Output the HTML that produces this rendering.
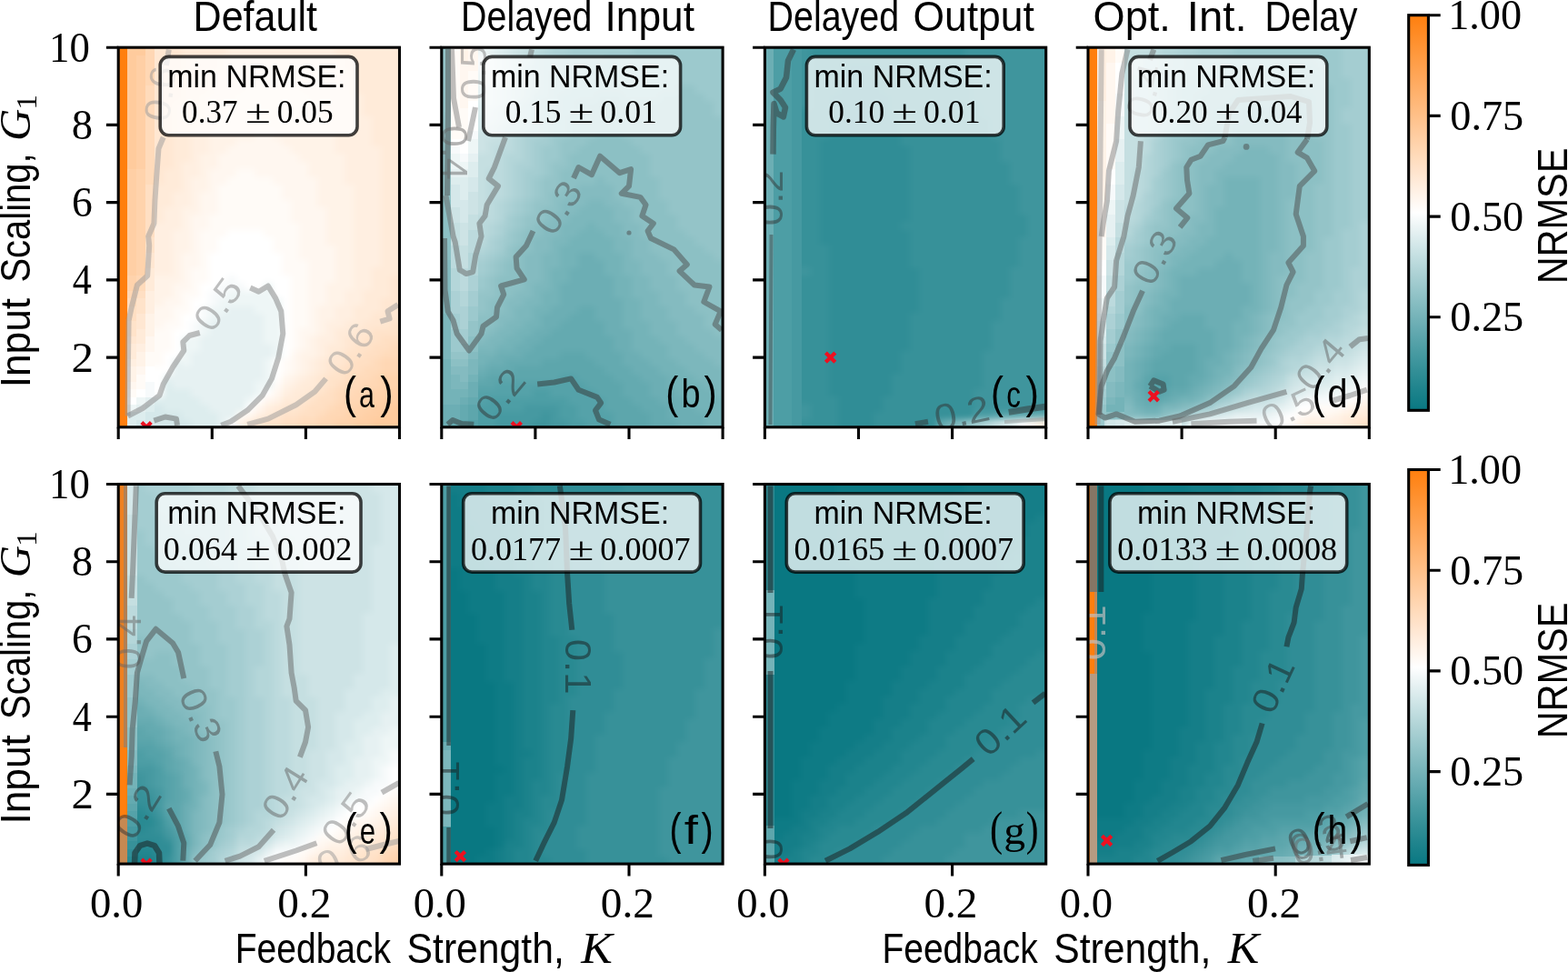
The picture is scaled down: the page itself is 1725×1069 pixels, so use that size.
<!DOCTYPE html>
<html lang="en"><head><meta charset="utf-8"><title>NRMSE heatmaps</title><style>html,body{margin:0;padding:0;background:#fff;}body{width:1725px;height:1069px;overflow:hidden;}svg{display:block;}</style></head><body>
<svg width="1725" height="1069" viewBox="0 0 1725 1069" role="img" aria-label="NRMSE heatmaps">
<rect width="1725" height="1069" fill="#fff"/>
<defs>
<clipPath id="cpa"><rect x="130.2" y="52.2" width="309.3" height="417.6"/></clipPath>
<clipPath id="cpb"><rect x="485.8" y="52.2" width="309.3" height="417.6"/></clipPath>
<clipPath id="cpc"><rect x="841.4" y="52.2" width="309.3" height="417.6"/></clipPath>
<clipPath id="cpd"><rect x="1197.0" y="52.2" width="309.3" height="417.6"/></clipPath>
<clipPath id="cpe"><rect x="130.2" y="532.5" width="309.3" height="417.6"/></clipPath>
<clipPath id="cpf"><rect x="485.8" y="532.5" width="309.3" height="417.6"/></clipPath>
<clipPath id="cpg"><rect x="841.4" y="532.5" width="309.3" height="417.6"/></clipPath>
<clipPath id="cph"><rect x="1197.0" y="532.5" width="309.3" height="417.6"/></clipPath>
<filter id="bl" x="-10%" y="-10%" width="120%" height="120%" color-interpolation-filters="sRGB"><feGaussianBlur stdDeviation="3.2"/></filter>
<linearGradient id="cb" x1="0" y1="0" x2="0" y2="1"><stop offset="0.000" stop-color="#ff7f0e"/><stop offset="0.050" stop-color="#ff8c26"/><stop offset="0.100" stop-color="#ff993e"/><stop offset="0.150" stop-color="#ffa556"/><stop offset="0.200" stop-color="#ffb26e"/><stop offset="0.250" stop-color="#ffbf86"/><stop offset="0.300" stop-color="#ffcc9f"/><stop offset="0.350" stop-color="#ffd9b7"/><stop offset="0.400" stop-color="#ffe5cf"/><stop offset="0.450" stop-color="#fff2e7"/><stop offset="0.500" stop-color="#ffffff"/><stop offset="0.550" stop-color="#e4f0f1"/><stop offset="0.600" stop-color="#c9e2e4"/><stop offset="0.650" stop-color="#afd3d6"/><stop offset="0.700" stop-color="#95c5c9"/><stop offset="0.750" stop-color="#7cb7bc"/><stop offset="0.800" stop-color="#63a9b0"/><stop offset="0.850" stop-color="#4a9ca3"/><stop offset="0.900" stop-color="#338f97"/><stop offset="0.950" stop-color="#1d838c"/><stop offset="1.000" stop-color="#097882"/></linearGradient>
</defs>
<g clip-path="url(#cpa)" shape-rendering="crispEdges">
<g filter="url(#bl)">
<path fill="#d5e8ea" d="M109.9 444.4H180.4V453.4H109.9zM109.9 452.8H200.3V461.7H109.9zM109.9 461.1H210.3V470.1H109.9zM109.9 469.5H210.3V478.5H109.9zM109.9 477.9H210.3V486.8H109.9z"/>
<path fill="#ddedee" d="M179.8 419.4H190.4V428.3H179.8zM179.8 427.7H210.3V436.7H179.8zM109.9 436.1H220.3V445.0H109.9zM179.8 444.4H230.3V453.4H179.8zM199.7 452.8H240.3V461.7H199.7zM209.7 461.1H240.3V470.1H209.7zM209.7 469.5H240.3V478.5H209.7zM209.7 477.9H240.3V486.8H209.7z"/>
<path fill="#e6f1f2" d="M249.6 335.9H280.2V344.8H249.6zM239.7 344.2H290.1V353.2H239.7zM229.7 352.6H290.1V361.5H229.7zM229.7 360.9H290.1V369.9H229.7zM219.7 369.3H290.1V378.2H219.7zM219.7 377.6H300.1V386.6H219.7zM209.7 386.0H300.1V394.9H209.7zM189.8 394.3H200.3V403.3H189.8zM209.7 394.3H290.1V403.3H209.7zM189.8 402.7H290.1V411.6H189.8zM179.8 411.0H290.1V420.0H179.8zM189.8 419.4H280.2V428.3H189.8zM209.7 427.7H280.2V436.7H209.7zM219.7 436.1H270.2V445.0H219.7zM229.7 444.4H270.2V453.4H229.7zM239.7 452.8H260.2V461.7H239.7zM239.7 461.1H250.2V470.1H239.7zM239.7 469.5H250.2V478.5H239.7zM239.7 477.9H250.2V486.8H239.7z"/>
<path fill="#eef6f6" d="M289.5 310.8H300.1V319.8H289.5zM249.6 319.2H300.1V328.1H249.6zM239.7 327.5H310.1V336.5H239.7zM229.7 335.9H250.2V344.8H229.7zM279.6 335.9H310.1V344.8H279.6zM229.7 344.2H240.3V353.2H229.7zM289.5 344.2H310.1V353.2H289.5zM219.7 352.6H230.3V361.5H219.7zM289.5 352.6H310.1V361.5H289.5zM219.7 360.9H230.3V369.9H219.7zM289.5 360.9H310.1V369.9H289.5zM199.7 369.3H220.3V378.2H199.7zM289.5 369.3H310.1V378.2H289.5zM199.7 377.6H220.3V386.6H199.7zM299.5 377.6H310.1V386.6H299.5zM199.7 386.0H210.3V394.9H199.7zM299.5 386.0H310.1V394.9H299.5zM199.7 394.3H210.3V403.3H199.7zM289.5 394.3H300.1V403.3H289.5zM289.5 402.7H300.1V411.6H289.5zM289.5 411.0H300.1V420.0H289.5zM279.6 419.4H300.1V428.3H279.6zM279.6 427.7H290.1V436.7H279.6zM269.6 436.1H280.2V445.0H269.6z"/>
<path fill="#f7fafb" d="M249.6 302.5H260.2V311.4H249.6zM239.7 310.8H270.2V319.8H239.7zM229.7 319.2H250.2V328.1H229.7zM229.7 327.5H240.3V336.5H229.7zM219.7 335.9H230.3V344.8H219.7zM219.7 344.2H230.3V353.2H219.7zM209.7 352.6H220.3V361.5H209.7zM209.7 360.9H220.3V369.9H209.7z"/>
<path fill="#ffffff" d="M249.6 252.3H290.1V261.3H249.6zM239.7 260.7H300.1V269.7H239.7zM239.7 269.1H300.1V278.0H239.7zM229.7 277.4H310.1V286.4H229.7zM229.7 285.8H310.1V294.7H229.7zM229.7 294.1H310.1V303.1H229.7zM229.7 302.5H250.2V311.4H229.7zM259.6 302.5H320.1V311.4H259.6zM219.7 310.8H240.3V319.8H219.7zM269.6 310.8H290.1V319.8H269.6zM299.5 310.8H320.1V319.8H299.5zM219.7 319.2H230.3V328.1H219.7zM299.5 319.2H320.1V328.1H299.5zM209.7 327.5H230.3V336.5H209.7zM309.5 327.5H320.1V336.5H309.5zM209.7 335.9H220.3V344.8H209.7zM309.5 335.9H320.1V344.8H309.5zM199.7 344.2H220.3V353.2H199.7zM309.5 344.2H320.1V353.2H309.5zM199.7 352.6H210.3V361.5H199.7zM309.5 352.6H320.1V361.5H309.5zM189.8 360.9H210.3V369.9H189.8zM309.5 360.9H320.1V369.9H309.5zM189.8 369.3H200.3V378.2H189.8zM309.5 369.3H320.1V378.2H309.5zM189.8 377.6H200.3V386.6H189.8zM309.5 377.6H320.1V386.6H309.5zM179.8 386.0H200.3V394.9H179.8zM309.5 386.0H320.1V394.9H309.5zM179.8 394.3H190.4V403.3H179.8zM299.5 394.3H310.1V403.3H299.5zM109.9 402.7H190.4V411.6H109.9zM299.5 402.7H310.1V411.6H299.5zM109.9 411.0H180.4V420.0H109.9zM299.5 411.0H310.1V420.0H299.5zM109.9 419.4H180.4V428.3H109.9zM109.9 427.7H180.4V436.7H109.9zM289.5 427.7H300.1V436.7H289.5zM279.6 436.1H290.1V445.0H279.6zM269.6 444.4H280.2V453.4H269.6zM249.6 461.1H260.2V470.1H249.6zM249.6 469.5H260.2V478.5H249.6zM249.6 477.9H260.2V486.8H249.6z"/>
<path fill="#fffbf7" d="M259.6 185.5H280.2V194.5H259.6zM249.6 193.9H300.1V202.8H249.6zM239.7 202.2H310.1V211.2H239.7zM239.7 210.6H310.1V219.5H239.7zM239.7 218.9H320.1V227.9H239.7zM239.7 227.3H320.1V236.2H239.7zM229.7 235.6H320.1V244.6H229.7zM229.7 244.0H330.0V252.9H229.7zM219.7 252.3H250.2V261.3H219.7zM289.5 252.3H330.0V261.3H289.5zM219.7 260.7H240.3V269.7H219.7zM299.5 260.7H330.0V269.7H299.5zM219.7 269.1H240.3V278.0H219.7zM299.5 269.1H330.0V278.0H299.5zM219.7 277.4H230.3V286.4H219.7zM309.5 277.4H330.0V286.4H309.5zM219.7 285.8H230.3V294.7H219.7zM309.5 285.8H340.0V294.7H309.5zM209.7 294.1H230.3V303.1H209.7zM309.5 294.1H340.0V303.1H309.5zM209.7 302.5H230.3V311.4H209.7zM319.5 302.5H340.0V311.4H319.5zM209.7 310.8H220.3V319.8H209.7zM319.5 310.8H340.0V319.8H319.5zM199.7 319.2H220.3V328.1H199.7zM319.5 319.2H340.0V328.1H319.5zM199.7 327.5H210.3V336.5H199.7zM319.5 327.5H340.0V336.5H319.5zM189.8 335.9H210.3V344.8H189.8zM319.5 335.9H340.0V344.8H319.5zM189.8 344.2H200.3V353.2H189.8zM319.5 344.2H340.0V353.2H319.5zM179.8 352.6H200.3V361.5H179.8zM319.5 352.6H340.0V361.5H319.5zM109.9 360.9H190.4V369.9H109.9zM319.5 360.9H330.0V369.9H319.5zM109.9 369.3H190.4V378.2H109.9zM319.5 369.3H330.0V378.2H319.5zM109.9 377.6H190.4V386.6H109.9zM319.5 377.6H330.0V386.6H319.5zM109.9 386.0H180.4V394.9H109.9zM109.9 394.3H180.4V403.3H109.9zM309.5 394.3H320.1V403.3H309.5zM309.5 402.7H320.1V411.6H309.5zM299.5 419.4H310.1V428.3H299.5zM259.6 452.8H270.2V461.7H259.6z"/>
<path fill="#fff7f0" d="M279.6 143.8H300.1V152.7H279.6zM259.6 152.1H310.1V161.1H259.6zM249.6 160.5H320.1V169.4H249.6zM239.7 168.8H330.0V177.8H239.7zM239.7 177.2H340.0V186.1H239.7zM229.7 185.5H260.2V194.5H229.7zM279.6 185.5H340.0V194.5H279.6zM229.7 193.9H250.2V202.8H229.7zM299.5 193.9H350.0V202.8H299.5zM229.7 202.2H240.3V211.2H229.7zM309.5 202.2H350.0V211.2H309.5zM219.7 210.6H240.3V219.5H219.7zM309.5 210.6H350.0V219.5H309.5zM219.7 218.9H240.3V227.9H219.7zM319.5 218.9H350.0V227.9H319.5zM219.7 227.3H240.3V236.2H219.7zM319.5 227.3H360.0V236.2H319.5zM209.7 235.6H230.3V244.6H209.7zM319.5 235.6H360.0V244.6H319.5zM209.7 244.0H230.3V252.9H209.7zM329.4 244.0H360.0V252.9H329.4zM209.7 252.3H220.3V261.3H209.7zM329.4 252.3H360.0V261.3H329.4zM209.7 260.7H220.3V269.7H209.7zM329.4 260.7H360.0V269.7H329.4zM209.7 269.1H220.3V278.0H209.7zM329.4 269.1H370.0V278.0H329.4zM199.7 277.4H220.3V286.4H199.7zM329.4 277.4H370.0V286.4H329.4zM199.7 285.8H220.3V294.7H199.7zM339.4 285.8H370.0V294.7H339.4zM199.7 294.1H210.3V303.1H199.7zM339.4 294.1H370.0V303.1H339.4zM199.7 302.5H210.3V311.4H199.7zM339.4 302.5H370.0V311.4H339.4zM189.8 310.8H210.3V319.8H189.8zM339.4 310.8H360.0V319.8H339.4zM189.8 319.2H200.3V328.1H189.8zM339.4 319.2H360.0V328.1H339.4zM179.8 327.5H200.3V336.5H179.8zM339.4 327.5H360.0V336.5H339.4zM109.9 335.9H190.4V344.8H109.9zM339.4 335.9H350.0V344.8H339.4zM109.9 344.2H190.4V353.2H109.9zM339.4 344.2H350.0V353.2H339.4zM109.9 352.6H180.4V361.5H109.9zM339.4 352.6H350.0V361.5H339.4zM329.4 360.9H350.0V369.9H329.4zM329.4 369.3H340.0V378.2H329.4zM329.4 377.6H340.0V386.6H329.4zM319.5 386.0H330.0V394.9H319.5zM319.5 394.3H330.0V403.3H319.5zM319.5 402.7H330.0V411.6H319.5zM309.5 411.0H320.1V420.0H309.5zM299.5 427.7H310.1V436.7H299.5zM289.5 436.1H300.1V445.0H289.5zM279.6 444.4H290.1V453.4H279.6zM269.6 452.8H280.2V461.7H269.6z"/>
<path fill="#fff3e8" d="M289.5 85.3H320.1V94.3H289.5zM269.6 93.7H330.0V102.6H269.6zM259.6 102.0H340.0V111.0H259.6zM259.6 110.4H340.0V119.3H259.6zM249.6 118.7H350.0V127.7H249.6zM239.7 127.1H360.0V136.0H239.7zM239.7 135.4H360.0V144.4H239.7zM229.7 143.8H280.2V152.7H229.7zM299.5 143.8H370.0V152.7H299.5zM229.7 152.1H260.2V161.1H229.7zM309.5 152.1H370.0V161.1H309.5zM229.7 160.5H250.2V169.4H229.7zM319.5 160.5H370.0V169.4H319.5zM219.7 168.8H240.3V177.8H219.7zM329.4 168.8H379.9V177.8H329.4zM219.7 177.2H240.3V186.1H219.7zM339.4 177.2H379.9V186.1H339.4zM219.7 185.5H230.3V194.5H219.7zM339.4 185.5H379.9V194.5H339.4zM209.7 193.9H230.3V202.8H209.7zM349.4 193.9H379.9V202.8H349.4zM209.7 202.2H230.3V211.2H209.7zM349.4 202.2H389.9V211.2H349.4zM209.7 210.6H220.3V219.5H209.7zM349.4 210.6H389.9V219.5H349.4zM209.7 218.9H220.3V227.9H209.7zM349.4 218.9H389.9V227.9H349.4zM199.7 227.3H220.3V236.2H199.7zM359.4 227.3H389.9V236.2H359.4zM199.7 235.6H210.3V244.6H199.7zM359.4 235.6H389.9V244.6H359.4zM199.7 244.0H210.3V252.9H199.7zM359.4 244.0H389.9V252.9H359.4zM189.8 252.3H210.3V261.3H189.8zM359.4 252.3H389.9V261.3H359.4zM189.8 260.7H210.3V269.7H189.8zM359.4 260.7H389.9V269.7H359.4zM189.8 269.1H210.3V278.0H189.8zM369.4 269.1H389.9V278.0H369.4zM189.8 277.4H200.3V286.4H189.8zM369.4 277.4H389.9V286.4H369.4zM189.8 285.8H200.3V294.7H189.8zM369.4 285.8H389.9V294.7H369.4zM189.8 294.1H200.3V303.1H189.8zM369.4 294.1H389.9V303.1H369.4zM109.9 302.5H200.3V311.4H109.9zM369.4 302.5H389.9V311.4H369.4zM109.9 310.8H190.4V319.8H109.9zM359.4 310.8H389.9V319.8H359.4zM109.9 319.2H190.4V328.1H109.9zM359.4 319.2H379.9V328.1H359.4zM109.9 327.5H180.4V336.5H109.9zM359.4 327.5H379.9V336.5H359.4zM349.4 335.9H370.0V344.8H349.4zM349.4 344.2H370.0V353.2H349.4zM349.4 352.6H360.0V361.5H349.4zM349.4 360.9H360.0V369.9H349.4zM339.4 369.3H350.0V378.2H339.4zM339.4 377.6H350.0V386.6H339.4zM329.4 386.0H350.0V394.9H329.4zM329.4 394.3H340.0V403.3H329.4zM329.4 402.7H340.0V411.6H329.4zM319.5 411.0H330.0V420.0H319.5zM309.5 419.4H320.1V428.3H309.5zM299.5 436.1H310.1V445.0H299.5zM259.6 461.1H270.2V470.1H259.6zM259.6 469.5H270.2V478.5H259.6zM259.6 477.9H270.2V486.8H259.6z"/>
<path fill="#ffefe1" d="M249.6 35.2H370.0V44.1H249.6zM249.6 43.5H370.0V52.5H249.6zM249.6 51.9H370.0V60.9H249.6zM239.7 60.3H379.9V69.2H239.7zM239.7 68.6H379.9V77.6H239.7zM229.7 77.0H389.9V85.9H229.7zM229.7 85.3H290.1V94.3H229.7zM319.5 85.3H389.9V94.3H319.5zM229.7 93.7H270.2V102.6H229.7zM329.4 93.7H389.9V102.6H329.4zM219.7 102.0H260.2V111.0H219.7zM339.4 102.0H399.9V111.0H339.4zM219.7 110.4H260.2V119.3H219.7zM339.4 110.4H399.9V119.3H339.4zM219.7 118.7H250.2V127.7H219.7zM349.4 118.7H399.9V127.7H349.4zM219.7 127.1H240.3V136.0H219.7zM359.4 127.1H409.9V136.0H359.4zM209.7 135.4H240.3V144.4H209.7zM359.4 135.4H409.9V144.4H359.4zM209.7 143.8H230.3V152.7H209.7zM369.4 143.8H409.9V152.7H369.4zM209.7 152.1H230.3V161.1H209.7zM369.4 152.1H409.9V161.1H369.4zM209.7 160.5H230.3V169.4H209.7zM369.4 160.5H419.8V169.4H369.4zM209.7 168.8H220.3V177.8H209.7zM379.3 168.8H419.8V177.8H379.3zM199.7 177.2H220.3V186.1H199.7zM379.3 177.2H419.8V186.1H379.3zM199.7 185.5H220.3V194.5H199.7zM379.3 185.5H419.8V194.5H379.3zM199.7 193.9H210.3V202.8H199.7zM379.3 193.9H419.8V202.8H379.3zM199.7 202.2H210.3V211.2H199.7zM389.3 202.2H419.8V211.2H389.3zM189.8 210.6H210.3V219.5H189.8zM389.3 210.6H419.8V219.5H389.3zM189.8 218.9H210.3V227.9H189.8zM389.3 218.9H419.8V227.9H389.3zM179.8 227.3H200.3V236.2H179.8zM389.3 227.3H419.8V236.2H389.3zM179.8 235.6H200.3V244.6H179.8zM389.3 235.6H419.8V244.6H389.3zM109.9 244.0H200.3V252.9H109.9zM389.3 244.0H419.8V252.9H389.3zM109.9 252.3H190.4V261.3H109.9zM389.3 252.3H419.8V261.3H389.3zM109.9 260.7H190.4V269.7H109.9zM389.3 260.7H419.8V269.7H389.3zM109.9 269.1H190.4V278.0H109.9zM389.3 269.1H419.8V278.0H389.3zM109.9 277.4H190.4V286.4H109.9zM389.3 277.4H419.8V286.4H389.3zM109.9 285.8H190.4V294.7H109.9zM389.3 285.8H419.8V294.7H389.3zM109.9 294.1H190.4V303.1H109.9zM389.3 294.1H409.9V303.1H389.3zM389.3 302.5H409.9V311.4H389.3zM389.3 310.8H409.9V319.8H389.3zM379.3 319.2H399.9V328.1H379.3zM379.3 327.5H399.9V336.5H379.3zM369.4 335.9H389.9V344.8H369.4zM369.4 344.2H389.9V353.2H369.4zM359.4 352.6H379.9V361.5H359.4zM359.4 360.9H370.0V369.9H359.4zM349.4 369.3H370.0V378.2H349.4zM349.4 377.6H360.0V386.6H349.4zM349.4 386.0H360.0V394.9H349.4zM339.4 394.3H350.0V403.3H339.4zM339.4 402.7H350.0V411.6H339.4zM329.4 411.0H340.0V420.0H329.4zM319.5 419.4H330.0V428.3H319.5zM309.5 427.7H320.1V436.7H309.5zM289.5 444.4H300.1V453.4H289.5zM279.6 452.8H290.1V461.7H279.6z"/>
<path fill="#ffebd9" d="M199.7 35.2H250.2V44.1H199.7zM369.4 35.2H459.8V44.1H369.4zM199.7 43.5H250.2V52.5H199.7zM369.4 43.5H459.8V52.5H369.4zM199.7 51.9H250.2V60.9H199.7zM369.4 51.9H459.8V60.9H369.4zM199.7 60.3H240.3V69.2H199.7zM379.3 60.3H459.8V69.2H379.3zM199.7 68.6H240.3V77.6H199.7zM379.3 68.6H459.8V77.6H379.3zM199.7 77.0H230.3V85.9H199.7zM389.3 77.0H459.8V85.9H389.3zM199.7 85.3H230.3V94.3H199.7zM389.3 85.3H459.8V94.3H389.3zM199.7 93.7H230.3V102.6H199.7zM389.3 93.7H459.8V102.6H389.3zM199.7 102.0H220.3V111.0H199.7zM399.3 102.0H459.8V111.0H399.3zM189.8 110.4H220.3V119.3H189.8zM399.3 110.4H459.8V119.3H399.3zM189.8 118.7H220.3V127.7H189.8zM399.3 118.7H459.8V127.7H399.3zM189.8 127.1H220.3V136.0H189.8zM409.3 127.1H459.8V136.0H409.3zM189.8 135.4H210.3V144.4H189.8zM409.3 135.4H459.8V144.4H409.3zM189.8 143.8H210.3V152.7H189.8zM409.3 143.8H459.8V152.7H409.3zM189.8 152.1H210.3V161.1H189.8zM409.3 152.1H459.8V161.1H409.3zM189.8 160.5H210.3V169.4H189.8zM419.2 160.5H459.8V169.4H419.2zM189.8 168.8H210.3V177.8H189.8zM419.2 168.8H459.8V177.8H419.2zM189.8 177.2H200.3V186.1H189.8zM419.2 177.2H459.8V186.1H419.2zM179.8 185.5H200.3V194.5H179.8zM419.2 185.5H459.8V194.5H419.2zM179.8 193.9H200.3V202.8H179.8zM419.2 193.9H459.8V202.8H419.2zM109.9 202.2H200.3V211.2H109.9zM419.2 202.2H459.8V211.2H419.2zM109.9 210.6H190.4V219.5H109.9zM419.2 210.6H459.8V219.5H419.2zM109.9 218.9H190.4V227.9H109.9zM419.2 218.9H459.8V227.9H419.2zM109.9 227.3H180.4V236.2H109.9zM419.2 227.3H459.8V236.2H419.2zM109.9 235.6H180.4V244.6H109.9zM419.2 235.6H459.8V244.6H419.2zM419.2 244.0H459.8V252.9H419.2zM419.2 252.3H459.8V261.3H419.2zM419.2 260.7H459.8V269.7H419.2zM419.2 269.1H459.8V278.0H419.2zM419.2 277.4H459.8V286.4H419.2zM419.2 285.8H459.8V294.7H419.2zM409.3 294.1H459.8V303.1H409.3zM409.3 302.5H429.8V311.4H409.3zM409.3 310.8H429.8V319.8H409.3zM399.3 319.2H429.8V328.1H399.3zM399.3 327.5H419.8V336.5H399.3zM389.3 335.9H419.8V344.8H389.3zM389.3 344.2H409.9V353.2H389.3zM379.3 352.6H399.9V361.5H379.3zM369.4 360.9H389.9V369.9H369.4zM369.4 369.3H379.9V378.2H369.4zM359.4 377.6H379.9V386.6H359.4zM359.4 386.0H370.0V394.9H359.4zM349.4 394.3H360.0V403.3H349.4zM349.4 402.7H360.0V411.6H349.4zM339.4 411.0H350.0V420.0H339.4zM329.4 419.4H350.0V428.3H329.4zM319.5 427.7H340.0V436.7H319.5zM309.5 436.1H330.0V445.0H309.5zM299.5 444.4H310.1V453.4H299.5zM289.5 452.8H300.1V461.7H289.5zM269.6 461.1H280.2V470.1H269.6zM269.6 469.5H280.2V478.5H269.6zM269.6 477.9H280.2V486.8H269.6z"/>
<path fill="#ffe7d2" d="M109.9 35.2H200.3V44.1H109.9zM109.9 43.5H200.3V52.5H109.9zM109.9 51.9H200.3V60.9H109.9zM109.9 60.3H200.3V69.2H109.9zM109.9 68.6H200.3V77.6H109.9zM109.9 77.0H200.3V85.9H109.9zM109.9 85.3H200.3V94.3H109.9zM109.9 93.7H200.3V102.6H109.9zM109.9 102.0H200.3V111.0H109.9zM109.9 110.4H190.4V119.3H109.9zM109.9 118.7H190.4V127.7H109.9zM109.9 127.1H190.4V136.0H109.9zM109.9 135.4H190.4V144.4H109.9zM109.9 143.8H190.4V152.7H109.9zM109.9 152.1H190.4V161.1H109.9zM109.9 160.5H190.4V169.4H109.9zM109.9 168.8H190.4V177.8H109.9zM109.9 177.2H190.4V186.1H109.9zM109.9 185.5H180.4V194.5H109.9zM109.9 193.9H180.4V202.8H109.9zM429.2 302.5H459.8V311.4H429.2zM429.2 310.8H459.8V319.8H429.2zM429.2 319.2H459.8V328.1H429.2zM419.2 327.5H459.8V336.5H419.2zM419.2 335.9H459.8V344.8H419.2zM409.3 344.2H459.8V353.2H409.3zM399.3 352.6H429.8V361.5H399.3zM389.3 360.9H409.9V369.9H389.3zM379.3 369.3H399.9V378.2H379.3zM379.3 377.6H389.9V386.6H379.3zM369.4 386.0H379.9V394.9H369.4zM359.4 394.3H379.9V403.3H359.4zM359.4 402.7H370.0V411.6H359.4zM349.4 411.0H360.0V420.0H349.4zM349.4 419.4H360.0V428.3H349.4zM339.4 427.7H350.0V436.7H339.4zM329.4 436.1H340.0V445.0H329.4zM309.5 444.4H330.0V453.4H309.5zM299.5 452.8H310.1V461.7H299.5zM279.6 461.1H290.1V470.1H279.6zM279.6 469.5H290.1V478.5H279.6zM279.6 477.9H290.1V486.8H279.6z"/>
<path fill="#ffe3ca" d="M429.2 352.6H459.8V361.5H429.2zM409.3 360.9H459.8V369.9H409.3zM399.3 369.3H419.8V378.2H399.3zM389.3 377.6H409.9V386.6H389.3zM379.3 386.0H399.9V394.9H379.3zM379.3 394.3H389.9V403.3H379.3zM369.4 402.7H379.9V411.6H369.4zM359.4 411.0H379.9V420.0H359.4zM359.4 419.4H370.0V428.3H359.4zM349.4 427.7H360.0V436.7H349.4zM339.4 436.1H350.0V445.0H339.4zM329.4 444.4H340.0V453.4H329.4zM309.5 452.8H330.0V461.7H309.5zM289.5 461.1H310.1V470.1H289.5zM289.5 469.5H310.1V478.5H289.5zM289.5 477.9H310.1V486.8H289.5z"/>
<path fill="#ffdfc3" d="M419.2 369.3H459.8V378.2H419.2zM409.3 377.6H429.8V386.6H409.3zM399.3 386.0H419.8V394.9H399.3zM389.3 394.3H409.9V403.3H389.3zM379.3 402.7H399.9V411.6H379.3zM379.3 411.0H389.9V420.0H379.3zM369.4 419.4H379.9V428.3H369.4zM359.4 427.7H370.0V436.7H359.4zM349.4 436.1H370.0V445.0H349.4zM339.4 444.4H360.0V453.4H339.4zM329.4 452.8H350.0V461.7H329.4zM309.5 461.1H330.0V470.1H309.5zM309.5 469.5H330.0V478.5H309.5zM309.5 477.9H330.0V486.8H309.5z"/>
<path fill="#ffdbbb" d="M429.2 377.6H459.8V386.6H429.2zM419.2 386.0H459.8V394.9H419.2zM409.3 394.3H419.8V403.3H409.3zM399.3 402.7H419.8V411.6H399.3zM389.3 411.0H409.9V420.0H389.3zM379.3 419.4H399.9V428.3H379.3zM369.4 427.7H389.9V436.7H369.4zM369.4 436.1H379.9V445.0H369.4zM359.4 444.4H370.0V453.4H359.4zM349.4 452.8H360.0V461.7H349.4zM329.4 461.1H350.0V470.1H329.4zM329.4 469.5H350.0V478.5H329.4zM329.4 477.9H350.0V486.8H329.4z"/>
<path fill="#ffd7b4" d="M419.2 394.3H459.8V403.3H419.2zM419.2 402.7H459.8V411.6H419.2zM409.3 411.0H419.8V420.0H409.3zM399.3 419.4H419.8V428.3H399.3zM389.3 427.7H409.9V436.7H389.3zM379.3 436.1H399.9V445.0H379.3zM369.4 444.4H389.9V453.4H369.4zM359.4 452.8H379.9V461.7H359.4zM349.4 461.1H370.0V470.1H349.4zM349.4 469.5H370.0V478.5H349.4zM349.4 477.9H370.0V486.8H349.4z"/>
<path fill="#ffd3ac" d="M419.2 411.0H459.8V420.0H419.2zM419.2 419.4H459.8V428.3H419.2zM409.3 427.7H429.8V436.7H409.3zM399.3 436.1H419.8V445.0H399.3zM389.3 444.4H409.9V453.4H389.3zM379.3 452.8H399.9V461.7H379.3zM369.4 461.1H389.9V470.1H369.4zM369.4 469.5H389.9V478.5H369.4zM369.4 477.9H389.9V486.8H369.4z"/>
<path fill="#ffcfa5" d="M429.2 427.7H459.8V436.7H429.2zM419.2 436.1H459.8V445.0H419.2zM409.3 444.4H429.8V453.4H409.3zM399.3 452.8H419.8V461.7H399.3zM389.3 461.1H409.9V470.1H389.3zM389.3 469.5H409.9V478.5H389.3zM389.3 477.9H409.9V486.8H389.3z"/>
<path fill="#ffcb9d" d="M429.2 444.4H459.8V453.4H429.2zM419.2 452.8H459.8V461.7H419.2zM409.3 461.1H459.8V470.1H409.3zM409.3 469.5H459.8V478.5H409.3zM409.3 477.9H459.8V486.8H409.3z"/>
</g>
<path fill="#ff7f0e" d="M129.9 51.9H140.5V60.9H129.9zM129.9 60.3H140.5V69.2H129.9zM129.9 68.6H140.5V77.6H129.9zM129.9 77.0H140.5V85.9H129.9zM129.9 85.3H140.5V94.3H129.9zM129.9 93.7H140.5V102.6H129.9zM129.9 102.0H140.5V111.0H129.9zM129.9 110.4H140.5V119.3H129.9zM129.9 118.7H140.5V127.7H129.9zM129.9 127.1H140.5V136.0H129.9zM129.9 135.4H140.5V144.4H129.9zM129.9 143.8H140.5V152.7H129.9zM129.9 152.1H140.5V161.1H129.9zM129.9 160.5H140.5V169.4H129.9zM129.9 168.8H140.5V177.8H129.9zM129.9 177.2H140.5V186.1H129.9zM129.9 185.5H140.5V194.5H129.9zM129.9 193.9H140.5V202.8H129.9zM129.9 202.2H140.5V211.2H129.9zM129.9 210.6H140.5V219.5H129.9zM129.9 218.9H140.5V227.9H129.9zM129.9 227.3H140.5V236.2H129.9zM129.9 235.6H140.5V244.6H129.9zM129.9 244.0H140.5V252.9H129.9zM129.9 252.3H140.5V261.3H129.9zM129.9 260.7H140.5V269.7H129.9zM129.9 269.1H140.5V278.0H129.9zM129.9 277.4H140.5V286.4H129.9zM129.9 285.8H140.5V294.7H129.9zM129.9 294.1H140.5V303.1H129.9zM129.9 302.5H140.5V311.4H129.9zM129.9 310.8H140.5V319.8H129.9zM129.9 319.2H140.5V328.1H129.9zM129.9 327.5H140.5V336.5H129.9zM129.9 335.9H140.5V344.8H129.9zM129.9 344.2H140.5V353.2H129.9zM129.9 352.6H140.5V361.5H129.9zM129.9 360.9H140.5V369.9H129.9zM129.9 369.3H140.5V378.2H129.9zM129.9 377.6H140.5V386.6H129.9zM129.9 386.0H140.5V394.9H129.9zM129.9 394.3H140.5V403.3H129.9zM129.9 402.7H140.5V411.6H129.9zM129.9 411.0H140.5V420.0H129.9zM129.9 419.4H140.5V428.3H129.9zM129.9 427.7H140.5V436.7H129.9zM129.9 436.1H140.5V445.0H129.9zM129.9 444.4H140.5V453.4H129.9zM129.9 452.8H140.5V461.7H129.9zM129.9 461.1H140.5V470.1H129.9z"/>
<path fill="#ddedee" d="M139.9 452.8H150.5V461.7H139.9zM139.9 461.1H150.5V470.1H139.9z"/>
<path fill="#eef6f6" d="M139.9 444.4H150.5V453.4H139.9z"/>
<path fill="#ffffff" d="M139.9 436.1H150.5V445.0H139.9z"/>
<path fill="#fffbf7" d="M139.9 427.7H150.5V436.7H139.9z"/>
<path fill="#fff7f0" d="M139.9 419.4H150.5V428.3H139.9z"/>
<path fill="#fff3e8" d="M139.9 402.7H150.5V411.6H139.9zM139.9 411.0H150.5V420.0H139.9z"/>
<path fill="#ffefe1" d="M139.9 394.3H150.5V403.3H139.9z"/>
<path fill="#ffebd9" d="M139.9 377.6H150.5V386.6H139.9zM139.9 386.0H150.5V394.9H139.9z"/>
<path fill="#ffe7d2" d="M139.9 369.3H150.5V378.2H139.9z"/>
<path fill="#ffe3ca" d="M139.9 352.6H150.5V361.5H139.9zM139.9 360.9H150.5V369.9H139.9z"/>
<path fill="#ffdfc3" d="M139.9 335.9H150.5V344.8H139.9zM139.9 344.2H150.5V353.2H139.9z"/>
<path fill="#ffdbbb" d="M139.9 327.5H150.5V336.5H139.9z"/>
<path fill="#ffd7b4" d="M139.9 319.2H150.5V328.1H139.9z"/>
<path fill="#ffd3ac" d="M139.9 302.5H150.5V311.4H139.9zM139.9 310.8H150.5V319.8H139.9z"/>
<path fill="#ffcfa5" d="M139.9 185.5H150.5V194.5H139.9zM139.9 193.9H150.5V202.8H139.9zM139.9 202.2H150.5V211.2H139.9zM139.9 210.6H150.5V219.5H139.9zM139.9 218.9H150.5V227.9H139.9zM139.9 227.3H150.5V236.2H139.9zM139.9 235.6H150.5V244.6H139.9zM139.9 244.0H150.5V252.9H139.9zM139.9 252.3H150.5V261.3H139.9zM139.9 260.7H150.5V269.7H139.9zM139.9 269.1H150.5V278.0H139.9zM139.9 277.4H150.5V286.4H139.9zM139.9 285.8H150.5V294.7H139.9zM139.9 294.1H150.5V303.1H139.9z"/>
<path fill="#ffcb9d" d="M139.9 51.9H150.5V60.9H139.9zM139.9 60.3H150.5V69.2H139.9zM139.9 68.6H150.5V77.6H139.9zM139.9 77.0H150.5V85.9H139.9zM139.9 85.3H150.5V94.3H139.9zM139.9 93.7H150.5V102.6H139.9zM139.9 102.0H150.5V111.0H139.9zM139.9 110.4H150.5V119.3H139.9zM139.9 118.7H150.5V127.7H139.9zM139.9 127.1H150.5V136.0H139.9zM139.9 135.4H150.5V144.4H139.9zM139.9 143.8H150.5V152.7H139.9zM139.9 152.1H150.5V161.1H139.9zM139.9 160.5H150.5V169.4H139.9zM139.9 168.8H150.5V177.8H139.9zM139.9 177.2H150.5V186.1H139.9z"/>
<path fill="#d5e8ea" d="M149.9 461.1H160.4V470.1H149.9z"/>
<path fill="#ddedee" d="M149.9 452.8H160.4V461.7H149.9z"/>
<path fill="#e6f1f2" d="M149.9 444.4H160.4V453.4H149.9z"/>
<path fill="#eef6f6" d="M149.9 436.1H160.4V445.0H149.9z"/>
<path fill="#ffffff" d="M149.9 427.7H160.4V436.7H149.9z"/>
<path fill="#fffbf7" d="M149.9 411.0H160.4V420.0H149.9zM149.9 419.4H160.4V428.3H149.9z"/>
<path fill="#fff7f0" d="M149.9 402.7H160.4V411.6H149.9z"/>
<path fill="#fff3e8" d="M149.9 386.0H160.4V394.9H149.9zM149.9 394.3H160.4V403.3H149.9z"/>
<path fill="#ffefe1" d="M149.9 377.6H160.4V386.6H149.9z"/>
<path fill="#ffebd9" d="M149.9 360.9H160.4V369.9H149.9zM149.9 369.3H160.4V378.2H149.9z"/>
<path fill="#ffe7d2" d="M149.9 344.2H160.4V353.2H149.9zM149.9 352.6H160.4V361.5H149.9z"/>
<path fill="#ffe3ca" d="M149.9 327.5H160.4V336.5H149.9zM149.9 335.9H160.4V344.8H149.9z"/>
<path fill="#ffdfc3" d="M149.9 319.2H160.4V328.1H149.9z"/>
<path fill="#ffdbbb" d="M149.9 310.8H160.4V319.8H149.9z"/>
<path fill="#ffd7b4" d="M149.9 302.5H160.4V311.4H149.9z"/>
<path fill="#ffd3ac" d="M149.9 185.5H160.4V194.5H149.9zM149.9 193.9H160.4V202.8H149.9zM149.9 202.2H160.4V211.2H149.9zM149.9 210.6H160.4V219.5H149.9zM149.9 218.9H160.4V227.9H149.9zM149.9 227.3H160.4V236.2H149.9zM149.9 235.6H160.4V244.6H149.9zM149.9 244.0H160.4V252.9H149.9zM149.9 252.3H160.4V261.3H149.9zM149.9 260.7H160.4V269.7H149.9zM149.9 269.1H160.4V278.0H149.9zM149.9 277.4H160.4V286.4H149.9zM149.9 285.8H160.4V294.7H149.9zM149.9 294.1H160.4V303.1H149.9z"/>
<path fill="#ffcfa5" d="M149.9 60.3H160.4V69.2H149.9zM149.9 68.6H160.4V77.6H149.9zM149.9 77.0H160.4V85.9H149.9zM149.9 85.3H160.4V94.3H149.9zM149.9 93.7H160.4V102.6H149.9zM149.9 102.0H160.4V111.0H149.9zM149.9 110.4H160.4V119.3H149.9zM149.9 118.7H160.4V127.7H149.9zM149.9 127.1H160.4V136.0H149.9zM149.9 135.4H160.4V144.4H149.9zM149.9 143.8H160.4V152.7H149.9zM149.9 152.1H160.4V161.1H149.9zM149.9 160.5H160.4V169.4H149.9zM149.9 168.8H160.4V177.8H149.9zM149.9 177.2H160.4V186.1H149.9z"/>
<path fill="#ffcb9d" d="M149.9 51.9H160.4V60.9H149.9z"/>
<path fill="#d5e8ea" d="M159.8 452.8H170.4V461.7H159.8zM159.8 461.1H170.4V470.1H159.8z"/>
<path fill="#ddedee" d="M159.8 444.4H170.4V453.4H159.8z"/>
<path fill="#e6f1f2" d="M159.8 436.1H170.4V445.0H159.8z"/>
<path fill="#f7fafb" d="M159.8 419.4H170.4V428.3H159.8zM159.8 427.7H170.4V436.7H159.8z"/>
<path fill="#ffffff" d="M159.8 402.7H170.4V411.6H159.8zM159.8 411.0H170.4V420.0H159.8z"/>
<path fill="#fffbf7" d="M159.8 386.0H170.4V394.9H159.8zM159.8 394.3H170.4V403.3H159.8z"/>
<path fill="#fff7f0" d="M159.8 369.3H170.4V378.2H159.8zM159.8 377.6H170.4V386.6H159.8z"/>
<path fill="#fff3e8" d="M159.8 344.2H170.4V353.2H159.8zM159.8 352.6H170.4V361.5H159.8zM159.8 360.9H170.4V369.9H159.8z"/>
<path fill="#ffefe1" d="M159.8 319.2H170.4V328.1H159.8zM159.8 327.5H170.4V336.5H159.8zM159.8 335.9H170.4V344.8H159.8z"/>
<path fill="#ffebd9" d="M159.8 294.1H170.4V303.1H159.8zM159.8 302.5H170.4V311.4H159.8zM159.8 310.8H170.4V319.8H159.8z"/>
<path fill="#ffe7d2" d="M159.8 277.4H170.4V286.4H159.8zM159.8 285.8H170.4V294.7H159.8z"/>
<path fill="#ffe3ca" d="M159.8 260.7H170.4V269.7H159.8zM159.8 269.1H170.4V278.0H159.8z"/>
<path fill="#ffdfc3" d="M159.8 202.2H170.4V211.2H159.8zM159.8 210.6H170.4V219.5H159.8zM159.8 218.9H170.4V227.9H159.8zM159.8 227.3H170.4V236.2H159.8zM159.8 235.6H170.4V244.6H159.8zM159.8 244.0H170.4V252.9H159.8zM159.8 252.3H170.4V261.3H159.8z"/>
<path fill="#ffdbbb" d="M159.8 93.7H170.4V102.6H159.8zM159.8 102.0H170.4V111.0H159.8zM159.8 110.4H170.4V119.3H159.8zM159.8 118.7H170.4V127.7H159.8zM159.8 127.1H170.4V136.0H159.8zM159.8 135.4H170.4V144.4H159.8zM159.8 143.8H170.4V152.7H159.8zM159.8 152.1H170.4V161.1H159.8zM159.8 160.5H170.4V169.4H159.8zM159.8 168.8H170.4V177.8H159.8zM159.8 177.2H170.4V186.1H159.8zM159.8 185.5H170.4V194.5H159.8zM159.8 193.9H170.4V202.8H159.8z"/>
<path fill="#ffd7b4" d="M159.8 51.9H170.4V60.9H159.8zM159.8 60.3H170.4V69.2H159.8zM159.8 68.6H170.4V77.6H159.8zM159.8 77.0H170.4V85.9H159.8zM159.8 85.3H170.4V94.3H159.8z"/>
</g>
<g clip-path="url(#cpa)">
<path d="M185.8 54.4L184.5 62.0L183.0 72.0" fill="none" stroke="#999999" stroke-opacity="0.5" stroke-width="6.0" stroke-linejoin="round" stroke-linecap="butt"/>
<path d="M179.7 151.0L174.5 163.4L172.5 190.0L170.4 221.0L169.4 245.7L163.2 260.0L164.2 270.0L162.2 303.2L150.9 313.5L144.7 338.2L141.6 352.6L140.9 400.0L140.6 457.5" fill="none" stroke="#999999" stroke-opacity="0.5" stroke-width="6.0" stroke-linejoin="round" stroke-linecap="butt"/>
<text transform="rotate(-82.00,176.00,103.00) translate(145.76,117.00) scale(1.0878,1)" font-family='"Liberation Sans", sans-serif' font-size="40.00" fill="#999999" opacity="0.5">0.6</text>
<path d="M140.6 457.5L157.0 449.0L175.5 434.9L179.7 422.5L190.0 404.0L202.3 385.5L201.3 376.2L208.5 369.0L219.8 366.0" fill="none" stroke="#808080" stroke-opacity="0.5" stroke-width="6.0" stroke-linejoin="round" stroke-linecap="butt"/>
<text transform="rotate(-54.00,239.50,334.50) translate(209.26,348.50) scale(1.0878,1)" font-family='"Liberation Sans", sans-serif' font-size="40.00" fill="#808080" opacity="0.5">0.5</text>
<path d="M275.3 316.6L284.6 320.7L294.9 314.5L303.1 327.9L309.3 342.3L311.3 367.0L306.2 393.7L299.0 416.4L288.7 434.9L272.2 451.3L253.7 463.7L243.4 467.8" fill="none" stroke="#808080" stroke-opacity="0.5" stroke-width="6.0" stroke-linejoin="round" stroke-linecap="butt"/>
<path d="M169.4 462.7L181.7 458.5L194.0 460.6L195.0 467.8" fill="none" stroke="#666666" stroke-opacity="0.5" stroke-width="6.0" stroke-linejoin="round" stroke-linecap="butt"/>
<path d="M272.2 466.8L294.9 460.6L325.7 445.2L346.3 430.8L358.6 416.4" fill="none" stroke="#999999" stroke-opacity="0.5" stroke-width="6.0" stroke-linejoin="round" stroke-linecap="butt"/>
<text transform="rotate(-55.00,385.50,384.00) translate(355.26,398.00) scale(1.0878,1)" font-family='"Liberation Sans", sans-serif' font-size="40.00" fill="#999999" opacity="0.5">0.6</text>
<path d="M418.3 353.6L428.6 350.5L426.5 342.3L437.9 335.1" fill="none" stroke="#999999" stroke-opacity="0.5" stroke-width="6.0" stroke-linejoin="round" stroke-linecap="butt"/>
<path d="M155.9 464.6L166.3 475.0M155.9 475.0L166.3 464.6" stroke="#ee1020" stroke-width="4.2" fill="none"/>
<rect x="176.2" y="62.4" width="216.8" height="86.4" rx="9.5" ry="9.5" fill="#fff" fill-opacity="0.75" stroke="#000" stroke-opacity="0.75" stroke-width="3.6"/>
<text transform="translate(184.29,96.10) scale(0.9766,1)" font-family='"Liberation Sans", sans-serif' font-size="34.78" fill="#000">min NRMSE:</text>
<text transform="translate(200.10,135.40) scale(0.9896,1)" font-family='"Liberation Serif", serif' font-size="35.49" fill="#000">0.37</text>
<text transform="translate(269.97,135.40) scale(1.4301,1)" font-family='"Liberation Serif", serif' font-size="35.49" fill="#000">±</text>
<text transform="translate(304.79,135.40) scale(0.9955,1)" font-family='"Liberation Serif", serif' font-size="35.49" fill="#000">0.05</text>
<g><text transform="translate(377.99,448.82) scale(0.8315,1)" font-family='"Liberation Sans", sans-serif' font-size="50.37" fill="#000">(</text><text transform="translate(394.98,447.80) scale(0.7550,1)" font-family='"Liberation Sans", sans-serif' font-size="40.38" fill="#000">a</text><text transform="translate(418.18,448.82) scale(0.8615,1)" font-family='"Liberation Sans", sans-serif' font-size="50.37" fill="#000">)</text></g>
</g>
<rect x="130.2" y="52.2" width="309.3" height="417.6" fill="none" stroke="#000" stroke-width="3.1"/>
<path d="M130.2 393.1h-13.3M130.2 307.9h-13.3M130.2 222.6h-13.3M130.2 137.4h-13.3M130.2 52.2h-13.3M130.2 469.8v13.3M233.3 469.8v13.3M336.4 469.8v13.3M439.5 469.8v13.3" stroke="#000" stroke-width="3.1" fill="none"/>
<g clip-path="url(#cpb)" shape-rendering="crispEdges">
<g filter="url(#bl)">
<path fill="#3f959d" d="M595.3 452.8H605.8V461.7H595.3zM585.3 461.1H605.8V470.1H585.3zM585.3 469.5H605.8V478.5H585.3zM585.3 477.9H605.8V486.8H585.3z"/>
<path fill="#4699a1" d="M575.3 444.4H615.8V453.4H575.3zM545.4 452.8H595.9V461.7H545.4zM605.2 452.8H615.8V461.7H605.2zM545.4 461.1H585.9V470.1H545.4zM605.2 461.1H625.8V470.1H605.2zM545.4 469.5H585.9V478.5H545.4zM605.2 469.5H625.8V478.5H605.2zM545.4 477.9H585.9V486.8H545.4zM605.2 477.9H625.8V486.8H605.2z"/>
<path fill="#4d9ea5" d="M585.3 427.7H605.8V436.7H585.3zM535.4 436.1H625.8V445.0H535.4zM465.5 444.4H575.9V453.4H465.5zM615.2 444.4H635.8V453.4H615.2zM465.5 452.8H546.0V461.7H465.5zM615.2 452.8H635.8V461.7H615.2zM465.5 461.1H546.0V470.1H465.5zM625.2 461.1H645.7V470.1H625.2zM465.5 469.5H546.0V478.5H465.5zM625.2 469.5H645.7V478.5H625.2zM465.5 477.9H546.0V486.8H465.5zM625.2 477.9H645.7V486.8H625.2z"/>
<path fill="#55a2a9" d="M615.2 411.0H635.8V420.0H615.2zM545.4 419.4H645.7V428.3H545.4zM465.5 427.7H585.9V436.7H465.5zM605.2 427.7H655.7V436.7H605.2zM465.5 436.1H536.0V445.0H465.5zM625.2 436.1H665.7V445.0H625.2zM635.2 444.4H665.7V453.4H635.2zM635.2 452.8H675.7V461.7H635.2zM645.1 461.1H675.7V470.1H645.1zM645.1 469.5H675.7V478.5H645.1zM645.1 477.9H675.7V486.8H645.1z"/>
<path fill="#5da6ac" d="M615.2 386.0H645.7V394.9H615.2zM595.3 394.3H655.7V403.3H595.3zM565.3 402.7H665.7V411.6H565.3zM535.4 411.0H615.8V420.0H535.4zM635.2 411.0H675.7V420.0H635.2zM465.5 419.4H546.0V428.3H465.5zM645.1 419.4H685.6V428.3H645.1zM655.1 427.7H685.6V436.7H655.1zM665.1 436.1H695.6V445.0H665.1zM665.1 444.4H705.6V453.4H665.1zM675.1 452.8H715.6V461.7H675.1zM675.1 461.1H715.6V470.1H675.1zM675.1 469.5H715.6V478.5H675.1zM675.1 477.9H715.6V486.8H675.1z"/>
<path fill="#64aab0" d="M635.2 335.9H655.7V344.8H635.2zM625.2 344.2H655.7V353.2H625.2zM615.2 352.6H665.7V361.5H615.2zM605.2 360.9H665.7V369.9H605.2zM595.3 369.3H675.7V378.2H595.3zM585.3 377.6H675.7V386.6H585.3zM575.3 386.0H615.8V394.9H575.3zM645.1 386.0H685.6V394.9H645.1zM555.3 394.3H595.9V403.3H555.3zM655.1 394.3H685.6V403.3H655.1zM535.4 402.7H565.9V411.6H535.4zM665.1 402.7H695.6V411.6H665.1zM465.5 411.0H536.0V420.0H465.5zM675.1 411.0H705.6V420.0H675.1zM685.0 419.4H715.6V428.3H685.0zM685.0 427.7H715.6V436.7H685.0zM695.0 436.1H725.6V445.0H695.0zM705.0 444.4H735.5V453.4H705.0zM715.0 452.8H735.5V461.7H715.0zM715.0 461.1H745.5V470.1H715.0zM715.0 469.5H745.5V478.5H715.0zM715.0 477.9H745.5V486.8H715.0z"/>
<path fill="#6caeb4" d="M635.2 277.4H655.7V286.4H635.2zM635.2 285.8H665.7V294.7H635.2zM625.2 294.1H665.7V303.1H625.2zM625.2 302.5H675.7V311.4H625.2zM615.2 310.8H675.7V319.8H615.2zM615.2 319.2H675.7V328.1H615.2zM615.2 327.5H685.6V336.5H615.2zM605.2 335.9H635.8V344.8H605.2zM655.1 335.9H685.6V344.8H655.1zM595.3 344.2H625.8V353.2H595.3zM655.1 344.2H685.6V353.2H655.1zM595.3 352.6H615.8V361.5H595.3zM665.1 352.6H685.6V361.5H665.1zM585.3 360.9H605.8V369.9H585.3zM665.1 360.9H695.6V369.9H665.1zM575.3 369.3H595.9V378.2H575.3zM675.1 369.3H695.6V378.2H675.1zM565.3 377.6H585.9V386.6H565.3zM675.1 377.6H695.6V386.6H675.1zM545.4 386.0H575.9V394.9H545.4zM685.0 386.0H705.6V394.9H685.0zM535.4 394.3H555.9V403.3H535.4zM685.0 394.3H715.6V403.3H685.0zM465.5 402.7H536.0V411.6H465.5zM695.0 402.7H725.6V411.6H695.0zM705.0 411.0H735.5V420.0H705.0zM715.0 419.4H735.5V428.3H715.0zM715.0 427.7H745.5V436.7H715.0zM725.0 436.1H755.5V445.0H725.0zM734.9 444.4H765.5V453.4H734.9zM734.9 452.8H775.4V461.7H734.9zM744.9 461.1H775.4V470.1H744.9zM744.9 469.5H775.4V478.5H744.9zM744.9 477.9H775.4V486.8H744.9z"/>
<path fill="#74b3b8" d="M645.1 244.0H655.7V252.9H645.1zM635.2 252.3H665.7V261.3H635.2zM625.2 260.7H675.7V269.7H625.2zM615.2 269.1H675.7V278.0H615.2zM615.2 277.4H635.8V286.4H615.2zM655.1 277.4H685.6V286.4H655.1zM615.2 285.8H635.8V294.7H615.2zM665.1 285.8H685.6V294.7H665.1zM605.2 294.1H625.8V303.1H605.2zM665.1 294.1H685.6V303.1H665.1zM605.2 302.5H625.8V311.4H605.2zM675.1 302.5H695.6V311.4H675.1zM605.2 310.8H615.8V319.8H605.2zM675.1 310.8H695.6V319.8H675.1zM595.3 319.2H615.8V328.1H595.3zM675.1 319.2H695.6V328.1H675.1zM595.3 327.5H615.8V336.5H595.3zM685.0 327.5H705.6V336.5H685.0zM585.3 335.9H605.8V344.8H585.3zM685.0 335.9H705.6V344.8H685.0zM585.3 344.2H595.9V353.2H585.3zM685.0 344.2H705.6V353.2H685.0zM575.3 352.6H595.9V361.5H575.3zM685.0 352.6H715.6V361.5H685.0zM565.3 360.9H585.9V369.9H565.3zM695.0 360.9H715.6V369.9H695.0zM555.3 369.3H575.9V378.2H555.3zM695.0 369.3H725.6V378.2H695.0zM545.4 377.6H565.9V386.6H545.4zM695.0 377.6H735.5V386.6H695.0zM465.5 386.0H546.0V394.9H465.5zM705.0 386.0H735.5V394.9H705.0zM465.5 394.3H536.0V403.3H465.5zM715.0 394.3H745.5V403.3H715.0zM725.0 402.7H755.5V411.6H725.0zM734.9 411.0H765.5V420.0H734.9zM734.9 419.4H775.4V428.3H734.9zM744.9 427.7H785.4V436.7H744.9zM754.9 436.1H815.4V445.0H754.9zM764.9 444.4H815.4V453.4H764.9zM774.8 452.8H815.4V461.7H774.8zM774.8 461.1H815.4V470.1H774.8zM774.8 469.5H815.4V478.5H774.8zM774.8 477.9H815.4V486.8H774.8z"/>
<path fill="#7cb7bc" d="M645.1 218.9H665.7V227.9H645.1zM635.2 227.3H675.7V236.2H635.2zM625.2 235.6H675.7V244.6H625.2zM615.2 244.0H645.7V252.9H615.2zM655.1 244.0H685.6V252.9H655.1zM615.2 252.3H635.8V261.3H615.2zM665.1 252.3H685.6V261.3H665.1zM605.2 260.7H625.8V269.7H605.2zM675.1 260.7H695.6V269.7H675.1zM605.2 269.1H615.8V278.0H605.2zM675.1 269.1H695.6V278.0H675.1zM595.3 277.4H615.8V286.4H595.3zM685.0 277.4H695.6V286.4H685.0zM595.3 285.8H615.8V294.7H595.3zM685.0 285.8H705.6V294.7H685.0zM595.3 294.1H605.8V303.1H595.3zM685.0 294.1H705.6V303.1H685.0zM595.3 302.5H605.8V311.4H595.3zM695.0 302.5H715.6V311.4H695.0zM585.3 310.8H605.8V319.8H585.3zM695.0 310.8H715.6V319.8H695.0zM585.3 319.2H595.9V328.1H585.3zM695.0 319.2H725.6V328.1H695.0zM575.3 327.5H595.9V336.5H575.3zM705.0 327.5H725.6V336.5H705.0zM565.3 335.9H585.9V344.8H565.3zM705.0 335.9H735.5V344.8H705.0zM565.3 344.2H585.9V353.2H565.3zM705.0 344.2H735.5V353.2H705.0zM555.3 352.6H575.9V361.5H555.3zM715.0 352.6H745.5V361.5H715.0zM545.4 360.9H565.9V369.9H545.4zM715.0 360.9H745.5V369.9H715.0zM535.4 369.3H555.9V378.2H535.4zM725.0 369.3H755.5V378.2H725.0zM465.5 377.6H546.0V386.6H465.5zM734.9 377.6H765.5V386.6H734.9zM734.9 386.0H775.4V394.9H734.9zM744.9 394.3H785.4V403.3H744.9zM754.9 402.7H815.4V411.6H754.9zM764.9 411.0H815.4V420.0H764.9zM774.8 419.4H815.4V428.3H774.8zM784.8 427.7H815.4V436.7H784.8z"/>
<path fill="#84bbc0" d="M655.1 193.9H665.7V202.8H655.1zM635.2 202.2H675.7V211.2H635.2zM625.2 210.6H675.7V219.5H625.2zM615.2 218.9H645.7V227.9H615.2zM665.1 218.9H685.6V227.9H665.1zM615.2 227.3H635.8V236.2H615.2zM675.1 227.3H695.6V236.2H675.1zM605.2 235.6H625.8V244.6H605.2zM675.1 235.6H695.6V244.6H675.1zM595.3 244.0H615.8V252.9H595.3zM685.0 244.0H705.6V252.9H685.0zM595.3 252.3H615.8V261.3H595.3zM685.0 252.3H705.6V261.3H685.0zM585.3 260.7H605.8V269.7H585.3zM695.0 260.7H715.6V269.7H695.0zM585.3 269.1H605.8V278.0H585.3zM695.0 269.1H715.6V278.0H695.0zM575.3 277.4H595.9V286.4H575.3zM695.0 277.4H725.6V286.4H695.0zM575.3 285.8H595.9V294.7H575.3zM705.0 285.8H735.5V294.7H705.0zM575.3 294.1H595.9V303.1H575.3zM705.0 294.1H735.5V303.1H705.0zM575.3 302.5H595.9V311.4H575.3zM715.0 302.5H745.5V311.4H715.0zM575.3 310.8H585.9V319.8H575.3zM715.0 310.8H745.5V319.8H715.0zM565.3 319.2H585.9V328.1H565.3zM725.0 319.2H755.5V328.1H725.0zM555.3 327.5H575.9V336.5H555.3zM725.0 327.5H755.5V336.5H725.0zM555.3 335.9H565.9V344.8H555.3zM734.9 335.9H765.5V344.8H734.9zM545.4 344.2H565.9V353.2H545.4zM734.9 344.2H775.4V353.2H734.9zM545.4 352.6H555.9V361.5H545.4zM744.9 352.6H775.4V361.5H744.9zM535.4 360.9H546.0V369.9H535.4zM744.9 360.9H785.4V369.9H744.9zM465.5 369.3H536.0V378.2H465.5zM754.9 369.3H815.4V378.2H754.9zM764.9 377.6H815.4V386.6H764.9zM774.8 386.0H815.4V394.9H774.8zM784.8 394.3H815.4V403.3H784.8z"/>
<path fill="#8cc0c4" d="M655.1 143.8H685.6V152.7H655.1zM645.1 152.1H695.6V161.1H645.1zM635.2 160.5H705.6V169.4H635.2zM625.2 168.8H715.6V177.8H625.2zM625.2 177.2H715.6V186.1H625.2zM615.2 185.5H715.6V194.5H615.2zM615.2 193.9H655.7V202.8H615.2zM665.1 193.9H725.6V202.8H665.1zM615.2 202.2H635.8V211.2H615.2zM675.1 202.2H725.6V211.2H675.1zM605.2 210.6H625.8V219.5H605.2zM675.1 210.6H725.6V219.5H675.1zM605.2 218.9H615.8V227.9H605.2zM685.0 218.9H735.5V227.9H685.0zM595.3 227.3H615.8V236.2H595.3zM695.0 227.3H735.5V236.2H695.0zM595.3 235.6H605.8V244.6H595.3zM695.0 235.6H745.5V244.6H695.0zM585.3 244.0H595.9V252.9H585.3zM705.0 244.0H745.5V252.9H705.0zM575.3 252.3H595.9V261.3H575.3zM705.0 252.3H755.5V261.3H705.0zM575.3 260.7H585.9V269.7H575.3zM715.0 260.7H765.5V269.7H715.0zM565.3 269.1H585.9V278.0H565.3zM715.0 269.1H775.4V278.0H715.0zM565.3 277.4H575.9V286.4H565.3zM725.0 277.4H785.4V286.4H725.0zM555.3 285.8H575.9V294.7H555.3zM734.9 285.8H815.4V294.7H734.9zM555.3 294.1H575.9V303.1H555.3zM734.9 294.1H815.4V303.1H734.9zM545.4 302.5H575.9V311.4H545.4zM744.9 302.5H815.4V311.4H744.9zM545.4 310.8H575.9V319.8H545.4zM744.9 310.8H815.4V319.8H744.9zM545.4 319.2H565.9V328.1H545.4zM754.9 319.2H815.4V328.1H754.9zM535.4 327.5H555.9V336.5H535.4zM754.9 327.5H815.4V336.5H754.9zM535.4 335.9H555.9V344.8H535.4zM764.9 335.9H815.4V344.8H764.9zM465.5 344.2H546.0V353.2H465.5zM774.8 344.2H815.4V353.2H774.8zM465.5 352.6H546.0V361.5H465.5zM774.8 352.6H815.4V361.5H774.8zM465.5 360.9H536.0V369.9H465.5zM784.8 360.9H815.4V369.9H784.8z"/>
<path fill="#94c4c8" d="M744.9 93.7H765.5V102.6H744.9zM655.1 102.0H685.6V111.0H655.1zM725.0 102.0H775.4V111.0H725.0zM635.2 110.4H785.4V119.3H635.2zM635.2 118.7H785.4V127.7H635.2zM625.2 127.1H815.4V136.0H625.2zM625.2 135.4H815.4V144.4H625.2zM625.2 143.8H655.7V152.7H625.2zM685.0 143.8H815.4V152.7H685.0zM615.2 152.1H645.7V161.1H615.2zM695.0 152.1H815.4V161.1H695.0zM615.2 160.5H635.8V169.4H615.2zM705.0 160.5H815.4V169.4H705.0zM615.2 168.8H625.8V177.8H615.2zM715.0 168.8H815.4V177.8H715.0zM605.2 177.2H625.8V186.1H605.2zM715.0 177.2H815.4V186.1H715.0zM605.2 185.5H615.8V194.5H605.2zM715.0 185.5H815.4V194.5H715.0zM595.3 193.9H615.8V202.8H595.3zM725.0 193.9H815.4V202.8H725.0zM595.3 202.2H615.8V211.2H595.3zM725.0 202.2H815.4V211.2H725.0zM595.3 210.6H605.8V219.5H595.3zM725.0 210.6H815.4V219.5H725.0zM585.3 218.9H605.8V227.9H585.3zM734.9 218.9H815.4V227.9H734.9zM585.3 227.3H595.9V236.2H585.3zM734.9 227.3H815.4V236.2H734.9zM575.3 235.6H595.9V244.6H575.3zM744.9 235.6H815.4V244.6H744.9zM575.3 244.0H585.9V252.9H575.3zM744.9 244.0H815.4V252.9H744.9zM565.3 252.3H575.9V261.3H565.3zM754.9 252.3H815.4V261.3H754.9zM565.3 260.7H575.9V269.7H565.3zM764.9 260.7H815.4V269.7H764.9zM555.3 269.1H565.9V278.0H555.3zM774.8 269.1H815.4V278.0H774.8zM555.3 277.4H565.9V286.4H555.3zM784.8 277.4H815.4V286.4H784.8zM545.4 285.8H555.9V294.7H545.4zM545.4 294.1H555.9V303.1H545.4zM535.4 302.5H546.0V311.4H535.4zM535.4 310.8H546.0V319.8H535.4zM465.5 319.2H546.0V328.1H465.5zM465.5 327.5H536.0V336.5H465.5zM465.5 335.9H536.0V344.8H465.5z"/>
<path fill="#9cc9cd" d="M695.0 35.2H815.4V44.1H695.0zM695.0 43.5H815.4V52.5H695.0zM695.0 51.9H815.4V60.9H695.0zM665.1 60.3H815.4V69.2H665.1zM645.1 68.6H815.4V77.6H645.1zM635.2 77.0H815.4V85.9H635.2zM625.2 85.3H815.4V94.3H625.2zM625.2 93.7H745.5V102.6H625.2zM764.9 93.7H815.4V102.6H764.9zM615.2 102.0H655.7V111.0H615.2zM685.0 102.0H725.6V111.0H685.0zM774.8 102.0H815.4V111.0H774.8zM615.2 110.4H635.8V119.3H615.2zM784.8 110.4H815.4V119.3H784.8zM615.2 118.7H635.8V127.7H615.2zM784.8 118.7H815.4V127.7H784.8zM605.2 127.1H625.8V136.0H605.2zM605.2 135.4H625.8V144.4H605.2zM605.2 143.8H625.8V152.7H605.2zM605.2 152.1H615.8V161.1H605.2zM595.3 160.5H615.8V169.4H595.3zM595.3 168.8H615.8V177.8H595.3zM595.3 177.2H605.8V186.1H595.3zM595.3 185.5H605.8V194.5H595.3zM585.3 193.9H595.9V202.8H585.3zM585.3 202.2H595.9V211.2H585.3zM585.3 210.6H595.9V219.5H585.3zM575.3 218.9H585.9V227.9H575.3zM575.3 227.3H585.9V236.2H575.3zM565.3 235.6H575.9V244.6H565.3zM565.3 244.0H575.9V252.9H565.3zM555.3 252.3H565.9V261.3H555.3zM555.3 260.7H565.9V269.7H555.3zM545.4 277.4H555.9V286.4H545.4zM535.4 285.8H546.0V294.7H535.4zM535.4 294.1H546.0V303.1H535.4zM465.5 302.5H536.0V311.4H465.5zM465.5 310.8H536.0V319.8H465.5z"/>
<path fill="#a4cdd1" d="M625.2 35.2H695.6V44.1H625.2zM625.2 43.5H695.6V52.5H625.2zM625.2 51.9H695.6V60.9H625.2zM615.2 60.3H665.7V69.2H615.2zM615.2 68.6H645.7V77.6H615.2zM605.2 77.0H635.8V85.9H605.2zM605.2 85.3H625.8V94.3H605.2zM605.2 93.7H625.8V102.6H605.2zM605.2 102.0H615.8V111.0H605.2zM595.3 110.4H615.8V119.3H595.3zM595.3 118.7H615.8V127.7H595.3zM595.3 127.1H605.8V136.0H595.3zM595.3 135.4H605.8V144.4H595.3zM595.3 143.8H605.8V152.7H595.3zM585.3 152.1H605.8V161.1H585.3zM585.3 160.5H595.9V169.4H585.3zM585.3 168.8H595.9V177.8H585.3zM585.3 177.2H595.9V186.1H585.3zM575.3 185.5H595.9V194.5H575.3zM575.3 193.9H585.9V202.8H575.3zM575.3 202.2H585.9V211.2H575.3zM575.3 210.6H585.9V219.5H575.3zM565.3 218.9H575.9V227.9H565.3zM565.3 227.3H575.9V236.2H565.3zM555.3 235.6H565.9V244.6H555.3zM555.3 244.0H565.9V252.9H555.3zM545.4 260.7H555.9V269.7H545.4zM545.4 269.1H555.9V278.0H545.4zM535.4 277.4H546.0V286.4H535.4zM465.5 285.8H536.0V294.7H465.5zM465.5 294.1H536.0V303.1H465.5z"/>
<path fill="#acd1d5" d="M605.2 35.2H625.8V44.1H605.2zM605.2 43.5H625.8V52.5H605.2zM605.2 51.9H625.8V60.9H605.2zM595.3 60.3H615.8V69.2H595.3zM595.3 68.6H615.8V77.6H595.3zM595.3 77.0H605.8V85.9H595.3zM595.3 85.3H605.8V94.3H595.3zM595.3 93.7H605.8V102.6H595.3zM585.3 102.0H605.8V111.0H585.3zM585.3 110.4H595.9V119.3H585.3zM585.3 118.7H595.9V127.7H585.3zM585.3 127.1H595.9V136.0H585.3zM585.3 135.4H595.9V144.4H585.3zM575.3 143.8H595.9V152.7H575.3zM575.3 152.1H585.9V161.1H575.3zM575.3 160.5H585.9V169.4H575.3zM575.3 168.8H585.9V177.8H575.3zM565.3 177.2H585.9V186.1H565.3zM565.3 185.5H575.9V194.5H565.3zM565.3 193.9H575.9V202.8H565.3zM565.3 202.2H575.9V211.2H565.3zM565.3 210.6H575.9V219.5H565.3zM555.3 218.9H565.9V227.9H555.3zM555.3 227.3H565.9V236.2H555.3zM545.4 244.0H555.9V252.9H545.4zM545.4 252.3H555.9V261.3H545.4zM535.4 260.7H546.0V269.7H535.4zM535.4 269.1H546.0V278.0H535.4zM465.5 277.4H536.0V286.4H465.5z"/>
<path fill="#b4d6d9" d="M595.3 35.2H605.8V44.1H595.3zM595.3 43.5H605.8V52.5H595.3zM595.3 51.9H605.8V60.9H595.3zM585.3 60.3H595.9V69.2H585.3zM585.3 68.6H595.9V77.6H585.3zM585.3 77.0H595.9V85.9H585.3zM585.3 85.3H595.9V94.3H585.3zM585.3 93.7H595.9V102.6H585.3zM575.3 110.4H585.9V119.3H575.3zM575.3 118.7H585.9V127.7H575.3zM575.3 127.1H585.9V136.0H575.3zM575.3 135.4H585.9V144.4H575.3zM565.3 143.8H575.9V152.7H565.3zM565.3 152.1H575.9V161.1H565.3zM565.3 160.5H575.9V169.4H565.3zM555.3 168.8H575.9V177.8H555.3zM555.3 177.2H565.9V186.1H555.3zM555.3 185.5H565.9V194.5H555.3zM555.3 193.9H565.9V202.8H555.3zM555.3 202.2H565.9V211.2H555.3zM555.3 210.6H565.9V219.5H555.3zM545.4 218.9H555.9V227.9H545.4zM545.4 227.3H555.9V236.2H545.4zM545.4 235.6H555.9V244.6H545.4zM535.4 244.0H546.0V252.9H535.4zM535.4 252.3H546.0V261.3H535.4zM465.5 269.1H536.0V278.0H465.5z"/>
<path fill="#bcdadd" d="M585.3 35.2H595.9V44.1H585.3zM585.3 43.5H595.9V52.5H585.3zM585.3 51.9H595.9V60.9H585.3zM575.3 68.6H585.9V77.6H575.3zM575.3 77.0H585.9V85.9H575.3zM575.3 85.3H585.9V94.3H575.3zM575.3 93.7H585.9V102.6H575.3zM575.3 102.0H585.9V111.0H575.3zM565.3 110.4H575.9V119.3H565.3zM565.3 118.7H575.9V127.7H565.3zM565.3 127.1H575.9V136.0H565.3zM555.3 135.4H575.9V144.4H555.3zM555.3 143.8H565.9V152.7H555.3zM555.3 152.1H565.9V161.1H555.3zM545.4 160.5H565.9V169.4H545.4zM545.4 168.8H555.9V177.8H545.4zM545.4 177.2H555.9V186.1H545.4zM535.4 185.5H555.9V194.5H535.4zM535.4 193.9H555.9V202.8H535.4zM535.4 202.2H555.9V211.2H535.4zM535.4 210.6H555.9V219.5H535.4zM535.4 218.9H546.0V227.9H535.4zM535.4 227.3H546.0V236.2H535.4zM465.5 235.6H546.0V244.6H465.5zM465.5 244.0H536.0V252.9H465.5zM465.5 252.3H536.0V261.3H465.5zM465.5 260.7H536.0V269.7H465.5z"/>
<path fill="#c5dfe1" d="M575.3 35.2H585.9V44.1H575.3zM575.3 43.5H585.9V52.5H575.3zM575.3 51.9H585.9V60.9H575.3zM575.3 60.3H585.9V69.2H575.3zM565.3 77.0H575.9V85.9H565.3zM565.3 85.3H575.9V94.3H565.3zM565.3 93.7H575.9V102.6H565.3zM565.3 102.0H575.9V111.0H565.3zM555.3 118.7H565.9V127.7H555.3zM555.3 127.1H565.9V136.0H555.3zM545.4 135.4H555.9V144.4H545.4zM545.4 143.8H555.9V152.7H545.4zM535.4 152.1H555.9V161.1H535.4zM535.4 160.5H546.0V169.4H535.4zM465.5 168.8H546.0V177.8H465.5zM465.5 177.2H546.0V186.1H465.5zM465.5 185.5H536.0V194.5H465.5zM465.5 193.9H536.0V202.8H465.5zM465.5 202.2H536.0V211.2H465.5zM465.5 210.6H536.0V219.5H465.5zM465.5 218.9H536.0V227.9H465.5zM465.5 227.3H536.0V236.2H465.5z"/>
<path fill="#cde3e5" d="M565.3 35.2H575.9V44.1H565.3zM565.3 43.5H575.9V52.5H565.3zM565.3 51.9H575.9V60.9H565.3zM565.3 60.3H575.9V69.2H565.3zM565.3 68.6H575.9V77.6H565.3zM555.3 85.3H565.9V94.3H555.3zM555.3 93.7H565.9V102.6H555.3zM555.3 102.0H565.9V111.0H555.3zM555.3 110.4H565.9V119.3H555.3zM545.4 118.7H555.9V127.7H545.4zM545.4 127.1H555.9V136.0H545.4zM535.4 135.4H546.0V144.4H535.4zM465.5 143.8H546.0V152.7H465.5zM465.5 152.1H536.0V161.1H465.5zM465.5 160.5H536.0V169.4H465.5z"/>
<path fill="#d5e8ea" d="M555.3 35.2H565.9V44.1H555.3zM555.3 43.5H565.9V52.5H555.3zM555.3 51.9H565.9V60.9H555.3zM555.3 60.3H565.9V69.2H555.3zM555.3 68.6H565.9V77.6H555.3zM555.3 77.0H565.9V85.9H555.3zM545.4 93.7H555.9V102.6H545.4zM545.4 102.0H555.9V111.0H545.4zM545.4 110.4H555.9V119.3H545.4zM535.4 118.7H546.0V127.7H535.4zM465.5 127.1H546.0V136.0H465.5zM465.5 135.4H536.0V144.4H465.5z"/>
<path fill="#ddedee" d="M545.4 35.2H555.9V44.1H545.4zM545.4 43.5H555.9V52.5H545.4zM545.4 51.9H555.9V60.9H545.4zM545.4 60.3H555.9V69.2H545.4zM545.4 68.6H555.9V77.6H545.4zM545.4 77.0H555.9V85.9H545.4zM545.4 85.3H555.9V94.3H545.4zM535.4 93.7H546.0V102.6H535.4zM535.4 102.0H546.0V111.0H535.4zM465.5 110.4H546.0V119.3H465.5zM465.5 118.7H536.0V127.7H465.5z"/>
<path fill="#e6f1f2" d="M535.4 35.2H546.0V44.1H535.4zM535.4 43.5H546.0V52.5H535.4zM535.4 51.9H546.0V60.9H535.4zM535.4 60.3H546.0V69.2H535.4zM535.4 68.6H546.0V77.6H535.4zM535.4 77.0H546.0V85.9H535.4zM535.4 85.3H546.0V94.3H535.4zM465.5 93.7H536.0V102.6H465.5zM465.5 102.0H536.0V111.0H465.5z"/>
<path fill="#eef6f6" d="M465.5 35.2H536.0V44.1H465.5zM465.5 43.5H536.0V52.5H465.5zM465.5 51.9H536.0V60.9H465.5zM465.5 77.0H536.0V85.9H465.5zM465.5 85.3H536.0V94.3H465.5z"/>
<path fill="#f7fafb" d="M465.5 60.3H536.0V69.2H465.5zM465.5 68.6H536.0V77.6H465.5z"/>
</g>
<path fill="#6caeb4" d="M485.5 444.4H496.1V453.4H485.5zM485.5 452.8H496.1V461.7H485.5zM485.5 461.1H496.1V470.1H485.5z"/>
<path fill="#74b3b8" d="M485.5 394.3H496.1V403.3H485.5zM485.5 402.7H496.1V411.6H485.5zM485.5 411.0H496.1V420.0H485.5zM485.5 419.4H496.1V428.3H485.5zM485.5 427.7H496.1V436.7H485.5zM485.5 436.1H496.1V445.0H485.5z"/>
<path fill="#7cb7bc" d="M485.5 344.2H496.1V353.2H485.5zM485.5 352.6H496.1V361.5H485.5zM485.5 360.9H496.1V369.9H485.5zM485.5 369.3H496.1V378.2H485.5zM485.5 377.6H496.1V386.6H485.5zM485.5 386.0H496.1V394.9H485.5z"/>
<path fill="#84bbc0" d="M485.5 285.8H496.1V294.7H485.5zM485.5 294.1H496.1V303.1H485.5zM485.5 302.5H496.1V311.4H485.5zM485.5 310.8H496.1V319.8H485.5zM485.5 319.2H496.1V328.1H485.5zM485.5 327.5H496.1V336.5H485.5zM485.5 335.9H496.1V344.8H485.5z"/>
<path fill="#8cc0c4" d="M485.5 218.9H496.1V227.9H485.5zM485.5 227.3H496.1V236.2H485.5zM485.5 235.6H496.1V244.6H485.5zM485.5 244.0H496.1V252.9H485.5zM485.5 252.3H496.1V261.3H485.5zM485.5 260.7H496.1V269.7H485.5zM485.5 269.1H496.1V278.0H485.5zM485.5 277.4H496.1V286.4H485.5z"/>
<path fill="#94c4c8" d="M485.5 51.9H496.1V60.9H485.5zM485.5 60.3H496.1V69.2H485.5zM485.5 68.6H496.1V77.6H485.5zM485.5 77.0H496.1V85.9H485.5zM485.5 85.3H496.1V94.3H485.5zM485.5 93.7H496.1V102.6H485.5zM485.5 102.0H496.1V111.0H485.5zM485.5 110.4H496.1V119.3H485.5zM485.5 118.7H496.1V127.7H485.5zM485.5 127.1H496.1V136.0H485.5zM485.5 135.4H496.1V144.4H485.5zM485.5 143.8H496.1V152.7H485.5zM485.5 152.1H496.1V161.1H485.5zM485.5 160.5H496.1V169.4H485.5zM485.5 168.8H496.1V177.8H485.5zM485.5 177.2H496.1V186.1H485.5zM485.5 185.5H496.1V194.5H485.5zM485.5 193.9H496.1V202.8H485.5zM485.5 202.2H496.1V211.2H485.5zM485.5 210.6H496.1V219.5H485.5z"/>
<path fill="#64aab0" d="M495.5 461.1H506.1V470.1H495.5z"/>
<path fill="#6caeb4" d="M495.5 444.4H506.1V453.4H495.5zM495.5 452.8H506.1V461.7H495.5z"/>
<path fill="#74b3b8" d="M495.5 427.7H506.1V436.7H495.5zM495.5 436.1H506.1V445.0H495.5z"/>
<path fill="#7cb7bc" d="M495.5 411.0H506.1V420.0H495.5zM495.5 419.4H506.1V428.3H495.5z"/>
<path fill="#84bbc0" d="M495.5 402.7H506.1V411.6H495.5z"/>
<path fill="#8cc0c4" d="M495.5 394.3H506.1V403.3H495.5z"/>
<path fill="#94c4c8" d="M495.5 386.0H506.1V394.9H495.5z"/>
<path fill="#9cc9cd" d="M495.5 360.9H506.1V369.9H495.5zM495.5 369.3H506.1V378.2H495.5zM495.5 377.6H506.1V386.6H495.5z"/>
<path fill="#a4cdd1" d="M495.5 344.2H506.1V353.2H495.5zM495.5 352.6H506.1V361.5H495.5z"/>
<path fill="#acd1d5" d="M495.5 319.2H506.1V328.1H495.5zM495.5 327.5H506.1V336.5H495.5zM495.5 335.9H506.1V344.8H495.5z"/>
<path fill="#b4d6d9" d="M495.5 294.1H506.1V303.1H495.5zM495.5 302.5H506.1V311.4H495.5zM495.5 310.8H506.1V319.8H495.5z"/>
<path fill="#bcdadd" d="M495.5 269.1H506.1V278.0H495.5zM495.5 277.4H506.1V286.4H495.5zM495.5 285.8H506.1V294.7H495.5z"/>
<path fill="#c5dfe1" d="M495.5 244.0H506.1V252.9H495.5zM495.5 252.3H506.1V261.3H495.5zM495.5 260.7H506.1V269.7H495.5z"/>
<path fill="#cde3e5" d="M495.5 227.3H506.1V236.2H495.5zM495.5 235.6H506.1V244.6H495.5z"/>
<path fill="#d5e8ea" d="M495.5 202.2H506.1V211.2H495.5zM495.5 210.6H506.1V219.5H495.5zM495.5 218.9H506.1V227.9H495.5z"/>
<path fill="#ddedee" d="M495.5 193.9H506.1V202.8H495.5z"/>
<path fill="#e6f1f2" d="M495.5 185.5H506.1V194.5H495.5z"/>
<path fill="#eef6f6" d="M495.5 168.8H506.1V177.8H495.5zM495.5 177.2H506.1V186.1H495.5z"/>
<path fill="#f7fafb" d="M495.5 160.5H506.1V169.4H495.5z"/>
<path fill="#ffffff" d="M495.5 152.1H506.1V161.1H495.5z"/>
<path fill="#fffbf7" d="M495.5 51.9H506.1V60.9H495.5zM495.5 60.3H506.1V69.2H495.5zM495.5 68.6H506.1V77.6H495.5zM495.5 77.0H506.1V85.9H495.5zM495.5 85.3H506.1V94.3H495.5zM495.5 93.7H506.1V102.6H495.5zM495.5 102.0H506.1V111.0H495.5zM495.5 110.4H506.1V119.3H495.5zM495.5 118.7H506.1V127.7H495.5zM495.5 127.1H506.1V136.0H495.5zM495.5 135.4H506.1V144.4H495.5zM495.5 143.8H506.1V152.7H495.5z"/>
<path fill="#5da6ac" d="M505.5 461.1H516.0V470.1H505.5z"/>
<path fill="#64aab0" d="M505.5 444.4H516.0V453.4H505.5zM505.5 452.8H516.0V461.7H505.5z"/>
<path fill="#6caeb4" d="M505.5 436.1H516.0V445.0H505.5z"/>
<path fill="#74b3b8" d="M505.5 427.7H516.0V436.7H505.5z"/>
<path fill="#7cb7bc" d="M505.5 419.4H516.0V428.3H505.5z"/>
<path fill="#84bbc0" d="M505.5 402.7H516.0V411.6H505.5zM505.5 411.0H516.0V420.0H505.5z"/>
<path fill="#8cc0c4" d="M505.5 394.3H516.0V403.3H505.5z"/>
<path fill="#94c4c8" d="M505.5 386.0H516.0V394.9H505.5z"/>
<path fill="#9cc9cd" d="M505.5 377.6H516.0V386.6H505.5z"/>
<path fill="#a4cdd1" d="M505.5 360.9H516.0V369.9H505.5zM505.5 369.3H516.0V378.2H505.5z"/>
<path fill="#acd1d5" d="M505.5 335.9H516.0V344.8H505.5zM505.5 344.2H516.0V353.2H505.5zM505.5 352.6H516.0V361.5H505.5z"/>
<path fill="#b4d6d9" d="M505.5 319.2H516.0V328.1H505.5zM505.5 327.5H516.0V336.5H505.5z"/>
<path fill="#bcdadd" d="M505.5 294.1H516.0V303.1H505.5zM505.5 302.5H516.0V311.4H505.5zM505.5 310.8H516.0V319.8H505.5z"/>
<path fill="#c5dfe1" d="M505.5 269.1H516.0V278.0H505.5zM505.5 277.4H516.0V286.4H505.5zM505.5 285.8H516.0V294.7H505.5z"/>
<path fill="#cde3e5" d="M505.5 244.0H516.0V252.9H505.5zM505.5 252.3H516.0V261.3H505.5zM505.5 260.7H516.0V269.7H505.5z"/>
<path fill="#d5e8ea" d="M505.5 218.9H516.0V227.9H505.5zM505.5 227.3H516.0V236.2H505.5zM505.5 235.6H516.0V244.6H505.5z"/>
<path fill="#ddedee" d="M505.5 193.9H516.0V202.8H505.5zM505.5 202.2H516.0V211.2H505.5zM505.5 210.6H516.0V219.5H505.5z"/>
<path fill="#e6f1f2" d="M505.5 185.5H516.0V194.5H505.5z"/>
<path fill="#eef6f6" d="M505.5 177.2H516.0V186.1H505.5z"/>
<path fill="#f7fafb" d="M505.5 168.8H516.0V177.8H505.5z"/>
<path fill="#ffffff" d="M505.5 152.1H516.0V161.1H505.5zM505.5 160.5H516.0V169.4H505.5z"/>
<path fill="#fffbf7" d="M505.5 118.7H516.0V127.7H505.5zM505.5 127.1H516.0V136.0H505.5zM505.5 135.4H516.0V144.4H505.5zM505.5 143.8H516.0V152.7H505.5z"/>
<path fill="#fff7f0" d="M505.5 68.6H516.0V77.6H505.5zM505.5 77.0H516.0V85.9H505.5zM505.5 85.3H516.0V94.3H505.5zM505.5 93.7H516.0V102.6H505.5zM505.5 102.0H516.0V111.0H505.5zM505.5 110.4H516.0V119.3H505.5z"/>
<path fill="#fff3e8" d="M505.5 51.9H516.0V60.9H505.5zM505.5 60.3H516.0V69.2H505.5z"/>
<path fill="#55a2a9" d="M515.4 461.1H526.0V470.1H515.4z"/>
<path fill="#5da6ac" d="M515.4 444.4H526.0V453.4H515.4zM515.4 452.8H526.0V461.7H515.4z"/>
<path fill="#64aab0" d="M515.4 436.1H526.0V445.0H515.4z"/>
<path fill="#6caeb4" d="M515.4 419.4H526.0V428.3H515.4zM515.4 427.7H526.0V436.7H515.4z"/>
<path fill="#74b3b8" d="M515.4 411.0H526.0V420.0H515.4z"/>
<path fill="#7cb7bc" d="M515.4 394.3H526.0V403.3H515.4zM515.4 402.7H526.0V411.6H515.4z"/>
<path fill="#84bbc0" d="M515.4 386.0H526.0V394.9H515.4z"/>
<path fill="#8cc0c4" d="M515.4 369.3H526.0V378.2H515.4zM515.4 377.6H526.0V386.6H515.4z"/>
<path fill="#94c4c8" d="M515.4 352.6H526.0V361.5H515.4zM515.4 360.9H526.0V369.9H515.4z"/>
<path fill="#9cc9cd" d="M515.4 335.9H526.0V344.8H515.4zM515.4 344.2H526.0V353.2H515.4z"/>
<path fill="#a4cdd1" d="M515.4 319.2H526.0V328.1H515.4zM515.4 327.5H526.0V336.5H515.4z"/>
<path fill="#acd1d5" d="M515.4 302.5H526.0V311.4H515.4zM515.4 310.8H526.0V319.8H515.4z"/>
<path fill="#b4d6d9" d="M515.4 277.4H526.0V286.4H515.4zM515.4 285.8H526.0V294.7H515.4zM515.4 294.1H526.0V303.1H515.4z"/>
<path fill="#bcdadd" d="M515.4 252.3H526.0V261.3H515.4zM515.4 260.7H526.0V269.7H515.4zM515.4 269.1H526.0V278.0H515.4z"/>
<path fill="#c5dfe1" d="M515.4 235.6H526.0V244.6H515.4zM515.4 244.0H526.0V252.9H515.4z"/>
<path fill="#cde3e5" d="M515.4 210.6H526.0V219.5H515.4zM515.4 218.9H526.0V227.9H515.4zM515.4 227.3H526.0V236.2H515.4z"/>
<path fill="#d5e8ea" d="M515.4 193.9H526.0V202.8H515.4zM515.4 202.2H526.0V211.2H515.4z"/>
<path fill="#ddedee" d="M515.4 177.2H526.0V186.1H515.4zM515.4 185.5H526.0V194.5H515.4z"/>
<path fill="#e6f1f2" d="M515.4 168.8H526.0V177.8H515.4z"/>
<path fill="#eef6f6" d="M515.4 152.1H526.0V161.1H515.4zM515.4 160.5H526.0V169.4H515.4z"/>
<path fill="#f7fafb" d="M515.4 143.8H526.0V152.7H515.4z"/>
<path fill="#ffffff" d="M515.4 110.4H526.0V119.3H515.4zM515.4 118.7H526.0V127.7H515.4zM515.4 127.1H526.0V136.0H515.4zM515.4 135.4H526.0V144.4H515.4z"/>
<path fill="#fffbf7" d="M515.4 77.0H526.0V85.9H515.4zM515.4 85.3H526.0V94.3H515.4zM515.4 93.7H526.0V102.6H515.4zM515.4 102.0H526.0V111.0H515.4z"/>
<path fill="#fff7f0" d="M515.4 51.9H526.0V60.9H515.4zM515.4 60.3H526.0V69.2H515.4zM515.4 68.6H526.0V77.6H515.4z"/>
</g>
<g clip-path="url(#cpb)">
<path d="M493.0 54.0L493.0 120.0L492.0 215.0" fill="none" stroke="#4c4c4c" stroke-opacity="0.5" stroke-width="6.0" stroke-linejoin="round" stroke-linecap="butt"/>
<path d="M497.0 54.0L498.0 80.0L499.0 108.0L505.0 140.0" fill="none" stroke="#808080" stroke-opacity="0.5" stroke-width="6.0" stroke-linejoin="round" stroke-linecap="butt"/>
<text transform="rotate(-90.00,521.00,80.00) translate(490.76,94.00) scale(1.0878,1)" font-family='"Liberation Sans", sans-serif' font-size="40.00" fill="#808080" opacity="0.5">0.5</text>
<path d="M523.0 118.0L519.0 137.0L515.0 155.0" fill="none" stroke="#808080" stroke-opacity="0.5" stroke-width="6.0" stroke-linejoin="round" stroke-linecap="butt"/>
<path d="M585.0 54.4L583.0 63.0" fill="none" stroke="#666666" stroke-opacity="0.5" stroke-width="6.0" stroke-linejoin="round" stroke-linecap="butt"/>
<path d="M556.0 151.0L543.9 184.0L537.7 196.4L548.0 204.6L535.7 225.2L533.6 237.5L527.4 245.7L529.5 260.0L523.3 280.6L520.2 299.1L513.0 301.1L505.8 297.0L500.7 266.2L498.6 260.0L495.0 240.0L490.4 215.0" fill="none" stroke="#666666" stroke-opacity="0.5" stroke-width="6.0" stroke-linejoin="round" stroke-linecap="butt"/>
<text transform="rotate(90.00,500.00,168.00) translate(469.77,182.00) scale(1.0795,1)" font-family='"Liberation Sans", sans-serif' font-size="40.00" fill="#666666" opacity="0.5">0.4</text>
<path d="M489.0 262.0L489.5 319.0L492.8 342.5L498.6 352.6L502.7 367.0L516.1 385.5L529.5 367.0L531.5 358.8L546.0 348.5L547.0 338.2L554.2 323.8L551.1 314.5L576.8 307.3L568.6 295.0L567.6 282.6L578.9 270.3L586.5 254.0" fill="none" stroke="#4c4c4c" stroke-opacity="0.5" stroke-width="6.0" stroke-linejoin="round" stroke-linecap="butt"/>
<text transform="rotate(-56.00,614.00,228.00) translate(583.76,242.00) scale(1.0878,1)" font-family='"Liberation Sans", sans-serif' font-size="40.00" fill="#4c4c4c" opacity="0.5">0.3</text>
<path d="M631.0 196.0L636.5 184.0L650.9 192.2L660.1 171.7L681.7 190.2L694.1 186.1L692.0 204.6L683.8 212.8L704.4 216.9L710.5 225.2L706.4 237.5L718.8 245.7L712.6 254.0L716.0 262.0L741.4 274.4L755.8 290.9L747.6 298.1L764.0 313.5L780.5 315.5L774.3 332.0L792.8 342.3L786.7 356.7L793.9 362.9" fill="none" stroke="#4c4c4c" stroke-opacity="0.5" stroke-width="6.0" stroke-linejoin="round" stroke-linecap="butt"/>
<circle cx="692.0" cy="256.0" r="2.6" fill="#4c4c4c" fill-opacity="0.5"/>
<path d="M492.5 466.7L498.0 462.0L508.0 466.0L521.3 466.7" fill="none" stroke="#333333" stroke-opacity="0.5" stroke-width="6.0" stroke-linejoin="round" stroke-linecap="butt"/>
<path d="M591.2 422.5L609.7 420.5L628.2 416.4L636.5 428.7L657.0 436.9L661.2 443.1L655.0 451.3L659.1 461.6L671.4 466.8" fill="none" stroke="#333333" stroke-opacity="0.5" stroke-width="6.0" stroke-linejoin="round" stroke-linecap="butt"/>
<text transform="rotate(-50.00,550.00,434.00) translate(519.75,448.00) scale(1.0962,1)" font-family='"Liberation Sans", sans-serif' font-size="40.00" fill="#333333" opacity="0.5">0.2</text>
<path d="M563.1 464.6L573.5 475.0M563.1 475.0L573.5 464.6" stroke="#ee1020" stroke-width="4.2" fill="none"/>
<rect x="531.8" y="62.4" width="216.8" height="86.4" rx="9.5" ry="9.5" fill="#fff" fill-opacity="0.75" stroke="#000" stroke-opacity="0.75" stroke-width="3.6"/>
<text transform="translate(539.89,96.10) scale(0.9766,1)" font-family='"Liberation Sans", sans-serif' font-size="34.78" fill="#000">min NRMSE:</text>
<text transform="translate(555.69,135.40) scale(0.9955,1)" font-family='"Liberation Serif", serif' font-size="35.49" fill="#000">0.15</text>
<text transform="translate(625.57,135.40) scale(1.4301,1)" font-family='"Liberation Serif", serif' font-size="35.49" fill="#000">±</text>
<text transform="translate(660.37,135.40) scale(1.0076,1)" font-family='"Liberation Serif", serif' font-size="35.49" fill="#000">0.01</text>
<g><text transform="translate(732.36,448.82) scale(0.8390,1)" font-family='"Liberation Sans", sans-serif' font-size="50.37" fill="#000">(</text><text transform="translate(749.54,447.80) scale(0.8559,1)" font-family='"Liberation Sans", sans-serif' font-size="44.14" fill="#000">b</text><text transform="translate(774.39,448.82) scale(0.8465,1)" font-family='"Liberation Sans", sans-serif' font-size="50.37" fill="#000">)</text></g>
</g>
<rect x="485.8" y="52.2" width="309.3" height="417.6" fill="none" stroke="#000" stroke-width="3.1"/>
<path d="M485.8 393.1h-13.3M485.8 307.9h-13.3M485.8 222.6h-13.3M485.8 137.4h-13.3M485.8 52.2h-13.3M485.8 469.8v13.3M588.9 469.8v13.3M692.0 469.8v13.3M795.1 469.8v13.3" stroke="#000" stroke-width="3.1" fill="none"/>
<g clip-path="url(#cpc)" shape-rendering="crispEdges">
<g filter="url(#bl)">
<path fill="#308d96" d="M930.9 68.6H961.4V77.6H930.9zM920.9 77.0H961.4V85.9H920.9zM920.9 85.3H971.4V94.3H920.9zM920.9 93.7H971.4V102.6H920.9zM910.9 102.0H981.4V111.0H910.9zM910.9 110.4H981.4V119.3H910.9zM910.9 118.7H981.4V127.7H910.9zM910.9 127.1H991.4V136.0H910.9zM910.9 135.4H991.4V144.4H910.9zM910.9 143.8H991.4V152.7H910.9zM901.0 152.1H991.4V161.1H901.0zM901.0 160.5H1001.3V169.4H901.0zM901.0 168.8H1001.3V177.8H901.0zM901.0 177.2H1001.3V186.1H901.0zM901.0 185.5H1001.3V194.5H901.0zM901.0 193.9H1001.3V202.8H901.0zM901.0 202.2H1001.3V211.2H901.0zM901.0 210.6H1001.3V219.5H901.0zM901.0 218.9H1001.3V227.9H901.0zM901.0 227.3H1001.3V236.2H901.0zM901.0 235.6H1001.3V244.6H901.0zM901.0 244.0H991.4V252.9H901.0zM901.0 252.3H1001.3V261.3H901.0zM901.0 260.7H1001.3V269.7H901.0zM910.9 269.1H1001.3V278.0H910.9zM910.9 277.4H1001.3V286.4H910.9zM910.9 285.8H1001.3V294.7H910.9zM910.9 294.1H1011.3V303.1H910.9zM910.9 302.5H1011.3V311.4H910.9zM910.9 310.8H1011.3V319.8H910.9zM910.9 319.2H1011.3V328.1H910.9zM910.9 327.5H1011.3V336.5H910.9zM910.9 335.9H1011.3V344.8H910.9zM910.9 344.2H1001.3V353.2H910.9zM910.9 352.6H1001.3V361.5H910.9zM910.9 360.9H1001.3V369.9H910.9zM910.9 369.3H1001.3V378.2H910.9zM910.9 377.6H1001.3V386.6H910.9zM910.9 386.0H991.4V394.9H910.9zM910.9 394.3H991.4V403.3H910.9zM910.9 402.7H991.4V411.6H910.9zM910.9 411.0H981.4V420.0H910.9zM910.9 419.4H981.4V428.3H910.9zM910.9 427.7H981.4V436.7H910.9zM920.9 436.1H971.4V445.0H920.9zM920.9 444.4H971.4V453.4H920.9zM920.9 452.8H961.4V461.7H920.9zM920.9 461.1H961.4V470.1H920.9zM920.9 469.5H961.4V478.5H920.9zM920.9 477.9H961.4V486.8H920.9z"/>
<path fill="#379199" d="M891.0 35.2H1061.2V44.1H891.0zM891.0 43.5H1061.2V52.5H891.0zM891.0 51.9H1061.2V60.9H891.0zM891.0 60.3H1061.2V69.2H891.0zM891.0 68.6H931.5V77.6H891.0zM960.8 68.6H1071.2V77.6H960.8zM891.0 77.0H921.5V85.9H891.0zM960.8 77.0H1071.2V85.9H960.8zM891.0 85.3H921.5V94.3H891.0zM970.8 85.3H1071.2V94.3H970.8zM891.0 93.7H921.5V102.6H891.0zM970.8 93.7H1071.2V102.6H970.8zM891.0 102.0H911.5V111.0H891.0zM980.8 102.0H1071.2V111.0H980.8zM891.0 110.4H911.5V119.3H891.0zM980.8 110.4H1081.2V119.3H980.8zM821.1 118.7H911.5V127.7H821.1zM980.8 118.7H1081.2V127.7H980.8zM821.1 127.1H911.5V136.0H821.1zM990.8 127.1H1091.1V136.0H990.8zM821.1 135.4H911.5V144.4H821.1zM990.8 135.4H1091.1V144.4H990.8zM821.1 143.8H911.5V152.7H821.1zM990.8 143.8H1091.1V152.7H990.8zM821.1 152.1H901.6V161.1H821.1zM990.8 152.1H1101.1V161.1H990.8zM821.1 160.5H901.6V169.4H821.1zM1000.7 160.5H1101.1V169.4H1000.7zM821.1 168.8H901.6V177.8H821.1zM1000.7 168.8H1101.1V177.8H1000.7zM821.1 177.2H901.6V186.1H821.1zM1000.7 177.2H1111.1V186.1H1000.7zM821.1 185.5H901.6V194.5H821.1zM1000.7 185.5H1111.1V194.5H1000.7zM821.1 193.9H901.6V202.8H821.1zM1000.7 193.9H1111.1V202.8H1000.7zM821.1 202.2H901.6V211.2H821.1zM1000.7 202.2H1121.1V211.2H1000.7zM821.1 210.6H901.6V219.5H821.1zM1000.7 210.6H1121.1V219.5H1000.7zM821.1 218.9H901.6V227.9H821.1zM1000.7 218.9H1121.1V227.9H1000.7zM821.1 227.3H901.6V236.2H821.1zM1000.7 227.3H1121.1V236.2H1000.7zM821.1 235.6H901.6V244.6H821.1zM1000.7 235.6H1131.0V244.6H1000.7zM821.1 244.0H901.6V252.9H821.1zM990.8 244.0H1131.0V252.9H990.8zM821.1 252.3H901.6V261.3H821.1zM1000.7 252.3H1131.0V261.3H1000.7zM821.1 260.7H901.6V269.7H821.1zM1000.7 260.7H1121.1V269.7H1000.7zM821.1 269.1H911.5V278.0H821.1zM1000.7 269.1H1121.1V278.0H1000.7zM821.1 277.4H911.5V286.4H821.1zM1000.7 277.4H1121.1V286.4H1000.7zM821.1 285.8H911.5V294.7H821.1zM1000.7 285.8H1121.1V294.7H1000.7zM891.0 294.1H911.5V303.1H891.0zM1010.7 294.1H1111.1V303.1H1010.7zM821.1 302.5H911.5V311.4H821.1zM1010.7 302.5H1111.1V311.4H1010.7zM821.1 310.8H911.5V319.8H821.1zM1010.7 310.8H1111.1V319.8H1010.7zM821.1 319.2H911.5V328.1H821.1zM1010.7 319.2H1111.1V328.1H1010.7zM821.1 327.5H911.5V336.5H821.1zM1010.7 327.5H1101.1V336.5H1010.7zM821.1 335.9H911.5V344.8H821.1zM1010.7 335.9H1101.1V344.8H1010.7zM821.1 344.2H911.5V353.2H821.1zM1000.7 344.2H1101.1V353.2H1000.7zM821.1 352.6H911.5V361.5H821.1zM1000.7 352.6H1091.1V361.5H1000.7zM821.1 360.9H911.5V369.9H821.1zM1000.7 360.9H1091.1V369.9H1000.7zM821.1 369.3H911.5V378.2H821.1zM1000.7 369.3H1091.1V378.2H1000.7zM821.1 377.6H911.5V386.6H821.1zM1000.7 377.6H1091.1V386.6H1000.7zM821.1 386.0H911.5V394.9H821.1zM990.8 386.0H1081.2V394.9H990.8zM821.1 394.3H911.5V403.3H821.1zM990.8 394.3H1081.2V403.3H990.8zM821.1 402.7H911.5V411.6H821.1zM990.8 402.7H1081.2V411.6H990.8zM821.1 411.0H911.5V420.0H821.1zM980.8 411.0H1081.2V420.0H980.8zM821.1 419.4H911.5V428.3H821.1zM980.8 419.4H1081.2V428.3H980.8zM821.1 427.7H911.5V436.7H821.1zM980.8 427.7H1071.2V436.7H980.8zM821.1 436.1H921.5V445.0H821.1zM970.8 436.1H1071.2V445.0H970.8zM891.0 444.4H921.5V453.4H891.0zM970.8 444.4H1071.2V453.4H970.8zM891.0 452.8H921.5V461.7H891.0zM960.8 452.8H1071.2V461.7H960.8zM821.1 461.1H921.5V470.1H821.1zM960.8 461.1H1031.3V470.1H960.8zM821.1 469.5H921.5V478.5H821.1zM960.8 469.5H1031.3V478.5H960.8zM821.1 477.9H921.5V486.8H821.1zM960.8 477.9H1031.3V486.8H960.8z"/>
<path fill="#3f959d" d="M821.1 35.2H891.6V44.1H821.1zM1060.6 35.2H1171.0V44.1H1060.6zM821.1 43.5H891.6V52.5H821.1zM1060.6 43.5H1171.0V52.5H1060.6zM821.1 51.9H891.6V60.9H821.1zM1060.6 51.9H1171.0V60.9H1060.6zM821.1 60.3H891.6V69.2H821.1zM1060.6 60.3H1171.0V69.2H1060.6zM821.1 68.6H891.6V77.6H821.1zM1070.6 68.6H1171.0V77.6H1070.6zM821.1 77.0H891.6V85.9H821.1zM1070.6 77.0H1171.0V85.9H1070.6zM821.1 85.3H891.6V94.3H821.1zM1070.6 85.3H1171.0V94.3H1070.6zM821.1 93.7H891.6V102.6H821.1zM1070.6 93.7H1171.0V102.6H1070.6zM821.1 102.0H891.6V111.0H821.1zM1070.6 102.0H1171.0V111.0H1070.6zM821.1 110.4H891.6V119.3H821.1zM1080.6 110.4H1171.0V119.3H1080.6zM1080.6 118.7H1171.0V127.7H1080.6zM1090.5 127.1H1171.0V136.0H1090.5zM1090.5 135.4H1171.0V144.4H1090.5zM1090.5 143.8H1171.0V152.7H1090.5zM1100.5 152.1H1171.0V161.1H1100.5zM1100.5 160.5H1171.0V169.4H1100.5zM1100.5 168.8H1171.0V177.8H1100.5zM1110.5 177.2H1171.0V186.1H1110.5zM1110.5 185.5H1171.0V194.5H1110.5zM1110.5 193.9H1171.0V202.8H1110.5zM1120.5 202.2H1171.0V211.2H1120.5zM1120.5 210.6H1171.0V219.5H1120.5zM1120.5 218.9H1171.0V227.9H1120.5zM1120.5 227.3H1171.0V236.2H1120.5zM1130.4 235.6H1171.0V244.6H1130.4zM1130.4 244.0H1171.0V252.9H1130.4zM1130.4 252.3H1171.0V261.3H1130.4zM1120.5 260.7H1171.0V269.7H1120.5zM1120.5 269.1H1171.0V278.0H1120.5zM1120.5 277.4H1171.0V286.4H1120.5zM1120.5 285.8H1171.0V294.7H1120.5zM821.1 294.1H891.6V303.1H821.1zM1110.5 294.1H1171.0V303.1H1110.5zM1110.5 302.5H1171.0V311.4H1110.5zM1110.5 310.8H1171.0V319.8H1110.5zM1110.5 319.2H1171.0V328.1H1110.5zM1100.5 327.5H1171.0V336.5H1100.5zM1100.5 335.9H1171.0V344.8H1100.5zM1100.5 344.2H1171.0V353.2H1100.5zM1090.5 352.6H1171.0V361.5H1090.5zM1090.5 360.9H1171.0V369.9H1090.5zM1090.5 369.3H1171.0V378.2H1090.5zM1090.5 377.6H1171.0V386.6H1090.5zM1080.6 386.0H1171.0V394.9H1080.6zM1080.6 394.3H1171.0V403.3H1080.6zM1080.6 402.7H1171.0V411.6H1080.6zM1080.6 411.0H1171.0V420.0H1080.6zM1080.6 419.4H1171.0V428.3H1080.6zM1070.6 427.7H1171.0V436.7H1070.6zM1070.6 436.1H1171.0V445.0H1070.6zM821.1 444.4H891.6V453.4H821.1zM1070.6 444.4H1171.0V453.4H1070.6zM821.1 452.8H891.6V461.7H821.1z"/>
<path fill="#4d9ea5" d="M1070.6 452.8H1091.1V461.7H1070.6z"/>
<path fill="#55a2a9" d="M1090.5 452.8H1101.1V461.7H1090.5z"/>
<path fill="#5da6ac" d="M1100.5 452.8H1121.1V461.7H1100.5z"/>
<path fill="#64aab0" d="M1120.5 452.8H1141.0V461.7H1120.5zM1030.7 461.1H1041.2V470.1H1030.7zM1030.7 469.5H1041.2V478.5H1030.7zM1030.7 477.9H1041.2V486.8H1030.7z"/>
<path fill="#6caeb4" d="M1140.4 452.8H1171.0V461.7H1140.4z"/>
<path fill="#74b3b8" d="M1040.6 461.1H1051.2V470.1H1040.6zM1040.6 469.5H1051.2V478.5H1040.6zM1040.6 477.9H1051.2V486.8H1040.6z"/>
<path fill="#84bbc0" d="M1050.6 461.1H1061.2V470.1H1050.6zM1050.6 469.5H1061.2V478.5H1050.6zM1050.6 477.9H1061.2V486.8H1050.6z"/>
<path fill="#94c4c8" d="M1060.6 461.1H1071.2V470.1H1060.6zM1060.6 469.5H1071.2V478.5H1060.6zM1060.6 477.9H1071.2V486.8H1060.6z"/>
<path fill="#a4cdd1" d="M1070.6 461.1H1081.2V470.1H1070.6zM1070.6 469.5H1081.2V478.5H1070.6zM1070.6 477.9H1081.2V486.8H1070.6z"/>
<path fill="#b4d6d9" d="M1080.6 461.1H1091.1V470.1H1080.6zM1080.6 469.5H1091.1V478.5H1080.6zM1080.6 477.9H1091.1V486.8H1080.6z"/>
<path fill="#c5dfe1" d="M1090.5 461.1H1101.1V470.1H1090.5zM1090.5 469.5H1101.1V478.5H1090.5zM1090.5 477.9H1101.1V486.8H1090.5z"/>
<path fill="#d5e8ea" d="M1100.5 461.1H1111.1V470.1H1100.5zM1100.5 469.5H1111.1V478.5H1100.5zM1100.5 477.9H1111.1V486.8H1100.5z"/>
<path fill="#e6f1f2" d="M1110.5 461.1H1121.1V470.1H1110.5zM1110.5 469.5H1121.1V478.5H1110.5zM1110.5 477.9H1121.1V486.8H1110.5z"/>
<path fill="#ffffff" d="M1120.5 461.1H1131.0V470.1H1120.5zM1120.5 469.5H1131.0V478.5H1120.5zM1120.5 477.9H1131.0V486.8H1120.5z"/>
<path fill="#fff7f0" d="M1130.4 461.1H1141.0V470.1H1130.4zM1130.4 469.5H1141.0V478.5H1130.4zM1130.4 477.9H1141.0V486.8H1130.4z"/>
<path fill="#ffefe1" d="M1140.4 461.1H1171.0V470.1H1140.4zM1140.4 469.5H1171.0V478.5H1140.4zM1140.4 477.9H1171.0V486.8H1140.4z"/>
</g>
<path fill="#6caeb4" d="M841.1 51.9H851.7V60.9H841.1zM841.1 60.3H851.7V69.2H841.1zM841.1 68.6H851.7V77.6H841.1zM841.1 77.0H851.7V85.9H841.1zM841.1 85.3H851.7V94.3H841.1zM841.1 93.7H851.7V102.6H841.1zM841.1 102.0H851.7V111.0H841.1zM841.1 110.4H851.7V119.3H841.1zM841.1 118.7H851.7V127.7H841.1zM841.1 127.1H851.7V136.0H841.1zM841.1 135.4H851.7V144.4H841.1zM841.1 143.8H851.7V152.7H841.1zM841.1 152.1H851.7V161.1H841.1zM841.1 160.5H851.7V169.4H841.1zM841.1 168.8H851.7V177.8H841.1zM841.1 177.2H851.7V186.1H841.1zM841.1 185.5H851.7V194.5H841.1zM841.1 193.9H851.7V202.8H841.1zM841.1 202.2H851.7V211.2H841.1zM841.1 210.6H851.7V219.5H841.1zM841.1 218.9H851.7V227.9H841.1zM841.1 227.3H851.7V236.2H841.1zM841.1 235.6H851.7V244.6H841.1zM841.1 244.0H851.7V252.9H841.1zM841.1 252.3H851.7V261.3H841.1zM841.1 260.7H851.7V269.7H841.1zM841.1 269.1H851.7V278.0H841.1zM841.1 277.4H851.7V286.4H841.1zM841.1 285.8H851.7V294.7H841.1zM841.1 294.1H851.7V303.1H841.1zM841.1 302.5H851.7V311.4H841.1zM841.1 310.8H851.7V319.8H841.1zM841.1 319.2H851.7V328.1H841.1zM841.1 327.5H851.7V336.5H841.1zM841.1 335.9H851.7V344.8H841.1zM841.1 344.2H851.7V353.2H841.1zM841.1 352.6H851.7V361.5H841.1zM841.1 360.9H851.7V369.9H841.1zM841.1 369.3H851.7V378.2H841.1zM841.1 377.6H851.7V386.6H841.1zM841.1 386.0H851.7V394.9H841.1zM841.1 394.3H851.7V403.3H841.1zM841.1 402.7H851.7V411.6H841.1zM841.1 411.0H851.7V420.0H841.1zM841.1 419.4H851.7V428.3H841.1zM841.1 427.7H851.7V436.7H841.1zM841.1 436.1H851.7V445.0H841.1zM841.1 444.4H851.7V453.4H841.1zM841.1 452.8H851.7V461.7H841.1zM841.1 461.1H851.7V470.1H841.1z"/>
<path fill="#4d9ea5" d="M851.1 51.9H861.7V60.9H851.1zM851.1 60.3H861.7V69.2H851.1zM851.1 68.6H861.7V77.6H851.1zM851.1 77.0H861.7V85.9H851.1zM851.1 85.3H861.7V94.3H851.1zM851.1 93.7H861.7V102.6H851.1zM851.1 102.0H861.7V111.0H851.1zM851.1 110.4H861.7V119.3H851.1zM851.1 118.7H861.7V127.7H851.1zM851.1 127.1H861.7V136.0H851.1zM851.1 135.4H861.7V144.4H851.1zM851.1 143.8H861.7V152.7H851.1zM851.1 152.1H861.7V161.1H851.1zM851.1 160.5H861.7V169.4H851.1zM851.1 168.8H861.7V177.8H851.1zM851.1 177.2H861.7V186.1H851.1zM851.1 185.5H861.7V194.5H851.1zM851.1 193.9H861.7V202.8H851.1zM851.1 202.2H861.7V211.2H851.1zM851.1 210.6H861.7V219.5H851.1zM851.1 218.9H861.7V227.9H851.1zM851.1 227.3H861.7V236.2H851.1zM851.1 235.6H861.7V244.6H851.1zM851.1 244.0H861.7V252.9H851.1zM851.1 252.3H861.7V261.3H851.1zM851.1 260.7H861.7V269.7H851.1zM851.1 269.1H861.7V278.0H851.1zM851.1 277.4H861.7V286.4H851.1zM851.1 285.8H861.7V294.7H851.1zM851.1 294.1H861.7V303.1H851.1zM851.1 302.5H861.7V311.4H851.1zM851.1 310.8H861.7V319.8H851.1zM851.1 319.2H861.7V328.1H851.1zM851.1 327.5H861.7V336.5H851.1zM851.1 335.9H861.7V344.8H851.1zM851.1 344.2H861.7V353.2H851.1zM851.1 352.6H861.7V361.5H851.1zM851.1 360.9H861.7V369.9H851.1zM851.1 369.3H861.7V378.2H851.1zM851.1 377.6H861.7V386.6H851.1zM851.1 386.0H861.7V394.9H851.1zM851.1 394.3H861.7V403.3H851.1zM851.1 402.7H861.7V411.6H851.1zM851.1 411.0H861.7V420.0H851.1zM851.1 419.4H861.7V428.3H851.1zM851.1 427.7H861.7V436.7H851.1zM851.1 436.1H861.7V445.0H851.1zM851.1 444.4H861.7V453.4H851.1zM851.1 452.8H861.7V461.7H851.1zM851.1 461.1H861.7V470.1H851.1z"/>
<path fill="#4d9ea5" d="M861.1 51.9H871.6V60.9H861.1zM861.1 60.3H871.6V69.2H861.1zM861.1 68.6H871.6V77.6H861.1zM861.1 77.0H871.6V85.9H861.1zM861.1 85.3H871.6V94.3H861.1zM861.1 93.7H871.6V102.6H861.1zM861.1 102.0H871.6V111.0H861.1zM861.1 110.4H871.6V119.3H861.1zM861.1 118.7H871.6V127.7H861.1zM861.1 127.1H871.6V136.0H861.1zM861.1 135.4H871.6V144.4H861.1zM861.1 143.8H871.6V152.7H861.1zM861.1 152.1H871.6V161.1H861.1zM861.1 160.5H871.6V169.4H861.1zM861.1 168.8H871.6V177.8H861.1zM861.1 177.2H871.6V186.1H861.1zM861.1 185.5H871.6V194.5H861.1zM861.1 193.9H871.6V202.8H861.1zM861.1 202.2H871.6V211.2H861.1zM861.1 210.6H871.6V219.5H861.1zM861.1 218.9H871.6V227.9H861.1zM861.1 227.3H871.6V236.2H861.1zM861.1 235.6H871.6V244.6H861.1zM861.1 244.0H871.6V252.9H861.1zM861.1 252.3H871.6V261.3H861.1zM861.1 260.7H871.6V269.7H861.1zM861.1 269.1H871.6V278.0H861.1zM861.1 277.4H871.6V286.4H861.1zM861.1 285.8H871.6V294.7H861.1zM861.1 294.1H871.6V303.1H861.1zM861.1 302.5H871.6V311.4H861.1zM861.1 310.8H871.6V319.8H861.1zM861.1 319.2H871.6V328.1H861.1zM861.1 327.5H871.6V336.5H861.1zM861.1 335.9H871.6V344.8H861.1zM861.1 344.2H871.6V353.2H861.1zM861.1 352.6H871.6V361.5H861.1zM861.1 360.9H871.6V369.9H861.1zM861.1 369.3H871.6V378.2H861.1zM861.1 377.6H871.6V386.6H861.1zM861.1 386.0H871.6V394.9H861.1zM861.1 394.3H871.6V403.3H861.1zM861.1 402.7H871.6V411.6H861.1zM861.1 411.0H871.6V420.0H861.1zM861.1 419.4H871.6V428.3H861.1zM861.1 427.7H871.6V436.7H861.1zM861.1 436.1H871.6V445.0H861.1zM861.1 444.4H871.6V453.4H861.1zM861.1 452.8H871.6V461.7H861.1zM861.1 461.1H871.6V470.1H861.1z"/>
<path fill="#4699a1" d="M871.0 51.9H881.6V60.9H871.0zM871.0 60.3H881.6V69.2H871.0zM871.0 68.6H881.6V77.6H871.0zM871.0 77.0H881.6V85.9H871.0zM871.0 85.3H881.6V94.3H871.0zM871.0 93.7H881.6V102.6H871.0zM871.0 102.0H881.6V111.0H871.0zM871.0 110.4H881.6V119.3H871.0zM871.0 118.7H881.6V127.7H871.0zM871.0 127.1H881.6V136.0H871.0zM871.0 135.4H881.6V144.4H871.0zM871.0 143.8H881.6V152.7H871.0zM871.0 152.1H881.6V161.1H871.0zM871.0 160.5H881.6V169.4H871.0zM871.0 168.8H881.6V177.8H871.0zM871.0 177.2H881.6V186.1H871.0zM871.0 185.5H881.6V194.5H871.0zM871.0 193.9H881.6V202.8H871.0zM871.0 202.2H881.6V211.2H871.0zM871.0 210.6H881.6V219.5H871.0zM871.0 218.9H881.6V227.9H871.0zM871.0 227.3H881.6V236.2H871.0zM871.0 235.6H881.6V244.6H871.0zM871.0 244.0H881.6V252.9H871.0zM871.0 252.3H881.6V261.3H871.0zM871.0 260.7H881.6V269.7H871.0zM871.0 269.1H881.6V278.0H871.0zM871.0 277.4H881.6V286.4H871.0zM871.0 285.8H881.6V294.7H871.0zM871.0 294.1H881.6V303.1H871.0zM871.0 302.5H881.6V311.4H871.0zM871.0 310.8H881.6V319.8H871.0zM871.0 319.2H881.6V328.1H871.0zM871.0 327.5H881.6V336.5H871.0zM871.0 335.9H881.6V344.8H871.0zM871.0 344.2H881.6V353.2H871.0zM871.0 352.6H881.6V361.5H871.0zM871.0 360.9H881.6V369.9H871.0zM871.0 369.3H881.6V378.2H871.0zM871.0 377.6H881.6V386.6H871.0zM871.0 386.0H881.6V394.9H871.0zM871.0 394.3H881.6V403.3H871.0zM871.0 402.7H881.6V411.6H871.0zM871.0 411.0H881.6V420.0H871.0zM871.0 419.4H881.6V428.3H871.0zM871.0 427.7H881.6V436.7H871.0zM871.0 436.1H881.6V445.0H871.0zM871.0 444.4H881.6V453.4H871.0zM871.0 452.8H881.6V461.7H871.0zM871.0 461.1H881.6V470.1H871.0z"/>
</g>
<g clip-path="url(#cpc)">
<path d="M873.0 54.4L867.0 66.7L865.0 85.3L858.7 97.6L850.5 101.7L858.7 110.0L864.0 118.2L861.8 128.5L854.6 124.4L851.5 114.1L850.8 140.0L850.5 169.6" fill="none" stroke="#333333" stroke-opacity="0.5" stroke-width="6.5" stroke-linejoin="round" stroke-linecap="butt"/>
<text transform="rotate(-90.00,846.80,218.00) translate(816.55,232.00) scale(1.0962,1)" font-family='"Liberation Sans", sans-serif' font-size="40.00" fill="#333333" opacity="0.5">0.2</text>
<path d="M848.5 258.0L848.0 360.0L847.5 467.0" fill="none" stroke="#333333" stroke-opacity="0.4" stroke-width="4.0" stroke-linejoin="round" stroke-linecap="butt"/>
<path d="M1006.9 466.2L1021.0 463.7" fill="none" stroke="#333333" stroke-opacity="0.5" stroke-width="6.0" stroke-linejoin="round" stroke-linecap="butt"/>
<text transform="rotate(-12.00,1058.00,454.00) translate(1027.75,468.00) scale(1.0962,1)" font-family='"Liberation Sans", sans-serif' font-size="40.00" fill="#333333" opacity="0.5">0.2</text>
<path d="M1109.7 453.4L1130.0 450.0L1149.9 447.2" fill="none" stroke="#333333" stroke-opacity="0.5" stroke-width="7" stroke-linejoin="round" stroke-linecap="butt"/>
<path d="M1105.0 464.0L1150.0 461.0" fill="none" stroke="#999999" stroke-opacity="0.5" stroke-width="4" stroke-linejoin="round" stroke-linecap="butt"/>
<path d="M908.4 387.9L918.8 398.3M908.4 398.3L918.8 387.9" stroke="#ee1020" stroke-width="4.2" fill="none"/>
<rect x="887.4" y="62.4" width="216.8" height="86.4" rx="9.5" ry="9.5" fill="#fff" fill-opacity="0.75" stroke="#000" stroke-opacity="0.75" stroke-width="3.6"/>
<text transform="translate(895.49,96.10) scale(0.9766,1)" font-family='"Liberation Sans", sans-serif' font-size="34.78" fill="#000">min NRMSE:</text>
<text transform="translate(911.29,135.40) scale(0.9955,1)" font-family='"Liberation Serif", serif' font-size="35.49" fill="#000">0.10</text>
<text transform="translate(981.17,135.40) scale(1.4301,1)" font-family='"Liberation Serif", serif' font-size="35.49" fill="#000">±</text>
<text transform="translate(1015.97,135.40) scale(1.0076,1)" font-family='"Liberation Serif", serif' font-size="35.49" fill="#000">0.01</text>
<g><text transform="translate(1089.99,448.82) scale(0.8315,1)" font-family='"Liberation Sans", sans-serif' font-size="50.37" fill="#000">(</text><text transform="translate(1107.15,447.80) scale(0.7743,1)" font-family='"Liberation Sans", sans-serif' font-size="40.38" fill="#000">c</text><text transform="translate(1128.58,448.82) scale(0.8615,1)" font-family='"Liberation Sans", sans-serif' font-size="50.37" fill="#000">)</text></g>
</g>
<rect x="841.4" y="52.2" width="309.3" height="417.6" fill="none" stroke="#000" stroke-width="3.1"/>
<path d="M841.4 393.1h-13.3M841.4 307.9h-13.3M841.4 222.6h-13.3M841.4 137.4h-13.3M841.4 52.2h-13.3M841.4 469.8v13.3M944.5 469.8v13.3M1047.6 469.8v13.3M1150.7 469.8v13.3" stroke="#000" stroke-width="3.1" fill="none"/>
<g clip-path="url(#cpd)" shape-rendering="crispEdges">
<g filter="url(#bl)">
<path fill="#55a2a9" d="M1266.5 411.0H1287.1V420.0H1266.5zM1266.5 419.4H1287.1V428.3H1266.5zM1266.5 427.7H1277.1V436.7H1266.5z"/>
<path fill="#5da6ac" d="M1286.5 377.6H1317.0V386.6H1286.5zM1276.5 386.0H1317.0V394.9H1276.5zM1266.5 394.3H1317.0V403.3H1266.5zM1266.5 402.7H1317.0V411.6H1266.5zM1256.6 411.0H1267.1V420.0H1256.6zM1286.5 411.0H1307.1V420.0H1286.5zM1256.6 419.4H1267.1V428.3H1256.6zM1286.5 419.4H1307.1V428.3H1286.5zM1256.6 427.7H1267.1V436.7H1256.6zM1276.5 427.7H1287.1V436.7H1276.5zM1266.5 436.1H1277.1V445.0H1266.5z"/>
<path fill="#64aab0" d="M1296.5 344.2H1327.0V353.2H1296.5zM1286.5 352.6H1327.0V361.5H1286.5zM1276.5 360.9H1337.0V369.9H1276.5zM1276.5 369.3H1337.0V378.2H1276.5zM1266.5 377.6H1287.1V386.6H1266.5zM1316.4 377.6H1337.0V386.6H1316.4zM1266.5 386.0H1277.1V394.9H1266.5zM1316.4 386.0H1337.0V394.9H1316.4zM1256.6 394.3H1267.1V403.3H1256.6zM1316.4 394.3H1327.0V403.3H1316.4zM1256.6 402.7H1267.1V411.6H1256.6zM1316.4 402.7H1327.0V411.6H1316.4zM1306.5 411.0H1327.0V420.0H1306.5zM1246.6 419.4H1257.2V428.3H1246.6zM1306.5 419.4H1317.0V428.3H1306.5zM1286.5 427.7H1307.1V436.7H1286.5zM1256.6 436.1H1267.1V445.0H1256.6zM1276.5 436.1H1287.1V445.0H1276.5z"/>
<path fill="#6caeb4" d="M1346.4 277.4H1356.9V286.4H1346.4zM1336.4 285.8H1366.9V294.7H1336.4zM1316.4 294.1H1366.9V303.1H1316.4zM1296.5 302.5H1366.9V311.4H1296.5zM1296.5 310.8H1376.9V319.8H1296.5zM1296.5 319.2H1376.9V328.1H1296.5zM1286.5 327.5H1376.9V336.5H1286.5zM1286.5 335.9H1366.9V344.8H1286.5zM1276.5 344.2H1297.1V353.2H1276.5zM1326.4 344.2H1366.9V353.2H1326.4zM1276.5 352.6H1287.1V361.5H1276.5zM1326.4 352.6H1356.9V361.5H1326.4zM1266.5 360.9H1277.1V369.9H1266.5zM1336.4 360.9H1356.9V369.9H1336.4zM1266.5 369.3H1277.1V378.2H1266.5zM1336.4 369.3H1356.9V378.2H1336.4zM1256.6 377.6H1267.1V386.6H1256.6zM1336.4 377.6H1356.9V386.6H1336.4zM1256.6 386.0H1267.1V394.9H1256.6zM1336.4 386.0H1347.0V394.9H1336.4zM1246.6 394.3H1257.2V403.3H1246.6zM1326.4 394.3H1347.0V403.3H1326.4zM1246.6 402.7H1257.2V411.6H1246.6zM1326.4 402.7H1337.0V411.6H1326.4zM1246.6 411.0H1257.2V420.0H1246.6zM1326.4 411.0H1337.0V420.0H1326.4zM1316.4 419.4H1327.0V428.3H1316.4zM1246.6 427.7H1257.2V436.7H1246.6zM1306.5 427.7H1317.0V436.7H1306.5zM1246.6 436.1H1257.2V445.0H1246.6zM1286.5 436.1H1297.1V445.0H1286.5zM1256.6 444.4H1277.1V453.4H1256.6z"/>
<path fill="#74b3b8" d="M1346.4 193.9H1386.9V202.8H1346.4zM1346.4 202.2H1386.9V211.2H1346.4zM1346.4 210.6H1386.9V219.5H1346.4zM1346.4 218.9H1386.9V227.9H1346.4zM1336.4 227.3H1386.9V236.2H1336.4zM1336.4 235.6H1386.9V244.6H1336.4zM1336.4 244.0H1386.9V252.9H1336.4zM1336.4 252.3H1386.9V261.3H1336.4zM1326.4 260.7H1386.9V269.7H1326.4zM1316.4 269.1H1386.9V278.0H1316.4zM1306.5 277.4H1347.0V286.4H1306.5zM1356.3 277.4H1386.9V286.4H1356.3zM1296.5 285.8H1337.0V294.7H1296.5zM1366.3 285.8H1386.9V294.7H1366.3zM1286.5 294.1H1317.0V303.1H1286.5zM1366.3 294.1H1386.9V303.1H1366.3zM1286.5 302.5H1297.1V311.4H1286.5zM1366.3 302.5H1386.9V311.4H1366.3zM1286.5 310.8H1297.1V319.8H1286.5zM1376.3 310.8H1386.9V319.8H1376.3zM1276.5 319.2H1297.1V328.1H1276.5zM1376.3 319.2H1386.9V328.1H1376.3zM1276.5 327.5H1287.1V336.5H1276.5zM1376.3 327.5H1386.9V336.5H1376.3zM1266.5 335.9H1287.1V344.8H1266.5zM1366.3 335.9H1386.9V344.8H1366.3zM1266.5 344.2H1277.1V353.2H1266.5zM1366.3 344.2H1376.9V353.2H1366.3zM1266.5 352.6H1277.1V361.5H1266.5zM1356.3 352.6H1376.9V361.5H1356.3zM1256.6 360.9H1267.1V369.9H1256.6zM1356.3 360.9H1376.9V369.9H1356.3zM1256.6 369.3H1267.1V378.2H1256.6zM1356.3 369.3H1366.9V378.2H1356.3zM1246.6 377.6H1257.2V386.6H1246.6zM1356.3 377.6H1366.9V386.6H1356.3zM1246.6 386.0H1257.2V394.9H1246.6zM1346.4 386.0H1356.9V394.9H1346.4zM1176.7 394.3H1247.2V403.3H1176.7zM1346.4 394.3H1356.9V403.3H1346.4zM1176.7 402.7H1247.2V411.6H1176.7zM1336.4 402.7H1356.9V411.6H1336.4zM1176.7 411.0H1247.2V420.0H1176.7zM1336.4 411.0H1347.0V420.0H1336.4zM1176.7 419.4H1247.2V428.3H1176.7zM1326.4 419.4H1337.0V428.3H1326.4zM1176.7 427.7H1247.2V436.7H1176.7zM1316.4 427.7H1327.0V436.7H1316.4zM1296.5 436.1H1317.0V445.0H1296.5zM1246.6 444.4H1257.2V453.4H1246.6z"/>
<path fill="#7cb7bc" d="M1366.3 160.5H1396.8V169.4H1366.3zM1356.3 168.8H1406.8V177.8H1356.3zM1346.4 177.2H1406.8V186.1H1346.4zM1336.4 185.5H1406.8V194.5H1336.4zM1336.4 193.9H1347.0V202.8H1336.4zM1386.3 193.9H1406.8V202.8H1386.3zM1326.4 202.2H1347.0V211.2H1326.4zM1386.3 202.2H1406.8V211.2H1386.3zM1326.4 210.6H1347.0V219.5H1326.4zM1386.3 210.6H1406.8V219.5H1386.3zM1326.4 218.9H1347.0V227.9H1326.4zM1386.3 218.9H1406.8V227.9H1386.3zM1326.4 227.3H1337.0V236.2H1326.4zM1386.3 227.3H1406.8V236.2H1386.3zM1326.4 235.6H1337.0V244.6H1326.4zM1386.3 235.6H1406.8V244.6H1386.3zM1316.4 244.0H1337.0V252.9H1316.4zM1386.3 244.0H1406.8V252.9H1386.3zM1316.4 252.3H1337.0V261.3H1316.4zM1386.3 252.3H1406.8V261.3H1386.3zM1306.5 260.7H1327.0V269.7H1306.5zM1386.3 260.7H1406.8V269.7H1386.3zM1296.5 269.1H1317.0V278.0H1296.5zM1386.3 269.1H1406.8V278.0H1386.3zM1286.5 277.4H1307.1V286.4H1286.5zM1386.3 277.4H1396.8V286.4H1386.3zM1286.5 285.8H1297.1V294.7H1286.5zM1386.3 285.8H1396.8V294.7H1386.3zM1276.5 294.1H1287.1V303.1H1276.5zM1386.3 294.1H1396.8V303.1H1386.3zM1276.5 302.5H1287.1V311.4H1276.5zM1386.3 302.5H1396.8V311.4H1386.3zM1276.5 310.8H1287.1V319.8H1276.5zM1386.3 310.8H1396.8V319.8H1386.3zM1266.5 319.2H1277.1V328.1H1266.5zM1386.3 319.2H1396.8V328.1H1386.3zM1266.5 327.5H1277.1V336.5H1266.5zM1386.3 327.5H1396.8V336.5H1386.3zM1256.6 335.9H1267.1V344.8H1256.6zM1386.3 335.9H1396.8V344.8H1386.3zM1256.6 344.2H1267.1V353.2H1256.6zM1376.3 344.2H1386.9V353.2H1376.3zM1256.6 352.6H1267.1V361.5H1256.6zM1376.3 352.6H1386.9V361.5H1376.3zM1246.6 360.9H1257.2V369.9H1246.6zM1376.3 360.9H1386.9V369.9H1376.3zM1246.6 369.3H1257.2V378.2H1246.6zM1366.3 369.3H1376.9V378.2H1366.3zM1176.7 377.6H1247.2V386.6H1176.7zM1366.3 377.6H1376.9V386.6H1366.3zM1176.7 386.0H1247.2V394.9H1176.7zM1356.3 386.0H1366.9V394.9H1356.3zM1356.3 394.3H1366.9V403.3H1356.3zM1346.4 411.0H1356.9V420.0H1346.4zM1336.4 419.4H1347.0V428.3H1336.4zM1326.4 427.7H1337.0V436.7H1326.4zM1176.7 436.1H1247.2V445.0H1176.7zM1316.4 436.1H1327.0V445.0H1316.4zM1276.5 444.4H1297.1V453.4H1276.5zM1256.6 452.8H1277.1V461.7H1256.6z"/>
<path fill="#84bbc0" d="M1366.3 118.7H1406.8V127.7H1366.3zM1366.3 127.1H1416.8V136.0H1366.3zM1356.3 135.4H1426.8V144.4H1356.3zM1356.3 143.8H1416.8V152.7H1356.3zM1356.3 152.1H1416.8V161.1H1356.3zM1336.4 160.5H1366.9V169.4H1336.4zM1396.2 160.5H1416.8V169.4H1396.2zM1326.4 168.8H1356.9V177.8H1326.4zM1406.2 168.8H1416.8V177.8H1406.2zM1316.4 177.2H1347.0V186.1H1316.4zM1406.2 177.2H1426.8V186.1H1406.2zM1316.4 185.5H1337.0V194.5H1316.4zM1406.2 185.5H1426.8V194.5H1406.2zM1316.4 193.9H1337.0V202.8H1316.4zM1406.2 193.9H1426.8V202.8H1406.2zM1316.4 202.2H1327.0V211.2H1316.4zM1406.2 202.2H1426.8V211.2H1406.2zM1316.4 210.6H1327.0V219.5H1316.4zM1406.2 210.6H1426.8V219.5H1406.2zM1316.4 218.9H1327.0V227.9H1316.4zM1406.2 218.9H1416.8V227.9H1406.2zM1316.4 227.3H1327.0V236.2H1316.4zM1406.2 227.3H1416.8V236.2H1406.2zM1306.5 235.6H1327.0V244.6H1306.5zM1406.2 235.6H1416.8V244.6H1406.2zM1306.5 244.0H1317.0V252.9H1306.5zM1406.2 244.0H1416.8V252.9H1406.2zM1296.5 252.3H1317.0V261.3H1296.5zM1406.2 252.3H1416.8V261.3H1406.2zM1286.5 260.7H1307.1V269.7H1286.5zM1406.2 260.7H1416.8V269.7H1406.2zM1286.5 269.1H1297.1V278.0H1286.5zM1406.2 269.1H1416.8V278.0H1406.2zM1276.5 277.4H1287.1V286.4H1276.5zM1396.2 277.4H1416.8V286.4H1396.2zM1276.5 285.8H1287.1V294.7H1276.5zM1396.2 285.8H1416.8V294.7H1396.2zM1266.5 294.1H1277.1V303.1H1266.5zM1396.2 294.1H1416.8V303.1H1396.2zM1266.5 302.5H1277.1V311.4H1266.5zM1396.2 302.5H1406.8V311.4H1396.2zM1266.5 310.8H1277.1V319.8H1266.5zM1396.2 310.8H1406.8V319.8H1396.2zM1256.6 319.2H1267.1V328.1H1256.6zM1396.2 319.2H1406.8V328.1H1396.2zM1256.6 327.5H1267.1V336.5H1256.6zM1396.2 327.5H1406.8V336.5H1396.2zM1396.2 335.9H1406.8V344.8H1396.2zM1246.6 344.2H1257.2V353.2H1246.6zM1386.3 344.2H1396.8V353.2H1386.3zM1246.6 352.6H1257.2V361.5H1246.6zM1386.3 352.6H1396.8V361.5H1386.3zM1176.7 360.9H1247.2V369.9H1176.7zM1386.3 360.9H1396.8V369.9H1386.3zM1176.7 369.3H1247.2V378.2H1176.7zM1376.3 369.3H1386.9V378.2H1376.3zM1376.3 377.6H1386.9V386.6H1376.3zM1366.3 386.0H1376.9V394.9H1366.3zM1366.3 394.3H1376.9V403.3H1366.3zM1356.3 402.7H1366.9V411.6H1356.3zM1356.3 411.0H1366.9V420.0H1356.3zM1346.4 419.4H1356.9V428.3H1346.4zM1336.4 427.7H1347.0V436.7H1336.4zM1176.7 444.4H1247.2V453.4H1176.7zM1296.5 444.4H1307.1V453.4H1296.5zM1176.7 452.8H1257.2V461.7H1176.7z"/>
<path fill="#8cc0c4" d="M1366.3 93.7H1436.8V102.6H1366.3zM1356.3 102.0H1446.7V111.0H1356.3zM1346.4 110.4H1446.7V119.3H1346.4zM1336.4 118.7H1366.9V127.7H1336.4zM1406.2 118.7H1446.7V127.7H1406.2zM1336.4 127.1H1366.9V136.0H1336.4zM1416.2 127.1H1446.7V136.0H1416.2zM1326.4 135.4H1356.9V144.4H1326.4zM1426.2 135.4H1446.7V144.4H1426.2zM1326.4 143.8H1356.9V152.7H1326.4zM1416.2 143.8H1446.7V152.7H1416.2zM1316.4 152.1H1356.9V161.1H1316.4zM1416.2 152.1H1456.7V161.1H1416.2zM1306.5 160.5H1337.0V169.4H1306.5zM1416.2 160.5H1456.7V169.4H1416.2zM1306.5 168.8H1327.0V177.8H1306.5zM1416.2 168.8H1456.7V177.8H1416.2zM1296.5 177.2H1317.0V186.1H1296.5zM1426.2 177.2H1456.7V186.1H1426.2zM1296.5 185.5H1317.0V194.5H1296.5zM1426.2 185.5H1456.7V194.5H1426.2zM1296.5 193.9H1317.0V202.8H1296.5zM1426.2 193.9H1456.7V202.8H1426.2zM1296.5 202.2H1317.0V211.2H1296.5zM1426.2 202.2H1446.7V211.2H1426.2zM1296.5 210.6H1317.0V219.5H1296.5zM1426.2 210.6H1446.7V219.5H1426.2zM1286.5 218.9H1317.0V227.9H1286.5zM1416.2 218.9H1446.7V227.9H1416.2zM1286.5 227.3H1317.0V236.2H1286.5zM1416.2 227.3H1446.7V236.2H1416.2zM1286.5 235.6H1307.1V244.6H1286.5zM1416.2 235.6H1446.7V244.6H1416.2zM1286.5 244.0H1307.1V252.9H1286.5zM1416.2 244.0H1446.7V252.9H1416.2zM1276.5 252.3H1297.1V261.3H1276.5zM1416.2 252.3H1446.7V261.3H1416.2zM1276.5 260.7H1287.1V269.7H1276.5zM1416.2 260.7H1446.7V269.7H1416.2zM1266.5 269.1H1287.1V278.0H1266.5zM1416.2 269.1H1446.7V278.0H1416.2zM1266.5 277.4H1277.1V286.4H1266.5zM1416.2 277.4H1436.8V286.4H1416.2zM1266.5 285.8H1277.1V294.7H1266.5zM1416.2 285.8H1436.8V294.7H1416.2zM1256.6 294.1H1267.1V303.1H1256.6zM1416.2 294.1H1436.8V303.1H1416.2zM1256.6 302.5H1267.1V311.4H1256.6zM1406.2 302.5H1436.8V311.4H1406.2zM1246.6 310.8H1267.1V319.8H1246.6zM1406.2 310.8H1426.8V319.8H1406.2zM1246.6 319.2H1257.2V328.1H1246.6zM1406.2 319.2H1426.8V328.1H1406.2zM1246.6 327.5H1257.2V336.5H1246.6zM1406.2 327.5H1416.8V336.5H1406.2zM1176.7 335.9H1257.2V344.8H1176.7zM1406.2 335.9H1416.8V344.8H1406.2zM1176.7 344.2H1247.2V353.2H1176.7zM1396.2 344.2H1416.8V353.2H1396.2zM1176.7 352.6H1247.2V361.5H1176.7zM1396.2 352.6H1406.8V361.5H1396.2zM1396.2 360.9H1406.8V369.9H1396.2zM1386.3 369.3H1396.8V378.2H1386.3zM1386.3 377.6H1396.8V386.6H1386.3zM1376.3 386.0H1386.9V394.9H1376.3zM1376.3 394.3H1386.9V403.3H1376.3zM1366.3 402.7H1376.9V411.6H1366.3zM1326.4 436.1H1337.0V445.0H1326.4zM1306.5 444.4H1317.0V453.4H1306.5zM1276.5 452.8H1287.1V461.7H1276.5z"/>
<path fill="#94c4c8" d="M1406.2 68.6H1446.7V77.6H1406.2zM1356.3 77.0H1456.7V85.9H1356.3zM1346.4 85.3H1456.7V94.3H1346.4zM1326.4 93.7H1366.9V102.6H1326.4zM1436.2 93.7H1466.7V102.6H1436.2zM1316.4 102.0H1356.9V111.0H1316.4zM1446.1 102.0H1466.7V111.0H1446.1zM1316.4 110.4H1347.0V119.3H1316.4zM1446.1 110.4H1466.7V119.3H1446.1zM1306.5 118.7H1337.0V127.7H1306.5zM1446.1 118.7H1466.7V127.7H1446.1zM1306.5 127.1H1337.0V136.0H1306.5zM1446.1 127.1H1466.7V136.0H1446.1zM1306.5 135.4H1327.0V144.4H1306.5zM1446.1 135.4H1466.7V144.4H1446.1zM1306.5 143.8H1327.0V152.7H1306.5zM1446.1 143.8H1466.7V152.7H1446.1zM1296.5 152.1H1317.0V161.1H1296.5zM1456.1 152.1H1466.7V161.1H1456.1zM1296.5 160.5H1307.1V169.4H1296.5zM1456.1 160.5H1466.7V169.4H1456.1zM1296.5 168.8H1307.1V177.8H1296.5zM1456.1 168.8H1466.7V177.8H1456.1zM1286.5 177.2H1297.1V186.1H1286.5zM1456.1 177.2H1466.7V186.1H1456.1zM1286.5 185.5H1297.1V194.5H1286.5zM1456.1 185.5H1466.7V194.5H1456.1zM1286.5 193.9H1297.1V202.8H1286.5zM1456.1 193.9H1466.7V202.8H1456.1zM1286.5 202.2H1297.1V211.2H1286.5zM1446.1 202.2H1466.7V211.2H1446.1zM1286.5 210.6H1297.1V219.5H1286.5zM1446.1 210.6H1466.7V219.5H1446.1zM1276.5 218.9H1287.1V227.9H1276.5zM1446.1 218.9H1466.7V227.9H1446.1zM1276.5 227.3H1287.1V236.2H1276.5zM1446.1 227.3H1466.7V236.2H1446.1zM1276.5 235.6H1287.1V244.6H1276.5zM1446.1 235.6H1466.7V244.6H1446.1zM1266.5 244.0H1287.1V252.9H1266.5zM1446.1 244.0H1466.7V252.9H1446.1zM1266.5 252.3H1277.1V261.3H1266.5zM1446.1 252.3H1466.7V261.3H1446.1zM1266.5 260.7H1277.1V269.7H1266.5zM1446.1 260.7H1456.7V269.7H1446.1zM1256.6 269.1H1267.1V278.0H1256.6zM1446.1 269.1H1456.7V278.0H1446.1zM1256.6 277.4H1267.1V286.4H1256.6zM1436.2 277.4H1456.7V286.4H1436.2zM1256.6 285.8H1267.1V294.7H1256.6zM1436.2 285.8H1456.7V294.7H1436.2zM1246.6 294.1H1257.2V303.1H1246.6zM1436.2 294.1H1456.7V303.1H1436.2zM1246.6 302.5H1257.2V311.4H1246.6zM1436.2 302.5H1456.7V311.4H1436.2zM1176.7 310.8H1247.2V319.8H1176.7zM1426.2 310.8H1456.7V319.8H1426.2zM1176.7 319.2H1247.2V328.1H1176.7zM1426.2 319.2H1446.7V328.1H1426.2zM1176.7 327.5H1247.2V336.5H1176.7zM1416.2 327.5H1446.7V336.5H1416.2zM1416.2 335.9H1436.8V344.8H1416.2zM1416.2 344.2H1426.8V353.2H1416.2zM1406.2 352.6H1426.8V361.5H1406.2zM1406.2 360.9H1416.8V369.9H1406.2zM1396.2 369.3H1406.8V378.2H1396.2zM1396.2 377.6H1406.8V386.6H1396.2zM1386.3 386.0H1396.8V394.9H1386.3zM1386.3 394.3H1396.8V403.3H1386.3zM1376.3 402.7H1386.9V411.6H1376.3zM1366.3 411.0H1376.9V420.0H1366.3zM1356.3 419.4H1366.9V428.3H1356.3zM1346.4 427.7H1356.9V436.7H1346.4z"/>
<path fill="#9cc9cd" d="M1356.3 35.2H1476.7V44.1H1356.3zM1356.3 43.5H1476.7V52.5H1356.3zM1356.3 51.9H1476.7V60.9H1356.3zM1346.4 60.3H1476.7V69.2H1346.4zM1336.4 68.6H1406.8V77.6H1336.4zM1446.1 68.6H1476.7V77.6H1446.1zM1316.4 77.0H1356.9V85.9H1316.4zM1456.1 77.0H1476.7V85.9H1456.1zM1306.5 85.3H1347.0V94.3H1306.5zM1456.1 85.3H1486.6V94.3H1456.1zM1296.5 93.7H1327.0V102.6H1296.5zM1466.1 93.7H1486.6V102.6H1466.1zM1296.5 102.0H1317.0V111.0H1296.5zM1466.1 102.0H1486.6V111.0H1466.1zM1296.5 110.4H1317.0V119.3H1296.5zM1466.1 110.4H1486.6V119.3H1466.1zM1296.5 118.7H1307.1V127.7H1296.5zM1466.1 118.7H1476.7V127.7H1466.1zM1296.5 127.1H1307.1V136.0H1296.5zM1466.1 127.1H1476.7V136.0H1466.1zM1296.5 135.4H1307.1V144.4H1296.5zM1466.1 135.4H1486.6V144.4H1466.1zM1286.5 143.8H1307.1V152.7H1286.5zM1466.1 143.8H1486.6V152.7H1466.1zM1286.5 152.1H1297.1V161.1H1286.5zM1466.1 152.1H1486.6V161.1H1466.1zM1286.5 160.5H1297.1V169.4H1286.5zM1466.1 160.5H1486.6V169.4H1466.1zM1286.5 168.8H1297.1V177.8H1286.5zM1466.1 168.8H1486.6V177.8H1466.1zM1466.1 177.2H1486.6V186.1H1466.1zM1276.5 185.5H1287.1V194.5H1276.5zM1466.1 185.5H1486.6V194.5H1466.1zM1276.5 193.9H1287.1V202.8H1276.5zM1466.1 193.9H1486.6V202.8H1466.1zM1276.5 202.2H1287.1V211.2H1276.5zM1466.1 202.2H1486.6V211.2H1466.1zM1276.5 210.6H1287.1V219.5H1276.5zM1466.1 210.6H1486.6V219.5H1466.1zM1466.1 218.9H1486.6V227.9H1466.1zM1266.5 227.3H1277.1V236.2H1266.5zM1466.1 227.3H1486.6V236.2H1466.1zM1266.5 235.6H1277.1V244.6H1266.5zM1466.1 235.6H1486.6V244.6H1466.1zM1256.6 244.0H1267.1V252.9H1256.6zM1466.1 244.0H1486.6V252.9H1466.1zM1256.6 252.3H1267.1V261.3H1256.6zM1466.1 252.3H1476.7V261.3H1466.1zM1256.6 260.7H1267.1V269.7H1256.6zM1456.1 260.7H1476.7V269.7H1456.1zM1246.6 269.1H1257.2V278.0H1246.6zM1456.1 269.1H1476.7V278.0H1456.1zM1246.6 277.4H1257.2V286.4H1246.6zM1456.1 277.4H1476.7V286.4H1456.1zM1176.7 285.8H1257.2V294.7H1176.7zM1456.1 285.8H1476.7V294.7H1456.1zM1176.7 294.1H1247.2V303.1H1176.7zM1456.1 294.1H1476.7V303.1H1456.1zM1176.7 302.5H1247.2V311.4H1176.7zM1456.1 302.5H1476.7V311.4H1456.1zM1456.1 310.8H1476.7V319.8H1456.1zM1446.1 319.2H1466.7V328.1H1446.1zM1446.1 327.5H1466.7V336.5H1446.1zM1436.2 335.9H1456.7V344.8H1436.2zM1426.2 344.2H1456.7V353.2H1426.2zM1426.2 352.6H1446.7V361.5H1426.2zM1416.2 360.9H1436.8V369.9H1416.2zM1406.2 369.3H1426.8V378.2H1406.2zM1406.2 377.6H1416.8V386.6H1406.2zM1396.2 386.0H1406.8V394.9H1396.2zM1396.2 394.3H1406.8V403.3H1396.2zM1386.3 402.7H1396.8V411.6H1386.3zM1376.3 411.0H1386.9V420.0H1376.3zM1366.3 419.4H1376.9V428.3H1366.3zM1356.3 427.7H1366.9V436.7H1356.3zM1336.4 436.1H1347.0V445.0H1336.4zM1316.4 444.4H1327.0V453.4H1316.4zM1286.5 452.8H1297.1V461.7H1286.5z"/>
<path fill="#a4cdd1" d="M1316.4 35.2H1356.9V44.1H1316.4zM1476.1 35.2H1526.6V44.1H1476.1zM1316.4 43.5H1356.9V52.5H1316.4zM1476.1 43.5H1526.6V52.5H1476.1zM1316.4 51.9H1356.9V60.9H1316.4zM1476.1 51.9H1526.6V60.9H1476.1zM1306.5 60.3H1347.0V69.2H1306.5zM1476.1 60.3H1526.6V69.2H1476.1zM1306.5 68.6H1337.0V77.6H1306.5zM1476.1 68.6H1526.6V77.6H1476.1zM1296.5 77.0H1317.0V85.9H1296.5zM1476.1 77.0H1526.6V85.9H1476.1zM1286.5 85.3H1307.1V94.3H1286.5zM1486.0 85.3H1526.6V94.3H1486.0zM1286.5 93.7H1297.1V102.6H1286.5zM1486.0 93.7H1526.6V102.6H1486.0zM1286.5 102.0H1297.1V111.0H1286.5zM1486.0 102.0H1526.6V111.0H1486.0zM1286.5 110.4H1297.1V119.3H1286.5zM1486.0 110.4H1526.6V119.3H1486.0zM1286.5 118.7H1297.1V127.7H1286.5zM1476.1 118.7H1526.6V127.7H1476.1zM1286.5 127.1H1297.1V136.0H1286.5zM1476.1 127.1H1526.6V136.0H1476.1zM1286.5 135.4H1297.1V144.4H1286.5zM1486.0 135.4H1526.6V144.4H1486.0zM1276.5 143.8H1287.1V152.7H1276.5zM1486.0 143.8H1526.6V152.7H1486.0zM1276.5 152.1H1287.1V161.1H1276.5zM1486.0 152.1H1526.6V161.1H1486.0zM1276.5 160.5H1287.1V169.4H1276.5zM1486.0 160.5H1526.6V169.4H1486.0zM1276.5 168.8H1287.1V177.8H1276.5zM1486.0 168.8H1526.6V177.8H1486.0zM1276.5 177.2H1287.1V186.1H1276.5zM1486.0 177.2H1526.6V186.1H1486.0zM1486.0 185.5H1526.6V194.5H1486.0zM1266.5 193.9H1277.1V202.8H1266.5zM1486.0 193.9H1526.6V202.8H1486.0zM1266.5 202.2H1277.1V211.2H1266.5zM1486.0 202.2H1526.6V211.2H1486.0zM1266.5 210.6H1277.1V219.5H1266.5zM1486.0 210.6H1526.6V219.5H1486.0zM1266.5 218.9H1277.1V227.9H1266.5zM1486.0 218.9H1526.6V227.9H1486.0zM1486.0 227.3H1526.6V236.2H1486.0zM1256.6 235.6H1267.1V244.6H1256.6zM1486.0 235.6H1526.6V244.6H1486.0zM1486.0 244.0H1496.6V252.9H1486.0zM1246.6 252.3H1257.2V261.3H1246.6zM1476.1 252.3H1496.6V261.3H1476.1zM1246.6 260.7H1257.2V269.7H1246.6zM1476.1 260.7H1496.6V269.7H1476.1zM1176.7 269.1H1247.2V278.0H1176.7zM1476.1 269.1H1496.6V278.0H1476.1zM1176.7 277.4H1247.2V286.4H1176.7zM1476.1 277.4H1496.6V286.4H1476.1zM1476.1 285.8H1496.6V294.7H1476.1zM1476.1 294.1H1486.6V303.1H1476.1zM1476.1 302.5H1486.6V311.4H1476.1zM1476.1 310.8H1486.6V319.8H1476.1zM1466.1 319.2H1486.6V328.1H1466.1zM1466.1 327.5H1486.6V336.5H1466.1zM1456.1 335.9H1476.7V344.8H1456.1zM1456.1 344.2H1476.7V353.2H1456.1zM1446.1 352.6H1466.7V361.5H1446.1zM1436.2 360.9H1456.7V369.9H1436.2zM1426.2 369.3H1436.8V378.2H1426.2zM1416.2 377.6H1426.8V386.6H1416.2zM1406.2 386.0H1416.8V394.9H1406.2zM1396.2 402.7H1406.8V411.6H1396.2zM1386.3 411.0H1396.8V420.0H1386.3zM1376.3 419.4H1386.9V428.3H1376.3zM1346.4 436.1H1356.9V445.0H1346.4zM1326.4 444.4H1337.0V453.4H1326.4zM1296.5 452.8H1307.1V461.7H1296.5z"/>
<path fill="#acd1d5" d="M1296.5 35.2H1317.0V44.1H1296.5zM1296.5 43.5H1317.0V52.5H1296.5zM1296.5 51.9H1317.0V60.9H1296.5zM1286.5 60.3H1307.1V69.2H1286.5zM1286.5 68.6H1307.1V77.6H1286.5zM1286.5 77.0H1297.1V85.9H1286.5zM1276.5 85.3H1287.1V94.3H1276.5zM1276.5 93.7H1287.1V102.6H1276.5zM1276.5 102.0H1287.1V111.0H1276.5zM1276.5 110.4H1287.1V119.3H1276.5zM1276.5 118.7H1287.1V127.7H1276.5zM1276.5 127.1H1287.1V136.0H1276.5zM1276.5 135.4H1287.1V144.4H1276.5zM1266.5 152.1H1277.1V161.1H1266.5zM1266.5 160.5H1277.1V169.4H1266.5zM1266.5 168.8H1277.1V177.8H1266.5zM1266.5 177.2H1277.1V186.1H1266.5zM1266.5 185.5H1277.1V194.5H1266.5zM1256.6 210.6H1267.1V219.5H1256.6zM1256.6 218.9H1267.1V227.9H1256.6zM1256.6 227.3H1267.1V236.2H1256.6zM1246.6 244.0H1257.2V252.9H1246.6zM1496.0 244.0H1526.6V252.9H1496.0zM1496.0 252.3H1526.6V261.3H1496.0zM1176.7 260.7H1247.2V269.7H1176.7zM1496.0 260.7H1526.6V269.7H1496.0zM1496.0 269.1H1526.6V278.0H1496.0zM1496.0 277.4H1526.6V286.4H1496.0zM1496.0 285.8H1526.6V294.7H1496.0zM1486.0 294.1H1526.6V303.1H1486.0zM1486.0 302.5H1526.6V311.4H1486.0zM1486.0 310.8H1526.6V319.8H1486.0zM1486.0 319.2H1496.6V328.1H1486.0zM1486.0 327.5H1496.6V336.5H1486.0zM1476.1 335.9H1496.6V344.8H1476.1zM1476.1 344.2H1486.6V353.2H1476.1zM1466.1 352.6H1476.7V361.5H1466.1zM1456.1 360.9H1476.7V369.9H1456.1zM1436.2 369.3H1456.7V378.2H1436.2zM1426.2 377.6H1446.7V386.6H1426.2zM1416.2 386.0H1436.8V394.9H1416.2zM1406.2 394.3H1416.8V403.3H1406.2zM1406.2 402.7H1416.8V411.6H1406.2zM1396.2 411.0H1406.8V420.0H1396.2zM1386.3 419.4H1396.8V428.3H1386.3zM1366.3 427.7H1376.9V436.7H1366.3z"/>
<path fill="#b4d6d9" d="M1276.5 35.2H1297.1V44.1H1276.5zM1276.5 43.5H1297.1V52.5H1276.5zM1276.5 51.9H1297.1V60.9H1276.5zM1276.5 60.3H1287.1V69.2H1276.5zM1276.5 68.6H1287.1V77.6H1276.5zM1266.5 77.0H1287.1V85.9H1266.5zM1266.5 85.3H1277.1V94.3H1266.5zM1266.5 93.7H1277.1V102.6H1266.5zM1266.5 102.0H1277.1V111.0H1266.5zM1266.5 110.4H1277.1V119.3H1266.5zM1266.5 118.7H1277.1V127.7H1266.5zM1266.5 127.1H1277.1V136.0H1266.5zM1266.5 135.4H1277.1V144.4H1266.5zM1266.5 143.8H1277.1V152.7H1266.5zM1256.6 168.8H1267.1V177.8H1256.6zM1256.6 177.2H1267.1V186.1H1256.6zM1256.6 185.5H1267.1V194.5H1256.6zM1256.6 193.9H1267.1V202.8H1256.6zM1256.6 202.2H1267.1V211.2H1256.6zM1246.6 218.9H1257.2V227.9H1246.6zM1246.6 227.3H1257.2V236.2H1246.6zM1246.6 235.6H1257.2V244.6H1246.6zM1176.7 244.0H1247.2V252.9H1176.7zM1176.7 252.3H1247.2V261.3H1176.7zM1496.0 319.2H1526.6V328.1H1496.0zM1496.0 327.5H1526.6V336.5H1496.0zM1496.0 335.9H1526.6V344.8H1496.0zM1486.0 344.2H1496.6V353.2H1486.0zM1476.1 352.6H1496.6V361.5H1476.1zM1476.1 360.9H1486.6V369.9H1476.1zM1456.1 369.3H1476.7V378.2H1456.1zM1446.1 377.6H1466.7V386.6H1446.1zM1436.2 386.0H1446.7V394.9H1436.2zM1416.2 394.3H1436.8V403.3H1416.2zM1416.2 402.7H1426.8V411.6H1416.2zM1406.2 411.0H1416.8V420.0H1406.2zM1396.2 419.4H1406.8V428.3H1396.2zM1376.3 427.7H1396.8V436.7H1376.3zM1356.3 436.1H1366.9V445.0H1356.3zM1336.4 444.4H1347.0V453.4H1336.4zM1306.5 452.8H1317.0V461.7H1306.5z"/>
<path fill="#bcdadd" d="M1266.5 35.2H1277.1V44.1H1266.5zM1266.5 43.5H1277.1V52.5H1266.5zM1266.5 51.9H1277.1V60.9H1266.5zM1256.6 60.3H1277.1V69.2H1256.6zM1256.6 68.6H1277.1V77.6H1256.6zM1256.6 77.0H1267.1V85.9H1256.6zM1246.6 85.3H1267.1V94.3H1246.6zM1246.6 93.7H1267.1V102.6H1246.6zM1246.6 102.0H1267.1V111.0H1246.6zM1246.6 110.4H1267.1V119.3H1246.6zM1246.6 118.7H1267.1V127.7H1246.6zM1246.6 127.1H1267.1V136.0H1246.6zM1246.6 135.4H1267.1V144.4H1246.6zM1256.6 143.8H1267.1V152.7H1256.6zM1256.6 152.1H1267.1V161.1H1256.6zM1256.6 160.5H1267.1V169.4H1256.6zM1246.6 185.5H1257.2V194.5H1246.6zM1246.6 193.9H1257.2V202.8H1246.6zM1246.6 202.2H1257.2V211.2H1246.6zM1246.6 210.6H1257.2V219.5H1246.6zM1176.7 227.3H1247.2V236.2H1176.7zM1176.7 235.6H1247.2V244.6H1176.7zM1496.0 344.2H1526.6V353.2H1496.0zM1496.0 352.6H1526.6V361.5H1496.0zM1486.0 360.9H1496.6V369.9H1486.0zM1476.1 369.3H1496.6V378.2H1476.1zM1466.1 377.6H1486.6V386.6H1466.1zM1446.1 386.0H1466.7V394.9H1446.1zM1436.2 394.3H1446.7V403.3H1436.2zM1426.2 402.7H1436.8V411.6H1426.2zM1406.2 419.4H1416.8V428.3H1406.2zM1396.2 427.7H1406.8V436.7H1396.2zM1366.3 436.1H1376.9V445.0H1366.3zM1346.4 444.4H1356.9V453.4H1346.4z"/>
<path fill="#c5dfe1" d="M1176.7 35.2H1267.1V44.1H1176.7zM1176.7 43.5H1267.1V52.5H1176.7zM1176.7 51.9H1267.1V60.9H1176.7zM1176.7 60.3H1257.2V69.2H1176.7zM1176.7 68.6H1257.2V77.6H1176.7zM1176.7 77.0H1257.2V85.9H1176.7zM1176.7 85.3H1247.2V94.3H1176.7zM1176.7 93.7H1247.2V102.6H1176.7zM1176.7 102.0H1247.2V111.0H1176.7zM1176.7 110.4H1247.2V119.3H1176.7zM1176.7 118.7H1247.2V127.7H1176.7zM1176.7 127.1H1247.2V136.0H1176.7zM1176.7 135.4H1247.2V144.4H1176.7zM1176.7 143.8H1257.2V152.7H1176.7zM1176.7 152.1H1257.2V161.1H1176.7zM1176.7 160.5H1257.2V169.4H1176.7zM1176.7 168.8H1257.2V177.8H1176.7zM1176.7 177.2H1257.2V186.1H1176.7zM1176.7 185.5H1247.2V194.5H1176.7zM1176.7 193.9H1247.2V202.8H1176.7zM1176.7 202.2H1247.2V211.2H1176.7zM1176.7 210.6H1247.2V219.5H1176.7zM1176.7 218.9H1247.2V227.9H1176.7zM1496.0 360.9H1526.6V369.9H1496.0zM1496.0 369.3H1526.6V378.2H1496.0zM1486.0 377.6H1496.6V386.6H1486.0zM1466.1 386.0H1486.6V394.9H1466.1zM1446.1 394.3H1466.7V403.3H1446.1zM1436.2 402.7H1446.7V411.6H1436.2zM1416.2 411.0H1426.8V420.0H1416.2zM1376.3 436.1H1396.8V445.0H1376.3zM1356.3 444.4H1366.9V453.4H1356.3zM1316.4 452.8H1327.0V461.7H1316.4zM1176.7 461.1H1297.1V470.1H1176.7zM1176.7 469.5H1297.1V478.5H1176.7zM1176.7 477.9H1297.1V486.8H1176.7z"/>
<path fill="#cde3e5" d="M1496.0 377.6H1526.6V386.6H1496.0zM1486.0 386.0H1496.6V394.9H1486.0zM1466.1 394.3H1486.6V403.3H1466.1zM1446.1 402.7H1466.7V411.6H1446.1zM1426.2 411.0H1446.7V420.0H1426.2zM1416.2 419.4H1426.8V428.3H1416.2zM1406.2 427.7H1416.8V436.7H1406.2zM1396.2 436.1H1406.8V445.0H1396.2zM1366.3 444.4H1376.9V453.4H1366.3zM1326.4 452.8H1337.0V461.7H1326.4zM1296.5 461.1H1307.1V470.1H1296.5zM1296.5 469.5H1307.1V478.5H1296.5zM1296.5 477.9H1307.1V486.8H1296.5z"/>
<path fill="#d5e8ea" d="M1496.0 386.0H1526.6V394.9H1496.0zM1486.0 394.3H1496.6V403.3H1486.0zM1466.1 402.7H1486.6V411.6H1466.1zM1446.1 411.0H1466.7V420.0H1446.1zM1426.2 419.4H1436.8V428.3H1426.2zM1416.2 427.7H1426.8V436.7H1416.2zM1406.2 436.1H1416.8V445.0H1406.2zM1376.3 444.4H1396.8V453.4H1376.3zM1336.4 452.8H1347.0V461.7H1336.4z"/>
<path fill="#ddedee" d="M1496.0 394.3H1526.6V403.3H1496.0zM1486.0 402.7H1496.6V411.6H1486.0zM1466.1 411.0H1486.6V420.0H1466.1zM1436.2 419.4H1466.7V428.3H1436.2zM1426.2 427.7H1436.8V436.7H1426.2zM1396.2 444.4H1406.8V453.4H1396.2zM1346.4 452.8H1356.9V461.7H1346.4z"/>
<path fill="#e6f1f2" d="M1496.0 402.7H1526.6V411.6H1496.0zM1486.0 411.0H1496.6V420.0H1486.0zM1466.1 419.4H1486.6V428.3H1466.1zM1436.2 427.7H1456.7V436.7H1436.2zM1416.2 436.1H1426.8V445.0H1416.2zM1406.2 444.4H1416.8V453.4H1406.2zM1356.3 452.8H1396.8V461.7H1356.3z"/>
<path fill="#eef6f6" d="M1496.0 411.0H1526.6V420.0H1496.0zM1486.0 419.4H1496.6V428.3H1486.0zM1456.1 427.7H1486.6V436.7H1456.1zM1426.2 436.1H1436.8V445.0H1426.2zM1416.2 444.4H1426.8V453.4H1416.2zM1396.2 452.8H1406.8V461.7H1396.2zM1306.5 461.1H1327.0V470.1H1306.5zM1306.5 469.5H1327.0V478.5H1306.5zM1306.5 477.9H1327.0V486.8H1306.5z"/>
<path fill="#f7fafb" d="M1496.0 419.4H1526.6V428.3H1496.0zM1486.0 427.7H1496.6V436.7H1486.0zM1436.2 436.1H1476.7V445.0H1436.2zM1406.2 452.8H1416.8V461.7H1406.2zM1326.4 461.1H1406.8V470.1H1326.4zM1326.4 469.5H1406.8V478.5H1326.4zM1326.4 477.9H1406.8V486.8H1326.4z"/>
<path fill="#ffffff" d="M1476.1 436.1H1486.6V445.0H1476.1zM1426.2 444.4H1446.7V453.4H1426.2zM1416.2 452.8H1426.8V461.7H1416.2zM1406.2 461.1H1416.8V470.1H1406.2zM1406.2 469.5H1416.8V478.5H1406.2zM1406.2 477.9H1416.8V486.8H1406.2z"/>
<path fill="#fffbf7" d="M1496.0 427.7H1526.6V436.7H1496.0zM1486.0 436.1H1496.6V445.0H1486.0zM1446.1 444.4H1476.7V453.4H1446.1zM1426.2 452.8H1436.8V461.7H1426.2zM1416.2 461.1H1426.8V470.1H1416.2zM1416.2 469.5H1426.8V478.5H1416.2zM1416.2 477.9H1426.8V486.8H1416.2z"/>
<path fill="#fff7f0" d="M1496.0 436.1H1526.6V445.0H1496.0zM1476.1 444.4H1486.6V453.4H1476.1zM1436.2 452.8H1466.7V461.7H1436.2z"/>
<path fill="#fff3e8" d="M1486.0 444.4H1496.6V453.4H1486.0zM1466.1 452.8H1476.7V461.7H1466.1zM1426.2 461.1H1436.8V470.1H1426.2zM1426.2 469.5H1436.8V478.5H1426.2zM1426.2 477.9H1436.8V486.8H1426.2z"/>
<path fill="#ffefe1" d="M1496.0 444.4H1526.6V453.4H1496.0zM1476.1 452.8H1486.6V461.7H1476.1zM1436.2 461.1H1476.7V470.1H1436.2zM1436.2 469.5H1476.7V478.5H1436.2zM1436.2 477.9H1476.7V486.8H1436.2z"/>
<path fill="#ffebd9" d="M1486.0 452.8H1526.6V461.7H1486.0zM1476.1 461.1H1486.6V470.1H1476.1zM1476.1 469.5H1486.6V478.5H1476.1zM1476.1 477.9H1486.6V486.8H1476.1z"/>
<path fill="#ffe7d2" d="M1486.0 461.1H1496.6V470.1H1486.0zM1486.0 469.5H1496.6V478.5H1486.0zM1486.0 477.9H1496.6V486.8H1486.0z"/>
<path fill="#ffe3ca" d="M1496.0 461.1H1526.6V470.1H1496.0zM1496.0 469.5H1526.6V478.5H1496.0zM1496.0 477.9H1526.6V486.8H1496.0z"/>
</g>
<path fill="#ff7f0e" d="M1196.7 51.9H1207.3V60.9H1196.7zM1196.7 60.3H1207.3V69.2H1196.7zM1196.7 68.6H1207.3V77.6H1196.7zM1196.7 77.0H1207.3V85.9H1196.7zM1196.7 85.3H1207.3V94.3H1196.7zM1196.7 93.7H1207.3V102.6H1196.7zM1196.7 102.0H1207.3V111.0H1196.7zM1196.7 110.4H1207.3V119.3H1196.7zM1196.7 118.7H1207.3V127.7H1196.7zM1196.7 127.1H1207.3V136.0H1196.7zM1196.7 135.4H1207.3V144.4H1196.7zM1196.7 143.8H1207.3V152.7H1196.7zM1196.7 152.1H1207.3V161.1H1196.7zM1196.7 160.5H1207.3V169.4H1196.7zM1196.7 168.8H1207.3V177.8H1196.7zM1196.7 177.2H1207.3V186.1H1196.7zM1196.7 185.5H1207.3V194.5H1196.7zM1196.7 193.9H1207.3V202.8H1196.7zM1196.7 202.2H1207.3V211.2H1196.7zM1196.7 210.6H1207.3V219.5H1196.7zM1196.7 218.9H1207.3V227.9H1196.7zM1196.7 227.3H1207.3V236.2H1196.7zM1196.7 235.6H1207.3V244.6H1196.7zM1196.7 244.0H1207.3V252.9H1196.7zM1196.7 252.3H1207.3V261.3H1196.7zM1196.7 260.7H1207.3V269.7H1196.7zM1196.7 269.1H1207.3V278.0H1196.7zM1196.7 277.4H1207.3V286.4H1196.7zM1196.7 285.8H1207.3V294.7H1196.7zM1196.7 294.1H1207.3V303.1H1196.7zM1196.7 302.5H1207.3V311.4H1196.7zM1196.7 310.8H1207.3V319.8H1196.7zM1196.7 319.2H1207.3V328.1H1196.7zM1196.7 327.5H1207.3V336.5H1196.7zM1196.7 335.9H1207.3V344.8H1196.7zM1196.7 344.2H1207.3V353.2H1196.7zM1196.7 352.6H1207.3V361.5H1196.7zM1196.7 360.9H1207.3V369.9H1196.7zM1196.7 369.3H1207.3V378.2H1196.7zM1196.7 377.6H1207.3V386.6H1196.7zM1196.7 386.0H1207.3V394.9H1196.7zM1196.7 394.3H1207.3V403.3H1196.7zM1196.7 402.7H1207.3V411.6H1196.7zM1196.7 411.0H1207.3V420.0H1196.7zM1196.7 419.4H1207.3V428.3H1196.7zM1196.7 427.7H1207.3V436.7H1196.7zM1196.7 436.1H1207.3V445.0H1196.7zM1196.7 444.4H1207.3V453.4H1196.7zM1196.7 452.8H1207.3V461.7H1196.7zM1196.7 461.1H1207.3V470.1H1196.7z"/>
<path fill="#94c4c8" d="M1206.7 444.4H1217.3V453.4H1206.7zM1206.7 452.8H1217.3V461.7H1206.7z"/>
<path fill="#9cc9cd" d="M1206.7 436.1H1217.3V445.0H1206.7zM1206.7 461.1H1217.3V470.1H1206.7z"/>
<path fill="#a4cdd1" d="M1206.7 427.7H1217.3V436.7H1206.7z"/>
<path fill="#acd1d5" d="M1206.7 419.4H1217.3V428.3H1206.7z"/>
<path fill="#b4d6d9" d="M1206.7 411.0H1217.3V420.0H1206.7z"/>
<path fill="#bcdadd" d="M1206.7 402.7H1217.3V411.6H1206.7z"/>
<path fill="#c5dfe1" d="M1206.7 394.3H1217.3V403.3H1206.7z"/>
<path fill="#cde3e5" d="M1206.7 377.6H1217.3V386.6H1206.7zM1206.7 386.0H1217.3V394.9H1206.7z"/>
<path fill="#d5e8ea" d="M1206.7 369.3H1217.3V378.2H1206.7z"/>
<path fill="#ddedee" d="M1206.7 352.6H1217.3V361.5H1206.7zM1206.7 360.9H1217.3V369.9H1206.7z"/>
<path fill="#e6f1f2" d="M1206.7 344.2H1217.3V353.2H1206.7z"/>
<path fill="#eef6f6" d="M1206.7 327.5H1217.3V336.5H1206.7zM1206.7 335.9H1217.3V344.8H1206.7z"/>
<path fill="#f7fafb" d="M1206.7 302.5H1217.3V311.4H1206.7zM1206.7 310.8H1217.3V319.8H1206.7zM1206.7 319.2H1217.3V328.1H1206.7z"/>
<path fill="#ffffff" d="M1206.7 285.8H1217.3V294.7H1206.7zM1206.7 294.1H1217.3V303.1H1206.7z"/>
<path fill="#fffbf7" d="M1206.7 260.7H1217.3V269.7H1206.7zM1206.7 269.1H1217.3V278.0H1206.7zM1206.7 277.4H1217.3V286.4H1206.7z"/>
<path fill="#fff7f0" d="M1206.7 218.9H1217.3V227.9H1206.7zM1206.7 227.3H1217.3V236.2H1206.7zM1206.7 235.6H1217.3V244.6H1206.7zM1206.7 244.0H1217.3V252.9H1206.7zM1206.7 252.3H1217.3V261.3H1206.7z"/>
<path fill="#fff3e8" d="M1206.7 110.4H1217.3V119.3H1206.7zM1206.7 118.7H1217.3V127.7H1206.7zM1206.7 127.1H1217.3V136.0H1206.7zM1206.7 135.4H1217.3V144.4H1206.7zM1206.7 143.8H1217.3V152.7H1206.7zM1206.7 152.1H1217.3V161.1H1206.7zM1206.7 160.5H1217.3V169.4H1206.7zM1206.7 168.8H1217.3V177.8H1206.7zM1206.7 177.2H1217.3V186.1H1206.7zM1206.7 185.5H1217.3V194.5H1206.7zM1206.7 193.9H1217.3V202.8H1206.7zM1206.7 202.2H1217.3V211.2H1206.7zM1206.7 210.6H1217.3V219.5H1206.7z"/>
<path fill="#ffefe1" d="M1206.7 51.9H1217.3V60.9H1206.7zM1206.7 60.3H1217.3V69.2H1206.7zM1206.7 68.6H1217.3V77.6H1206.7zM1206.7 77.0H1217.3V85.9H1206.7zM1206.7 85.3H1217.3V94.3H1206.7zM1206.7 93.7H1217.3V102.6H1206.7zM1206.7 102.0H1217.3V111.0H1206.7z"/>
<path fill="#74b3b8" d="M1216.7 444.4H1227.2V453.4H1216.7z"/>
<path fill="#7cb7bc" d="M1216.7 436.1H1227.2V445.0H1216.7z"/>
<path fill="#84bbc0" d="M1216.7 419.4H1227.2V428.3H1216.7zM1216.7 427.7H1227.2V436.7H1216.7z"/>
<path fill="#8cc0c4" d="M1216.7 402.7H1227.2V411.6H1216.7zM1216.7 411.0H1227.2V420.0H1216.7zM1216.7 452.8H1227.2V461.7H1216.7z"/>
<path fill="#94c4c8" d="M1216.7 386.0H1227.2V394.9H1216.7zM1216.7 394.3H1227.2V403.3H1216.7z"/>
<path fill="#9cc9cd" d="M1216.7 377.6H1227.2V386.6H1216.7z"/>
<path fill="#a4cdd1" d="M1216.7 360.9H1227.2V369.9H1216.7zM1216.7 369.3H1227.2V378.2H1216.7z"/>
<path fill="#acd1d5" d="M1216.7 344.2H1227.2V353.2H1216.7zM1216.7 352.6H1227.2V361.5H1216.7zM1216.7 461.1H1227.2V470.1H1216.7z"/>
<path fill="#b4d6d9" d="M1216.7 335.9H1227.2V344.8H1216.7z"/>
<path fill="#bcdadd" d="M1216.7 319.2H1227.2V328.1H1216.7zM1216.7 327.5H1227.2V336.5H1216.7z"/>
<path fill="#c5dfe1" d="M1216.7 302.5H1227.2V311.4H1216.7zM1216.7 310.8H1227.2V319.8H1216.7z"/>
<path fill="#cde3e5" d="M1216.7 285.8H1227.2V294.7H1216.7zM1216.7 294.1H1227.2V303.1H1216.7z"/>
<path fill="#d5e8ea" d="M1216.7 269.1H1227.2V278.0H1216.7zM1216.7 277.4H1227.2V286.4H1216.7z"/>
<path fill="#ddedee" d="M1216.7 260.7H1227.2V269.7H1216.7z"/>
<path fill="#e6f1f2" d="M1216.7 235.6H1227.2V244.6H1216.7zM1216.7 244.0H1227.2V252.9H1216.7zM1216.7 252.3H1227.2V261.3H1216.7z"/>
<path fill="#eef6f6" d="M1216.7 218.9H1227.2V227.9H1216.7zM1216.7 227.3H1227.2V236.2H1216.7z"/>
<path fill="#f7fafb" d="M1216.7 202.2H1227.2V211.2H1216.7zM1216.7 210.6H1227.2V219.5H1216.7z"/>
<path fill="#ffffff" d="M1216.7 185.5H1227.2V194.5H1216.7zM1216.7 193.9H1227.2V202.8H1216.7z"/>
<path fill="#fffbf7" d="M1216.7 135.4H1227.2V144.4H1216.7zM1216.7 143.8H1227.2V152.7H1216.7zM1216.7 152.1H1227.2V161.1H1216.7zM1216.7 160.5H1227.2V169.4H1216.7zM1216.7 168.8H1227.2V177.8H1216.7zM1216.7 177.2H1227.2V186.1H1216.7z"/>
<path fill="#fff7f0" d="M1216.7 68.6H1227.2V77.6H1216.7zM1216.7 77.0H1227.2V85.9H1216.7zM1216.7 85.3H1227.2V94.3H1216.7zM1216.7 93.7H1227.2V102.6H1216.7zM1216.7 102.0H1227.2V111.0H1216.7zM1216.7 110.4H1227.2V119.3H1216.7zM1216.7 118.7H1227.2V127.7H1216.7zM1216.7 127.1H1227.2V136.0H1216.7z"/>
<path fill="#fff3e8" d="M1216.7 51.9H1227.2V60.9H1216.7zM1216.7 60.3H1227.2V69.2H1216.7z"/>
<path fill="#74b3b8" d="M1226.6 436.1H1237.2V445.0H1226.6zM1226.6 444.4H1237.2V453.4H1226.6z"/>
<path fill="#7cb7bc" d="M1226.6 419.4H1237.2V428.3H1226.6zM1226.6 427.7H1237.2V436.7H1226.6z"/>
<path fill="#84bbc0" d="M1226.6 402.7H1237.2V411.6H1226.6zM1226.6 411.0H1237.2V420.0H1226.6z"/>
<path fill="#8cc0c4" d="M1226.6 377.6H1237.2V386.6H1226.6zM1226.6 386.0H1237.2V394.9H1226.6zM1226.6 394.3H1237.2V403.3H1226.6zM1226.6 452.8H1237.2V461.7H1226.6z"/>
<path fill="#94c4c8" d="M1226.6 360.9H1237.2V369.9H1226.6zM1226.6 369.3H1237.2V378.2H1226.6z"/>
<path fill="#9cc9cd" d="M1226.6 344.2H1237.2V353.2H1226.6zM1226.6 352.6H1237.2V361.5H1226.6z"/>
<path fill="#a4cdd1" d="M1226.6 319.2H1237.2V328.1H1226.6zM1226.6 327.5H1237.2V336.5H1226.6zM1226.6 335.9H1237.2V344.8H1226.6z"/>
<path fill="#acd1d5" d="M1226.6 302.5H1237.2V311.4H1226.6zM1226.6 310.8H1237.2V319.8H1226.6z"/>
<path fill="#b4d6d9" d="M1226.6 277.4H1237.2V286.4H1226.6zM1226.6 285.8H1237.2V294.7H1226.6zM1226.6 294.1H1237.2V303.1H1226.6zM1226.6 461.1H1237.2V470.1H1226.6z"/>
<path fill="#bcdadd" d="M1226.6 260.7H1237.2V269.7H1226.6zM1226.6 269.1H1237.2V278.0H1226.6z"/>
<path fill="#c5dfe1" d="M1226.6 244.0H1237.2V252.9H1226.6zM1226.6 252.3H1237.2V261.3H1226.6z"/>
<path fill="#cde3e5" d="M1226.6 218.9H1237.2V227.9H1226.6zM1226.6 227.3H1237.2V236.2H1226.6zM1226.6 235.6H1237.2V244.6H1226.6z"/>
<path fill="#d5e8ea" d="M1226.6 202.2H1237.2V211.2H1226.6zM1226.6 210.6H1237.2V219.5H1226.6z"/>
<path fill="#ddedee" d="M1226.6 177.2H1237.2V186.1H1226.6zM1226.6 185.5H1237.2V194.5H1226.6zM1226.6 193.9H1237.2V202.8H1226.6z"/>
<path fill="#e6f1f2" d="M1226.6 152.1H1237.2V161.1H1226.6zM1226.6 160.5H1237.2V169.4H1226.6zM1226.6 168.8H1237.2V177.8H1226.6z"/>
<path fill="#eef6f6" d="M1226.6 127.1H1237.2V136.0H1226.6zM1226.6 135.4H1237.2V144.4H1226.6zM1226.6 143.8H1237.2V152.7H1226.6z"/>
<path fill="#f7fafb" d="M1226.6 102.0H1237.2V111.0H1226.6zM1226.6 110.4H1237.2V119.3H1226.6zM1226.6 118.7H1237.2V127.7H1226.6z"/>
<path fill="#ffffff" d="M1226.6 68.6H1237.2V77.6H1226.6zM1226.6 77.0H1237.2V85.9H1226.6zM1226.6 85.3H1237.2V94.3H1226.6zM1226.6 93.7H1237.2V102.6H1226.6z"/>
<path fill="#fffbf7" d="M1226.6 51.9H1237.2V60.9H1226.6zM1226.6 60.3H1237.2V69.2H1226.6z"/>
<rect x="1215.0" y="461.5" width="85.0" height="8.5" fill="#ffffff" fill-opacity="0.45"/>
</g>
<g clip-path="url(#cpd)">
<path d="M1211.7 54.4L1210.6 160.0L1209.6 260.0L1208.6 360.0L1207.6 467.0" fill="none" stroke="#999999" stroke-opacity="0.5" stroke-width="6.0" stroke-linejoin="round" stroke-linecap="butt"/>
<path d="M1240.5 54.4L1234.3 81.0L1230.2 122.3L1228.1 155.2L1219.9 188.1L1217.9 221.0L1213.7 245.7L1211.7 260.0" fill="none" stroke="#808080" stroke-opacity="0.5" stroke-width="6.0" stroke-linejoin="round" stroke-linecap="butt"/>
<path d="M1269.3 54.4L1265.0 66.0" fill="none" stroke="#666666" stroke-opacity="0.5" stroke-width="6.0" stroke-linejoin="round" stroke-linecap="butt"/>
<text transform="rotate(-75.00,1259.00,100.00) translate(1228.77,114.00) scale(1.0795,1)" font-family='"Liberation Sans", sans-serif' font-size="40.00" fill="#666666" opacity="0.5">0.4</text>
<path d="M1254.9 155.2L1252.8 184.0L1246.7 214.9L1240.5 237.5L1236.4 260.0L1228.1 286.7L1226.1 315.5L1217.9 327.9L1213.7 352.6L1210.6 375.2L1210.2 420.0L1209.6 456.0" fill="none" stroke="#666666" stroke-opacity="0.5" stroke-width="6.0" stroke-linejoin="round" stroke-linecap="butt"/>
<path d="M1438.0 153.2L1427.7 167.6L1438.0 173.7L1446.2 188.1L1429.8 204.6L1425.7 235.5L1433.9 260.0L1433.9 270.3L1417.4 288.8L1422.6 299.1L1415.4 313.5L1409.2 338.2L1401.0 362.9L1387.6 383.4L1376.3 404.0L1357.8 424.6L1331.0 443.1L1298.1 457.5L1275.5 462.7L1248.7 463.7L1228.1 455.4L1215.8 459.6L1208.6 455.4L1211.7 424.6L1217.9 408.1L1226.1 393.7L1236.4 369.0L1246.7 342.3L1257.0 319.7" fill="none" stroke="#4c4c4c" stroke-opacity="0.5" stroke-width="6.0" stroke-linejoin="round" stroke-linecap="butt"/>
<text transform="rotate(-61.00,1270.00,283.00) translate(1239.76,297.00) scale(1.0878,1)" font-family='"Liberation Sans", sans-serif' font-size="40.00" fill="#4c4c4c" opacity="0.5">0.3</text>
<path d="M1298.1 249.8L1306.3 239.6L1294.0 229.3L1308.4 212.8L1306.0 198.0L1305.3 184.0L1310.4 175.8L1320.7 171.7L1329.0 159.3L1345.4 155.2L1347.5 151.1" fill="none" stroke="#4c4c4c" stroke-opacity="0.5" stroke-width="6.0" stroke-linejoin="round" stroke-linecap="butt"/>
<path d="M1347.5 151.1L1352.0 125.0L1362.0 110.0L1420.0 106.0L1440.0 112.0L1441.0 135.0L1438.0 153.2" fill="none" stroke="#4c4c4c" stroke-opacity="0.5" stroke-width="6.0" stroke-linejoin="round" stroke-linecap="butt"/>
<circle cx="1371.1" cy="161.4" r="3.4" fill="#4c4c4c" fill-opacity="0.5"/>
<path d="M1265.2 424.6L1269.3 418.4L1279.6 422.5L1280.6 428.7L1275.5 430.8L1265.2 424.6" fill="none" stroke="#333333" stroke-opacity="0.5" stroke-width="6.0" stroke-linejoin="round" stroke-linecap="butt"/>
<path d="M1289.9 463.7L1331.0 455.4L1372.2 443.1L1415.4 430.8" fill="none" stroke="#666666" stroke-opacity="0.5" stroke-width="6.0" stroke-linejoin="round" stroke-linecap="butt"/>
<text transform="rotate(-50.00,1452.50,400.00) translate(1422.27,414.00) scale(1.0795,1)" font-family='"Liberation Sans", sans-serif' font-size="40.00" fill="#666666" opacity="0.5">0.4</text>
<path d="M1485.3 381.4L1495.6 373.2L1504.9 372.1" fill="none" stroke="#666666" stroke-opacity="0.5" stroke-width="6.0" stroke-linejoin="round" stroke-linecap="butt"/>
<path d="M1310.4 466.2L1351.6 463.7L1382.5 462.7" fill="none" stroke="#808080" stroke-opacity="0.5" stroke-width="6.0" stroke-linejoin="round" stroke-linecap="butt"/>
<text transform="rotate(-25.00,1417.00,450.00) translate(1386.76,464.00) scale(1.0878,1)" font-family='"Liberation Sans", sans-serif' font-size="40.00" fill="#808080" opacity="0.5">0.5</text>
<path d="M1464.7 441.0L1485.0 435.0L1503.8 428.7" fill="none" stroke="#808080" stroke-opacity="0.5" stroke-width="6.0" stroke-linejoin="round" stroke-linecap="butt"/>
<path d="M1264.0 430.5L1274.4 440.9M1264.0 440.9L1274.4 430.5" stroke="#ee1020" stroke-width="4.2" fill="none"/>
<rect x="1243.0" y="62.4" width="216.8" height="86.4" rx="9.5" ry="9.5" fill="#fff" fill-opacity="0.75" stroke="#000" stroke-opacity="0.75" stroke-width="3.6"/>
<text transform="translate(1251.09,96.10) scale(0.9766,1)" font-family='"Liberation Sans", sans-serif' font-size="34.78" fill="#000">min NRMSE:</text>
<text transform="translate(1266.89,135.40) scale(0.9955,1)" font-family='"Liberation Serif", serif' font-size="35.49" fill="#000">0.20</text>
<text transform="translate(1336.77,135.40) scale(1.4301,1)" font-family='"Liberation Serif", serif' font-size="35.49" fill="#000">±</text>
<text transform="translate(1371.61,135.40) scale(0.9808,1)" font-family='"Liberation Serif", serif' font-size="35.49" fill="#000">0.04</text>
<g><text transform="translate(1443.56,448.82) scale(0.8390,1)" font-family='"Liberation Sans", sans-serif' font-size="50.37" fill="#000">(</text><text transform="translate(1460.42,447.80) scale(0.8962,1)" font-family='"Liberation Sans", sans-serif' font-size="44.14" fill="#000">d</text><text transform="translate(1485.59,448.82) scale(0.8465,1)" font-family='"Liberation Sans", sans-serif' font-size="50.37" fill="#000">)</text></g>
</g>
<rect x="1197.0" y="52.2" width="309.3" height="417.6" fill="none" stroke="#000" stroke-width="3.1"/>
<path d="M1197.0 393.1h-13.3M1197.0 307.9h-13.3M1197.0 222.6h-13.3M1197.0 137.4h-13.3M1197.0 52.2h-13.3M1197.0 469.8v13.3M1300.1 469.8v13.3M1403.2 469.8v13.3M1506.3 469.8v13.3" stroke="#000" stroke-width="3.1" fill="none"/>
<g clip-path="url(#cpe)" shape-rendering="crispEdges">
<g filter="url(#bl)">
<path fill="#1b828b" d="M109.9 941.4H170.4V950.4H109.9zM109.9 949.8H170.4V958.8H109.9zM109.9 958.2H170.4V967.1H109.9z"/>
<path fill="#22868f" d="M109.9 933.1H170.4V942.0H109.9z"/>
<path fill="#298a92" d="M109.9 891.3H160.4V900.3H109.9zM109.9 899.7H170.4V908.6H109.9zM109.9 908.0H160.4V917.0H109.9zM109.9 924.7H170.4V933.7H109.9zM169.8 941.4H180.4V950.4H169.8zM169.8 949.8H180.4V958.8H169.8zM169.8 958.2H180.4V967.1H169.8z"/>
<path fill="#308d96" d="M109.9 883.0H160.4V891.9H109.9zM159.8 891.3H170.4V900.3H159.8zM159.8 908.0H170.4V917.0H159.8zM109.9 916.4H180.4V925.3H109.9zM169.8 924.7H190.4V933.7H169.8zM169.8 933.1H190.4V942.0H169.8z"/>
<path fill="#379199" d="M109.9 866.3H160.4V875.2H109.9zM109.9 874.6H170.4V883.6H109.9zM159.8 883.0H170.4V891.9H159.8zM169.8 899.7H180.4V908.6H169.8zM169.8 908.0H180.4V917.0H169.8zM179.8 941.4H190.4V950.4H179.8zM179.8 949.8H190.4V958.8H179.8zM179.8 958.2H190.4V967.1H179.8z"/>
<path fill="#3f959d" d="M109.9 849.6H160.4V858.5H109.9zM109.9 857.9H160.4V866.9H109.9zM159.8 866.3H170.4V875.2H159.8zM169.8 891.3H180.4V900.3H169.8zM179.8 916.4H190.4V925.3H179.8z"/>
<path fill="#4699a1" d="M109.9 841.2H170.4V850.2H109.9zM159.8 849.6H170.4V858.5H159.8zM159.8 857.9H170.4V866.9H159.8zM169.8 866.3H180.4V875.2H169.8zM169.8 874.6H180.4V883.6H169.8zM169.8 883.0H180.4V891.9H169.8zM179.8 908.0H190.4V917.0H179.8z"/>
<path fill="#4d9ea5" d="M109.9 824.5H160.4V833.5H109.9zM109.9 832.9H170.4V841.8H109.9zM169.8 841.2H180.4V850.2H169.8zM169.8 849.6H180.4V858.5H169.8zM169.8 857.9H180.4V866.9H169.8zM179.8 899.7H190.4V908.6H179.8zM189.8 916.4H200.3V925.3H189.8zM189.8 924.7H200.3V933.7H189.8zM189.8 933.1H200.3V942.0H189.8zM189.8 941.4H200.3V950.4H189.8zM189.8 949.8H200.3V958.8H189.8zM189.8 958.2H200.3V967.1H189.8z"/>
<path fill="#55a2a9" d="M109.9 816.2H170.4V825.1H109.9zM159.8 824.5H180.4V833.5H159.8zM169.8 832.9H180.4V841.8H169.8zM179.8 849.6H190.4V858.5H179.8zM179.8 857.9H190.4V866.9H179.8zM179.8 866.3H190.4V875.2H179.8zM179.8 874.6H190.4V883.6H179.8zM179.8 891.3H190.4V900.3H179.8zM189.8 908.0H200.3V917.0H189.8z"/>
<path fill="#5da6ac" d="M109.9 799.5H160.4V808.4H109.9zM109.9 807.8H170.4V816.8H109.9zM169.8 816.2H180.4V825.1H169.8zM179.8 824.5H190.4V833.5H179.8zM179.8 832.9H190.4V841.8H179.8zM179.8 841.2H190.4V850.2H179.8zM189.8 849.6H200.3V858.5H189.8zM189.8 857.9H200.3V866.9H189.8zM189.8 866.3H200.3V875.2H189.8zM189.8 874.6H200.3V883.6H189.8zM179.8 883.0H200.3V891.9H179.8zM189.8 891.3H200.3V900.3H189.8zM189.8 899.7H200.3V908.6H189.8z"/>
<path fill="#64aab0" d="M109.9 791.1H170.4V800.1H109.9zM159.8 799.5H180.4V808.4H159.8zM169.8 807.8H180.4V816.8H169.8zM179.8 816.2H190.4V825.1H179.8zM189.8 832.9H200.3V841.8H189.8zM189.8 841.2H200.3V850.2H189.8zM199.7 866.3H210.3V875.2H199.7zM199.7 874.6H210.3V883.6H199.7zM199.7 916.4H210.3V925.3H199.7zM199.7 924.7H210.3V933.7H199.7z"/>
<path fill="#6caeb4" d="M109.9 774.4H160.4V783.4H109.9zM109.9 782.8H170.4V791.7H109.9zM169.8 791.1H180.4V800.1H169.8zM179.8 799.5H190.4V808.4H179.8zM179.8 807.8H190.4V816.8H179.8zM189.8 816.2H200.3V825.1H189.8zM189.8 824.5H200.3V833.5H189.8zM199.7 832.9H210.3V841.8H199.7zM199.7 841.2H210.3V850.2H199.7zM199.7 849.6H210.3V858.5H199.7zM199.7 857.9H210.3V866.9H199.7zM199.7 883.0H210.3V891.9H199.7zM199.7 891.3H210.3V900.3H199.7zM199.7 899.7H210.3V908.6H199.7zM199.7 908.0H210.3V917.0H199.7zM199.7 933.1H210.3V942.0H199.7zM199.7 941.4H210.3V950.4H199.7zM199.7 949.8H210.3V958.8H199.7zM199.7 958.2H210.3V967.1H199.7z"/>
<path fill="#74b3b8" d="M109.9 766.1H160.4V775.0H109.9zM159.8 774.4H170.4V783.4H159.8zM169.8 782.8H180.4V791.7H169.8zM179.8 791.1H190.4V800.1H179.8zM189.8 799.5H200.3V808.4H189.8zM189.8 807.8H210.3V816.8H189.8zM199.7 816.2H210.3V825.1H199.7zM199.7 824.5H210.3V833.5H199.7zM209.7 841.2H220.3V850.2H209.7zM209.7 849.6H220.3V858.5H209.7zM209.7 857.9H220.3V866.9H209.7zM209.7 866.3H220.3V875.2H209.7zM209.7 874.6H220.3V883.6H209.7zM209.7 883.0H220.3V891.9H209.7z"/>
<path fill="#7cb7bc" d="M109.9 749.4H160.4V758.3H109.9zM109.9 757.7H170.4V766.7H109.9zM159.8 766.1H180.4V775.0H159.8zM169.8 774.4H190.4V783.4H169.8zM179.8 782.8H200.3V791.7H179.8zM189.8 791.1H210.3V800.1H189.8zM199.7 799.5H210.3V808.4H199.7zM209.7 807.8H220.3V816.8H209.7zM209.7 816.2H220.3V825.1H209.7zM209.7 824.5H220.3V833.5H209.7zM209.7 832.9H220.3V841.8H209.7zM219.7 857.9H230.3V866.9H219.7zM219.7 866.3H230.3V875.2H219.7zM209.7 891.3H220.3V900.3H209.7zM209.7 899.7H220.3V908.6H209.7zM209.7 908.0H220.3V917.0H209.7zM209.7 916.4H220.3V925.3H209.7zM209.7 924.7H220.3V933.7H209.7z"/>
<path fill="#84bbc0" d="M109.9 741.0H170.4V750.0H109.9zM159.8 749.4H180.4V758.3H159.8zM169.8 757.7H190.4V766.7H169.8zM179.8 766.1H200.3V775.0H179.8zM189.8 774.4H210.3V783.4H189.8zM199.7 782.8H220.3V791.7H199.7zM209.7 791.1H220.3V800.1H209.7zM209.7 799.5H220.3V808.4H209.7zM219.7 807.8H230.3V816.8H219.7zM219.7 816.2H230.3V825.1H219.7zM219.7 824.5H230.3V833.5H219.7zM219.7 832.9H230.3V841.8H219.7zM219.7 841.2H230.3V850.2H219.7zM219.7 849.6H230.3V858.5H219.7zM219.7 874.6H230.3V883.6H219.7zM219.7 883.0H230.3V891.9H219.7zM219.7 891.3H230.3V900.3H219.7zM219.7 899.7H230.3V908.6H219.7zM219.7 908.0H230.3V917.0H219.7zM209.7 933.1H220.3V942.0H209.7z"/>
<path fill="#8cc0c4" d="M109.9 699.2H160.4V708.2H109.9zM169.8 715.9H190.4V724.9H169.8zM109.9 724.3H190.4V733.2H109.9zM109.9 732.6H200.3V741.6H109.9zM169.8 741.0H200.3V750.0H169.8zM179.8 749.4H210.3V758.3H179.8zM189.8 757.7H220.3V766.7H189.8zM199.7 766.1H220.3V775.0H199.7zM209.7 774.4H230.3V783.4H209.7zM219.7 782.8H230.3V791.7H219.7zM219.7 791.1H230.3V800.1H219.7zM219.7 799.5H230.3V808.4H219.7zM229.7 807.8H240.3V816.8H229.7zM229.7 816.2H240.3V825.1H229.7zM229.7 824.5H240.3V833.5H229.7zM229.7 832.9H240.3V841.8H229.7zM229.7 841.2H240.3V850.2H229.7zM229.7 849.6H240.3V858.5H229.7zM229.7 857.9H240.3V866.9H229.7zM229.7 866.3H240.3V875.2H229.7zM229.7 874.6H240.3V883.6H229.7zM229.7 883.0H240.3V891.9H229.7zM229.7 891.3H240.3V900.3H229.7zM229.7 899.7H240.3V908.6H229.7zM229.7 908.0H240.3V917.0H229.7zM219.7 916.4H230.3V925.3H219.7zM219.7 924.7H230.3V933.7H219.7z"/>
<path fill="#94c4c8" d="M109.9 632.4H160.4V641.4H109.9zM109.9 640.8H170.4V649.7H109.9zM109.9 649.1H180.4V658.1H109.9zM109.9 657.5H190.4V666.4H109.9zM109.9 665.8H190.4V674.8H109.9zM109.9 674.2H200.3V683.1H109.9zM109.9 682.5H210.3V691.5H109.9zM109.9 690.9H210.3V699.8H109.9zM159.8 699.2H210.3V708.2H159.8zM109.9 707.6H220.3V716.5H109.9zM109.9 715.9H170.4V724.9H109.9zM189.8 715.9H220.3V724.9H189.8zM189.8 724.3H220.3V733.2H189.8zM199.7 732.6H230.3V741.6H199.7zM199.7 741.0H230.3V750.0H199.7zM209.7 749.4H230.3V758.3H209.7zM219.7 757.7H240.3V766.7H219.7zM219.7 766.1H240.3V775.0H219.7zM229.7 774.4H240.3V783.4H229.7zM229.7 782.8H240.3V791.7H229.7zM229.7 791.1H250.2V800.1H229.7zM229.7 799.5H250.2V808.4H229.7zM239.7 807.8H250.2V816.8H239.7zM239.7 816.2H250.2V825.1H239.7zM239.7 824.5H250.2V833.5H239.7zM239.7 832.9H250.2V841.8H239.7zM239.7 841.2H250.2V850.2H239.7zM239.7 849.6H250.2V858.5H239.7zM239.7 857.9H250.2V866.9H239.7zM239.7 866.3H250.2V875.2H239.7zM239.7 874.6H250.2V883.6H239.7zM239.7 883.0H250.2V891.9H239.7zM239.7 891.3H250.2V900.3H239.7zM239.7 899.7H250.2V908.6H239.7zM229.7 916.4H240.3V925.3H229.7zM229.7 924.7H240.3V933.7H229.7zM219.7 933.1H230.3V942.0H219.7zM209.7 941.4H220.3V950.4H209.7zM209.7 949.8H220.3V958.8H209.7zM209.7 958.2H220.3V967.1H209.7z"/>
<path fill="#9cc9cd" d="M109.9 582.3H160.4V591.3H109.9zM109.9 590.7H160.4V599.6H109.9zM109.9 599.0H170.4V608.0H109.9zM109.9 607.4H180.4V616.3H109.9zM109.9 615.7H190.4V624.7H109.9zM109.9 624.1H200.3V633.0H109.9zM159.8 632.4H200.3V641.4H159.8zM169.8 640.8H210.3V649.7H169.8zM179.8 649.1H220.3V658.1H179.8zM189.8 657.5H220.3V666.4H189.8zM189.8 665.8H230.3V674.8H189.8zM199.7 674.2H230.3V683.1H199.7zM209.7 682.5H240.3V691.5H209.7zM209.7 690.9H240.3V699.8H209.7zM209.7 699.2H240.3V708.2H209.7zM219.7 707.6H250.2V716.5H219.7zM219.7 715.9H250.2V724.9H219.7zM219.7 724.3H250.2V733.2H219.7zM229.7 732.6H250.2V741.6H229.7zM229.7 741.0H250.2V750.0H229.7zM229.7 749.4H250.2V758.3H229.7zM239.7 757.7H250.2V766.7H239.7zM239.7 766.1H260.2V775.0H239.7zM239.7 774.4H260.2V783.4H239.7zM239.7 782.8H260.2V791.7H239.7zM249.6 791.1H260.2V800.1H249.6zM249.6 799.5H260.2V808.4H249.6zM249.6 807.8H260.2V816.8H249.6zM249.6 816.2H260.2V825.1H249.6zM249.6 824.5H260.2V833.5H249.6zM249.6 832.9H260.2V841.8H249.6zM249.6 841.2H260.2V850.2H249.6zM249.6 849.6H260.2V858.5H249.6zM249.6 857.9H260.2V866.9H249.6zM249.6 866.3H260.2V875.2H249.6zM249.6 874.6H260.2V883.6H249.6zM249.6 883.0H260.2V891.9H249.6zM249.6 891.3H260.2V900.3H249.6zM249.6 899.7H260.2V908.6H249.6zM239.7 908.0H250.2V917.0H239.7zM239.7 916.4H250.2V925.3H239.7zM219.7 941.4H230.3V950.4H219.7zM219.7 949.8H230.3V958.8H219.7zM219.7 958.2H230.3V967.1H219.7z"/>
<path fill="#a4cdd1" d="M109.9 515.5H160.4V524.4H109.9zM109.9 523.8H160.4V532.8H109.9zM109.9 532.2H160.4V541.2H109.9zM109.9 540.6H170.4V549.5H109.9zM109.9 548.9H170.4V557.9H109.9zM109.9 557.3H170.4V566.2H109.9zM109.9 565.6H180.4V574.6H109.9zM109.9 574.0H190.4V582.9H109.9zM159.8 582.3H200.3V591.3H159.8zM159.8 590.7H220.3V599.6H159.8zM169.8 599.0H220.3V608.0H169.8zM179.8 607.4H230.3V616.3H179.8zM189.8 615.7H230.3V624.7H189.8zM199.7 624.1H240.3V633.0H199.7zM199.7 632.4H240.3V641.4H199.7zM209.7 640.8H240.3V649.7H209.7zM219.7 649.1H250.2V658.1H219.7zM219.7 657.5H250.2V666.4H219.7zM229.7 665.8H260.2V674.8H229.7zM229.7 674.2H260.2V683.1H229.7zM239.7 682.5H260.2V691.5H239.7zM239.7 690.9H270.2V699.8H239.7zM239.7 699.2H270.2V708.2H239.7zM249.6 707.6H270.2V716.5H249.6zM249.6 715.9H270.2V724.9H249.6zM249.6 724.3H270.2V733.2H249.6zM249.6 732.6H270.2V741.6H249.6zM249.6 741.0H270.2V750.0H249.6zM249.6 749.4H270.2V758.3H249.6zM249.6 757.7H270.2V766.7H249.6zM259.6 766.1H270.2V775.0H259.6zM259.6 774.4H270.2V783.4H259.6zM259.6 782.8H270.2V791.7H259.6zM259.6 791.1H270.2V800.1H259.6zM259.6 799.5H270.2V808.4H259.6zM259.6 807.8H270.2V816.8H259.6zM259.6 816.2H270.2V825.1H259.6zM259.6 824.5H270.2V833.5H259.6zM259.6 832.9H270.2V841.8H259.6zM259.6 841.2H270.2V850.2H259.6zM259.6 849.6H270.2V858.5H259.6zM259.6 857.9H270.2V866.9H259.6zM259.6 866.3H270.2V875.2H259.6zM259.6 874.6H270.2V883.6H259.6zM259.6 883.0H270.2V891.9H259.6zM259.6 891.3H270.2V900.3H259.6zM259.6 899.7H270.2V908.6H259.6zM249.6 908.0H260.2V917.0H249.6zM249.6 916.4H260.2V925.3H249.6zM239.7 924.7H250.2V933.7H239.7zM229.7 933.1H240.3V942.0H229.7zM229.7 941.4H240.3V950.4H229.7zM229.7 949.8H240.3V958.8H229.7zM229.7 958.2H240.3V967.1H229.7z"/>
<path fill="#acd1d5" d="M159.8 515.5H210.3V524.4H159.8zM159.8 523.8H210.3V532.8H159.8zM159.8 532.2H210.3V541.2H159.8zM169.8 540.6H220.3V549.5H169.8zM169.8 548.9H240.3V557.9H169.8zM169.8 557.3H250.2V566.2H169.8zM179.8 565.6H250.2V574.6H179.8zM189.8 574.0H250.2V582.9H189.8zM199.7 582.3H250.2V591.3H199.7zM219.7 590.7H250.2V599.6H219.7zM219.7 599.0H260.2V608.0H219.7zM229.7 607.4H260.2V616.3H229.7zM229.7 615.7H260.2V624.7H229.7zM239.7 624.1H260.2V633.0H239.7zM239.7 632.4H260.2V641.4H239.7zM239.7 640.8H270.2V649.7H239.7zM249.6 649.1H270.2V658.1H249.6zM249.6 657.5H270.2V666.4H249.6zM259.6 665.8H280.2V674.8H259.6zM259.6 674.2H280.2V683.1H259.6zM259.6 682.5H280.2V691.5H259.6zM269.6 690.9H290.1V699.8H269.6zM269.6 699.2H290.1V708.2H269.6zM269.6 707.6H290.1V716.5H269.6zM269.6 715.9H290.1V724.9H269.6zM269.6 724.3H290.1V733.2H269.6zM269.6 732.6H280.2V741.6H269.6zM269.6 741.0H280.2V750.0H269.6zM269.6 749.4H280.2V758.3H269.6zM269.6 757.7H280.2V766.7H269.6zM269.6 766.1H290.1V775.0H269.6zM269.6 774.4H290.1V783.4H269.6zM269.6 782.8H290.1V791.7H269.6zM269.6 791.1H290.1V800.1H269.6zM269.6 799.5H290.1V808.4H269.6zM269.6 807.8H290.1V816.8H269.6zM269.6 816.2H290.1V825.1H269.6zM269.6 824.5H290.1V833.5H269.6zM269.6 832.9H290.1V841.8H269.6zM269.6 841.2H290.1V850.2H269.6zM269.6 849.6H290.1V858.5H269.6zM269.6 857.9H290.1V866.9H269.6zM269.6 866.3H290.1V875.2H269.6zM269.6 874.6H290.1V883.6H269.6zM269.6 883.0H290.1V891.9H269.6zM269.6 891.3H280.2V900.3H269.6zM269.6 899.7H280.2V908.6H269.6zM259.6 908.0H270.2V917.0H259.6zM249.6 924.7H260.2V933.7H249.6zM239.7 933.1H250.2V942.0H239.7z"/>
<path fill="#b4d6d9" d="M209.7 515.5H250.2V524.4H209.7zM209.7 523.8H250.2V532.8H209.7zM209.7 532.2H250.2V541.2H209.7zM219.7 540.6H250.2V549.5H219.7zM239.7 548.9H260.2V557.9H239.7zM249.6 557.3H260.2V566.2H249.6zM249.6 565.6H260.2V574.6H249.6zM249.6 574.0H270.2V582.9H249.6zM249.6 582.3H270.2V591.3H249.6zM249.6 590.7H270.2V599.6H249.6zM259.6 599.0H270.2V608.0H259.6zM259.6 607.4H280.2V616.3H259.6zM259.6 615.7H280.2V624.7H259.6zM259.6 624.1H280.2V633.0H259.6zM259.6 632.4H280.2V641.4H259.6zM269.6 640.8H290.1V649.7H269.6zM269.6 649.1H290.1V658.1H269.6zM269.6 657.5H290.1V666.4H269.6zM279.6 665.8H290.1V674.8H279.6zM279.6 674.2H290.1V683.1H279.6zM279.6 682.5H300.1V691.5H279.6zM289.5 690.9H300.1V699.8H289.5zM289.5 699.2H300.1V708.2H289.5zM289.5 707.6H300.1V716.5H289.5zM289.5 715.9H300.1V724.9H289.5zM289.5 724.3H300.1V733.2H289.5zM279.6 732.6H300.1V741.6H279.6zM279.6 741.0H300.1V750.0H279.6zM279.6 749.4H300.1V758.3H279.6zM279.6 757.7H300.1V766.7H279.6zM289.5 766.1H300.1V775.0H289.5zM289.5 774.4H300.1V783.4H289.5zM289.5 782.8H300.1V791.7H289.5zM289.5 791.1H300.1V800.1H289.5zM289.5 799.5H300.1V808.4H289.5zM289.5 807.8H300.1V816.8H289.5zM289.5 816.2H300.1V825.1H289.5zM289.5 824.5H300.1V833.5H289.5zM289.5 832.9H300.1V841.8H289.5zM289.5 841.2H300.1V850.2H289.5zM289.5 849.6H300.1V858.5H289.5zM289.5 857.9H300.1V866.9H289.5zM289.5 866.3H300.1V875.2H289.5zM289.5 874.6H300.1V883.6H289.5zM289.5 883.0H300.1V891.9H289.5zM279.6 891.3H300.1V900.3H279.6zM279.6 899.7H290.1V908.6H279.6zM269.6 908.0H290.1V917.0H269.6zM259.6 916.4H280.2V925.3H259.6zM249.6 933.1H260.2V942.0H249.6zM239.7 941.4H250.2V950.4H239.7zM239.7 949.8H250.2V958.8H239.7zM239.7 958.2H250.2V967.1H239.7z"/>
<path fill="#bcdadd" d="M249.6 515.5H260.2V524.4H249.6zM249.6 523.8H260.2V532.8H249.6zM249.6 532.2H260.2V541.2H249.6zM249.6 540.6H260.2V549.5H249.6zM259.6 548.9H270.2V557.9H259.6zM259.6 557.3H270.2V566.2H259.6zM259.6 565.6H280.2V574.6H259.6zM269.6 574.0H280.2V582.9H269.6zM269.6 582.3H280.2V591.3H269.6zM269.6 590.7H290.1V599.6H269.6zM269.6 599.0H290.1V608.0H269.6zM279.6 607.4H290.1V616.3H279.6zM279.6 615.7H300.1V624.7H279.6zM279.6 624.1H300.1V633.0H279.6zM279.6 632.4H300.1V641.4H279.6zM289.5 640.8H300.1V649.7H289.5zM289.5 649.1H310.1V658.1H289.5zM289.5 657.5H310.1V666.4H289.5zM289.5 665.8H310.1V674.8H289.5zM289.5 674.2H310.1V683.1H289.5zM299.5 682.5H310.1V691.5H299.5zM299.5 690.9H310.1V699.8H299.5zM299.5 699.2H310.1V708.2H299.5zM299.5 707.6H310.1V716.5H299.5zM299.5 715.9H310.1V724.9H299.5zM299.5 724.3H310.1V733.2H299.5zM299.5 732.6H310.1V741.6H299.5zM299.5 741.0H310.1V750.0H299.5zM299.5 749.4H310.1V758.3H299.5zM299.5 757.7H310.1V766.7H299.5zM299.5 766.1H320.1V775.0H299.5zM299.5 774.4H320.1V783.4H299.5zM299.5 782.8H320.1V791.7H299.5zM299.5 791.1H320.1V800.1H299.5zM299.5 799.5H320.1V808.4H299.5zM299.5 807.8H320.1V816.8H299.5zM299.5 816.2H320.1V825.1H299.5zM299.5 824.5H320.1V833.5H299.5zM299.5 832.9H320.1V841.8H299.5zM299.5 841.2H320.1V850.2H299.5zM299.5 849.6H320.1V858.5H299.5zM299.5 857.9H320.1V866.9H299.5zM299.5 866.3H320.1V875.2H299.5zM299.5 874.6H310.1V883.6H299.5zM299.5 883.0H310.1V891.9H299.5zM299.5 891.3H310.1V900.3H299.5zM289.5 899.7H300.1V908.6H289.5zM289.5 908.0H300.1V917.0H289.5zM279.6 916.4H290.1V925.3H279.6zM259.6 924.7H280.2V933.7H259.6zM249.6 941.4H260.2V950.4H249.6zM249.6 949.8H260.2V958.8H249.6zM249.6 958.2H260.2V967.1H249.6z"/>
<path fill="#c5dfe1" d="M259.6 515.5H280.2V524.4H259.6zM259.6 523.8H280.2V532.8H259.6zM259.6 532.2H280.2V541.2H259.6zM259.6 540.6H280.2V549.5H259.6zM269.6 548.9H290.1V557.9H269.6zM269.6 557.3H300.1V566.2H269.6zM279.6 565.6H300.1V574.6H279.6zM279.6 574.0H310.1V582.9H279.6zM279.6 582.3H310.1V591.3H279.6zM289.5 590.7H320.1V599.6H289.5zM289.5 599.0H320.1V608.0H289.5zM289.5 607.4H330.0V616.3H289.5zM299.5 615.7H330.0V624.7H299.5zM299.5 624.1H330.0V633.0H299.5zM299.5 632.4H330.0V641.4H299.5zM299.5 640.8H330.0V649.7H299.5zM309.5 649.1H330.0V658.1H309.5zM309.5 657.5H330.0V666.4H309.5zM309.5 665.8H330.0V674.8H309.5zM309.5 674.2H330.0V683.1H309.5zM309.5 682.5H330.0V691.5H309.5zM309.5 690.9H330.0V699.8H309.5zM309.5 699.2H330.0V708.2H309.5zM309.5 707.6H330.0V716.5H309.5zM309.5 715.9H330.0V724.9H309.5zM309.5 724.3H330.0V733.2H309.5zM309.5 732.6H330.0V741.6H309.5zM309.5 741.0H340.0V750.0H309.5zM309.5 749.4H340.0V758.3H309.5zM309.5 757.7H340.0V766.7H309.5zM319.5 766.1H350.0V775.0H319.5zM319.5 774.4H350.0V783.4H319.5zM319.5 782.8H350.0V791.7H319.5zM319.5 791.1H350.0V800.1H319.5zM319.5 799.5H350.0V808.4H319.5zM319.5 807.8H350.0V816.8H319.5zM319.5 816.2H350.0V825.1H319.5zM319.5 824.5H340.0V833.5H319.5zM319.5 832.9H340.0V841.8H319.5zM319.5 841.2H340.0V850.2H319.5zM319.5 849.6H340.0V858.5H319.5zM319.5 857.9H340.0V866.9H319.5zM319.5 866.3H330.0V875.2H319.5zM309.5 874.6H330.0V883.6H309.5zM309.5 883.0H330.0V891.9H309.5zM309.5 891.3H320.1V900.3H309.5zM299.5 899.7H310.1V908.6H299.5zM289.5 916.4H300.1V925.3H289.5zM279.6 924.7H290.1V933.7H279.6zM259.6 933.1H270.2V942.0H259.6z"/>
<path fill="#cde3e5" d="M279.6 515.5H409.9V524.4H279.6zM279.6 523.8H409.9V532.8H279.6zM279.6 532.2H409.9V541.2H279.6zM279.6 540.6H419.8V549.5H279.6zM289.5 548.9H419.8V557.9H289.5zM299.5 557.3H419.8V566.2H299.5zM299.5 565.6H419.8V574.6H299.5zM309.5 574.0H419.8V582.9H309.5zM309.5 582.3H419.8V591.3H309.5zM319.5 590.7H419.8V599.6H319.5zM319.5 599.0H409.9V608.0H319.5zM329.4 607.4H409.9V616.3H329.4zM329.4 615.7H409.9V624.7H329.4zM329.4 624.1H409.9V633.0H329.4zM329.4 632.4H409.9V641.4H329.4zM329.4 640.8H409.9V649.7H329.4zM329.4 649.1H409.9V658.1H329.4zM329.4 657.5H409.9V666.4H329.4zM329.4 665.8H409.9V674.8H329.4zM329.4 674.2H399.9V683.1H329.4zM329.4 682.5H399.9V691.5H329.4zM329.4 690.9H399.9V699.8H329.4zM329.4 699.2H399.9V708.2H329.4zM329.4 707.6H399.9V716.5H329.4zM329.4 715.9H399.9V724.9H329.4zM329.4 724.3H399.9V733.2H329.4zM329.4 732.6H399.9V741.6H329.4zM339.4 741.0H389.9V750.0H339.4zM339.4 749.4H389.9V758.3H339.4zM339.4 757.7H379.9V766.7H339.4zM349.4 766.1H379.9V775.0H349.4zM349.4 774.4H379.9V783.4H349.4zM349.4 782.8H370.0V791.7H349.4zM349.4 791.1H370.0V800.1H349.4zM349.4 799.5H370.0V808.4H349.4zM349.4 807.8H370.0V816.8H349.4zM349.4 816.2H370.0V825.1H349.4zM339.4 824.5H360.0V833.5H339.4zM339.4 832.9H360.0V841.8H339.4zM339.4 841.2H360.0V850.2H339.4zM339.4 849.6H360.0V858.5H339.4zM339.4 857.9H350.0V866.9H339.4zM329.4 866.3H350.0V875.2H329.4zM329.4 874.6H340.0V883.6H329.4zM329.4 883.0H340.0V891.9H329.4zM319.5 891.3H330.0V900.3H319.5zM309.5 899.7H320.1V908.6H309.5zM299.5 908.0H310.1V917.0H299.5zM269.6 933.1H280.2V942.0H269.6zM259.6 941.4H270.2V950.4H259.6zM259.6 949.8H270.2V958.8H259.6zM259.6 958.2H270.2V967.1H259.6z"/>
<path fill="#d5e8ea" d="M409.3 515.5H459.8V524.4H409.3zM409.3 523.8H459.8V532.8H409.3zM409.3 532.2H459.8V541.2H409.3zM419.2 540.6H459.8V549.5H419.2zM419.2 548.9H459.8V557.9H419.2zM419.2 557.3H459.8V566.2H419.2zM419.2 565.6H459.8V574.6H419.2zM419.2 574.0H459.8V582.9H419.2zM419.2 582.3H459.8V591.3H419.2zM419.2 590.7H459.8V599.6H419.2zM409.3 599.0H459.8V608.0H409.3zM409.3 607.4H459.8V616.3H409.3zM409.3 615.7H459.8V624.7H409.3zM409.3 624.1H459.8V633.0H409.3zM409.3 632.4H459.8V641.4H409.3zM409.3 640.8H459.8V649.7H409.3zM409.3 649.1H459.8V658.1H409.3zM409.3 657.5H459.8V666.4H409.3zM409.3 665.8H459.8V674.8H409.3zM399.3 674.2H459.8V683.1H399.3zM399.3 682.5H459.8V691.5H399.3zM399.3 690.9H459.8V699.8H399.3zM399.3 699.2H459.8V708.2H399.3zM399.3 707.6H429.8V716.5H399.3zM399.3 715.9H429.8V724.9H399.3zM399.3 724.3H429.8V733.2H399.3zM399.3 732.6H429.8V741.6H399.3zM389.3 741.0H429.8V750.0H389.3zM389.3 749.4H429.8V758.3H389.3zM379.3 757.7H419.8V766.7H379.3zM379.3 766.1H409.9V775.0H379.3zM379.3 774.4H409.9V783.4H379.3zM369.4 782.8H399.9V791.7H369.4zM369.4 791.1H389.9V800.1H369.4zM369.4 799.5H389.9V808.4H369.4zM369.4 807.8H389.9V816.8H369.4zM369.4 816.2H379.9V825.1H369.4zM359.4 824.5H379.9V833.5H359.4zM359.4 832.9H379.9V841.8H359.4zM359.4 841.2H370.0V850.2H359.4zM359.4 849.6H370.0V858.5H359.4zM349.4 857.9H370.0V866.9H349.4zM349.4 866.3H360.0V875.2H349.4zM339.4 874.6H360.0V883.6H339.4zM339.4 883.0H350.0V891.9H339.4zM329.4 891.3H340.0V900.3H329.4zM319.5 899.7H330.0V908.6H319.5zM309.5 908.0H320.1V917.0H309.5zM299.5 916.4H310.1V925.3H299.5zM289.5 924.7H300.1V933.7H289.5zM279.6 933.1H290.1V942.0H279.6zM269.6 941.4H280.2V950.4H269.6zM269.6 949.8H280.2V958.8H269.6zM269.6 958.2H280.2V967.1H269.6z"/>
<path fill="#ddedee" d="M429.2 707.6H459.8V716.5H429.2zM429.2 715.9H459.8V724.9H429.2zM429.2 724.3H459.8V733.2H429.2zM429.2 732.6H459.8V741.6H429.2zM429.2 741.0H459.8V750.0H429.2zM429.2 749.4H459.8V758.3H429.2zM419.2 757.7H459.8V766.7H419.2zM409.3 766.1H429.8V775.0H409.3zM409.3 774.4H429.8V783.4H409.3zM399.3 782.8H419.8V791.7H399.3zM389.3 791.1H419.8V800.1H389.3zM389.3 799.5H409.9V808.4H389.3zM389.3 807.8H399.9V816.8H389.3zM379.3 816.2H399.9V825.1H379.3zM379.3 824.5H399.9V833.5H379.3zM379.3 832.9H389.9V841.8H379.3zM369.4 841.2H389.9V850.2H369.4zM369.4 849.6H389.9V858.5H369.4zM369.4 857.9H379.9V866.9H369.4zM359.4 866.3H370.0V875.2H359.4zM359.4 874.6H370.0V883.6H359.4zM349.4 883.0H360.0V891.9H349.4zM339.4 891.3H350.0V900.3H339.4zM329.4 899.7H340.0V908.6H329.4zM319.5 908.0H330.0V917.0H319.5zM309.5 916.4H320.1V925.3H309.5z"/>
<path fill="#e6f1f2" d="M429.2 766.1H459.8V775.0H429.2zM429.2 774.4H459.8V783.4H429.2zM419.2 782.8H459.8V791.7H419.2zM419.2 791.1H459.8V800.1H419.2zM409.3 799.5H429.8V808.4H409.3zM399.3 807.8H419.8V816.8H399.3zM399.3 816.2H419.8V825.1H399.3zM399.3 824.5H419.8V833.5H399.3zM389.3 832.9H409.9V841.8H389.3zM389.3 841.2H409.9V850.2H389.3zM389.3 849.6H409.9V858.5H389.3zM379.3 857.9H399.9V866.9H379.3zM369.4 866.3H389.9V875.2H369.4zM369.4 874.6H379.9V883.6H369.4zM359.4 883.0H370.0V891.9H359.4zM349.4 891.3H360.0V900.3H349.4zM339.4 899.7H350.0V908.6H339.4zM329.4 908.0H340.0V917.0H329.4zM319.5 916.4H330.0V925.3H319.5zM299.5 924.7H310.1V933.7H299.5zM289.5 933.1H300.1V942.0H289.5zM279.6 941.4H290.1V950.4H279.6zM279.6 949.8H290.1V958.8H279.6zM279.6 958.2H290.1V967.1H279.6z"/>
<path fill="#eef6f6" d="M429.2 799.5H459.8V808.4H429.2zM419.2 807.8H459.8V816.8H419.2zM419.2 816.2H459.8V825.1H419.2zM419.2 824.5H429.8V833.5H419.2zM409.3 832.9H429.8V841.8H409.3zM409.3 841.2H419.8V850.2H409.3zM409.3 849.6H419.8V858.5H409.3zM399.3 857.9H409.9V866.9H399.3zM389.3 866.3H399.9V875.2H389.3zM379.3 874.6H389.9V883.6H379.3zM369.4 883.0H379.9V891.9H369.4zM359.4 891.3H370.0V900.3H359.4zM349.4 899.7H360.0V908.6H349.4zM339.4 908.0H350.0V917.0H339.4zM329.4 916.4H340.0V925.3H329.4zM309.5 924.7H330.0V933.7H309.5z"/>
<path fill="#f7fafb" d="M429.2 824.5H459.8V833.5H429.2zM429.2 832.9H459.8V841.8H429.2zM419.2 841.2H429.8V850.2H419.2zM419.2 849.6H429.8V858.5H419.2zM409.3 857.9H429.8V866.9H409.3zM399.3 866.3H419.8V875.2H399.3zM389.3 874.6H409.9V883.6H389.3zM379.3 883.0H389.9V891.9H379.3zM369.4 891.3H379.9V900.3H369.4zM359.4 899.7H370.0V908.6H359.4zM349.4 908.0H360.0V917.0H349.4zM339.4 916.4H350.0V925.3H339.4zM329.4 924.7H340.0V933.7H329.4zM299.5 933.1H320.1V942.0H299.5zM289.5 941.4H300.1V950.4H289.5zM289.5 949.8H300.1V958.8H289.5zM289.5 958.2H300.1V967.1H289.5z"/>
<path fill="#ffffff" d="M429.2 841.2H459.8V850.2H429.2zM429.2 849.6H459.8V858.5H429.2zM429.2 857.9H459.8V866.9H429.2zM419.2 866.3H429.8V875.2H419.2zM409.3 874.6H419.8V883.6H409.3zM389.3 883.0H409.9V891.9H389.3zM379.3 891.3H399.9V900.3H379.3zM369.4 899.7H379.9V908.6H369.4zM359.4 908.0H370.0V917.0H359.4zM319.5 933.1H330.0V942.0H319.5zM299.5 941.4H310.1V950.4H299.5zM299.5 949.8H310.1V958.8H299.5zM299.5 958.2H310.1V967.1H299.5z"/>
<path fill="#fffbf7" d="M429.2 866.3H459.8V875.2H429.2zM419.2 874.6H429.8V883.6H419.2zM409.3 883.0H419.8V891.9H409.3zM399.3 891.3H409.9V900.3H399.3zM379.3 899.7H389.9V908.6H379.3zM369.4 908.0H379.9V917.0H369.4zM349.4 916.4H370.0V925.3H349.4zM339.4 924.7H350.0V933.7H339.4zM329.4 933.1H340.0V942.0H329.4zM309.5 941.4H330.0V950.4H309.5zM309.5 949.8H330.0V958.8H309.5zM309.5 958.2H330.0V967.1H309.5z"/>
<path fill="#fff7f0" d="M429.2 874.6H459.8V883.6H429.2zM419.2 883.0H429.8V891.9H419.2zM409.3 891.3H419.8V900.3H409.3zM389.3 899.7H409.9V908.6H389.3zM379.3 908.0H389.9V917.0H379.3zM369.4 916.4H379.9V925.3H369.4zM349.4 924.7H360.0V933.7H349.4zM339.4 933.1H350.0V942.0H339.4zM329.4 941.4H340.0V950.4H329.4zM329.4 949.8H340.0V958.8H329.4zM329.4 958.2H340.0V967.1H329.4z"/>
<path fill="#fff3e8" d="M429.2 883.0H459.8V891.9H429.2zM419.2 891.3H429.8V900.3H419.2zM409.3 899.7H419.8V908.6H409.3zM389.3 908.0H409.9V917.0H389.3zM379.3 916.4H389.9V925.3H379.3zM359.4 924.7H379.9V933.7H359.4zM349.4 933.1H360.0V942.0H349.4z"/>
<path fill="#ffefe1" d="M429.2 891.3H459.8V900.3H429.2zM419.2 899.7H429.8V908.6H419.2zM409.3 908.0H419.8V917.0H409.3zM389.3 916.4H409.9V925.3H389.3zM379.3 924.7H389.9V933.7H379.3zM359.4 933.1H379.9V942.0H359.4zM339.4 941.4H350.0V950.4H339.4zM339.4 949.8H350.0V958.8H339.4zM339.4 958.2H350.0V967.1H339.4z"/>
<path fill="#ffebd9" d="M429.2 899.7H459.8V908.6H429.2zM419.2 908.0H429.8V917.0H419.2zM409.3 916.4H419.8V925.3H409.3zM389.3 924.7H409.9V933.7H389.3zM379.3 933.1H389.9V942.0H379.3zM349.4 941.4H379.9V950.4H349.4zM349.4 949.8H379.9V958.8H349.4zM349.4 958.2H379.9V967.1H349.4z"/>
<path fill="#ffe7d2" d="M429.2 908.0H459.8V917.0H429.2zM419.2 916.4H429.8V925.3H419.2zM409.3 924.7H419.8V933.7H409.3zM389.3 933.1H399.9V942.0H389.3zM379.3 941.4H389.9V950.4H379.3zM379.3 949.8H389.9V958.8H379.3zM379.3 958.2H389.9V967.1H379.3z"/>
<path fill="#ffe3ca" d="M429.2 916.4H459.8V925.3H429.2zM419.2 924.7H429.8V933.7H419.2zM399.3 933.1H419.8V942.0H399.3zM389.3 941.4H409.9V950.4H389.3zM389.3 949.8H409.9V958.8H389.3zM389.3 958.2H409.9V967.1H389.3z"/>
<path fill="#ffdfc3" d="M429.2 924.7H459.8V933.7H429.2zM409.3 941.4H419.8V950.4H409.3zM409.3 949.8H419.8V958.8H409.3zM409.3 958.2H419.8V967.1H409.3z"/>
<path fill="#ffdbbb" d="M419.2 933.1H429.8V942.0H419.2z"/>
<path fill="#ffd7b4" d="M429.2 933.1H459.8V942.0H429.2zM419.2 941.4H429.8V950.4H419.2zM419.2 949.8H429.8V958.8H419.2zM419.2 958.2H429.8V967.1H419.2z"/>
<path fill="#ffd3ac" d="M429.2 941.4H459.8V950.4H429.2zM429.2 949.8H459.8V958.8H429.2zM429.2 958.2H459.8V967.1H429.2z"/>
</g>
<path fill="#ff7f0e" d="M129.9 532.2H140.5V541.2H129.9zM129.9 540.6H140.5V549.5H129.9zM129.9 548.9H140.5V557.9H129.9zM129.9 557.3H140.5V566.2H129.9zM129.9 565.6H140.5V574.6H129.9zM129.9 574.0H140.5V582.9H129.9zM129.9 582.3H140.5V591.3H129.9zM129.9 590.7H140.5V599.6H129.9zM129.9 599.0H140.5V608.0H129.9zM129.9 607.4H140.5V616.3H129.9zM129.9 615.7H140.5V624.7H129.9zM129.9 624.1H140.5V633.0H129.9zM129.9 632.4H140.5V641.4H129.9zM129.9 640.8H140.5V649.7H129.9zM129.9 649.1H140.5V658.1H129.9zM129.9 657.5H140.5V666.4H129.9zM129.9 665.8H140.5V674.8H129.9zM129.9 674.2H140.5V683.1H129.9zM129.9 682.5H140.5V691.5H129.9zM129.9 690.9H140.5V699.8H129.9zM129.9 699.2H140.5V708.2H129.9zM129.9 707.6H140.5V716.5H129.9zM129.9 715.9H140.5V724.9H129.9zM129.9 724.3H140.5V733.2H129.9zM129.9 732.6H140.5V741.6H129.9zM129.9 741.0H140.5V750.0H129.9zM129.9 749.4H140.5V758.3H129.9zM129.9 757.7H140.5V766.7H129.9zM129.9 766.1H140.5V775.0H129.9zM129.9 774.4H140.5V783.4H129.9zM129.9 782.8H140.5V791.7H129.9zM129.9 791.1H140.5V800.1H129.9zM129.9 799.5H140.5V808.4H129.9zM129.9 807.8H140.5V816.8H129.9zM129.9 816.2H140.5V825.1H129.9zM129.9 824.5H140.5V833.5H129.9zM129.9 832.9H140.5V841.8H129.9zM129.9 841.2H140.5V850.2H129.9zM129.9 849.6H140.5V858.5H129.9zM129.9 857.9H140.5V866.9H129.9zM129.9 866.3H140.5V875.2H129.9zM129.9 874.6H140.5V883.6H129.9zM129.9 883.0H140.5V891.9H129.9zM129.9 891.3H140.5V900.3H129.9zM129.9 899.7H140.5V908.6H129.9zM129.9 908.0H140.5V917.0H129.9zM129.9 916.4H140.5V925.3H129.9zM129.9 924.7H140.5V933.7H129.9zM129.9 933.1H140.5V942.0H129.9zM129.9 941.4H140.5V950.4H129.9z"/>
<path fill="#298a92" d="M139.9 941.4H150.5V950.4H139.9z"/>
<path fill="#308d96" d="M139.9 933.1H150.5V942.0H139.9z"/>
<path fill="#379199" d="M139.9 924.7H150.5V933.7H139.9z"/>
<path fill="#3f959d" d="M139.9 916.4H150.5V925.3H139.9z"/>
<path fill="#4699a1" d="M139.9 908.0H150.5V917.0H139.9z"/>
<path fill="#4d9ea5" d="M139.9 899.7H150.5V908.6H139.9z"/>
<path fill="#55a2a9" d="M139.9 891.3H150.5V900.3H139.9z"/>
<path fill="#5da6ac" d="M139.9 883.0H150.5V891.9H139.9z"/>
<path fill="#64aab0" d="M139.9 874.6H150.5V883.6H139.9z"/>
<path fill="#6caeb4" d="M139.9 866.3H150.5V875.2H139.9z"/>
<path fill="#74b3b8" d="M139.9 849.6H150.5V858.5H139.9zM139.9 857.9H150.5V866.9H139.9z"/>
<path fill="#7cb7bc" d="M139.9 841.2H150.5V850.2H139.9z"/>
<path fill="#84bbc0" d="M139.9 824.5H150.5V833.5H139.9zM139.9 832.9H150.5V841.8H139.9z"/>
<path fill="#8cc0c4" d="M139.9 799.5H150.5V808.4H139.9zM139.9 807.8H150.5V816.8H139.9zM139.9 816.2H150.5V825.1H139.9z"/>
<path fill="#94c4c8" d="M139.9 766.1H150.5V775.0H139.9zM139.9 774.4H150.5V783.4H139.9zM139.9 782.8H150.5V791.7H139.9zM139.9 791.1H150.5V800.1H139.9z"/>
<path fill="#9cc9cd" d="M139.9 741.0H150.5V750.0H139.9zM139.9 749.4H150.5V758.3H139.9zM139.9 757.7H150.5V766.7H139.9z"/>
<path fill="#a4cdd1" d="M139.9 724.3H150.5V733.2H139.9zM139.9 732.6H150.5V741.6H139.9z"/>
<path fill="#acd1d5" d="M139.9 707.6H150.5V716.5H139.9zM139.9 715.9H150.5V724.9H139.9z"/>
<path fill="#b4d6d9" d="M139.9 690.9H150.5V699.8H139.9zM139.9 699.2H150.5V708.2H139.9z"/>
<path fill="#bcdadd" d="M139.9 665.8H150.5V674.8H139.9zM139.9 674.2H150.5V683.1H139.9zM139.9 682.5H150.5V691.5H139.9z"/>
<path fill="#c5dfe1" d="M139.9 632.4H150.5V641.4H139.9zM139.9 640.8H150.5V649.7H139.9zM139.9 649.1H150.5V658.1H139.9zM139.9 657.5H150.5V666.4H139.9z"/>
<path fill="#cde3e5" d="M139.9 565.6H150.5V574.6H139.9zM139.9 574.0H150.5V582.9H139.9zM139.9 582.3H150.5V591.3H139.9zM139.9 590.7H150.5V599.6H139.9zM139.9 599.0H150.5V608.0H139.9zM139.9 607.4H150.5V616.3H139.9zM139.9 615.7H150.5V624.7H139.9zM139.9 624.1H150.5V633.0H139.9z"/>
<path fill="#d5e8ea" d="M139.9 532.2H150.5V541.2H139.9zM139.9 540.6H150.5V549.5H139.9zM139.9 548.9H150.5V557.9H139.9zM139.9 557.3H150.5V566.2H139.9z"/>
<rect x="131.8" y="532.0" width="8.5" height="290.0" fill="#8a8a8a" fill-opacity="0.15"/>
<rect x="136.2" y="532.0" width="4.1" height="290.0" fill="#808080" fill-opacity="0.55"/>
<rect x="131.8" y="899.0" width="8.5" height="52.0" fill="#a09080" fill-opacity="0.6"/>
</g>
<g clip-path="url(#cpe)">
<path d="M149.8 534.4L148.0 580.0L146.0 630.0L144.7 657.8" fill="none" stroke="#666666" stroke-opacity="0.5" stroke-width="6.0" stroke-linejoin="round" stroke-linecap="butt"/>
<text transform="rotate(-90.00,140.50,706.00) translate(110.27,720.00) scale(1.0795,1)" font-family='"Liberation Sans", sans-serif' font-size="40.00" fill="#666666" opacity="0.5">0.4</text>
<path d="M262.0 534.4L268.1 542.6" fill="none" stroke="#666666" stroke-opacity="0.5" stroke-width="6.0" stroke-linejoin="round" stroke-linecap="butt"/>
<path d="M268.1 542.6L285.0 565.0L300.0 590.0L310.0 615.0L313.4 631.1" fill="none" stroke="#666666" stroke-opacity="0.5" stroke-width="6.0" stroke-linejoin="round" stroke-linecap="butt"/>
<path d="M313.4 631.1L320.6 651.7L318.5 680.5L315.4 688.7L318.5 709.3L320.6 740.0L323.7 756.5L325.7 770.9L336.0 781.1L339.1 799.7L336.0 816.1L329.9 832.6" fill="none" stroke="#666666" stroke-opacity="0.5" stroke-width="6.0" stroke-linejoin="round" stroke-linecap="butt"/>
<text transform="rotate(-58.00,313.50,871.50) translate(283.27,885.50) scale(1.0795,1)" font-family='"Liberation Sans", sans-serif' font-size="40.00" fill="#666666" opacity="0.5">0.4</text>
<path d="M301.0 912.8L284.6 931.3L264.0 941.6L247.6 946.8" fill="none" stroke="#666666" stroke-opacity="0.5" stroke-width="6.0" stroke-linejoin="round" stroke-linecap="butt"/>
<path d="M214.6 946.7L231.1 929.3L241.4 904.6L244.5 873.7L241.4 842.9L237.3 826.4" fill="none" stroke="#4c4c4c" stroke-opacity="0.5" stroke-width="6.0" stroke-linejoin="round" stroke-linecap="butt"/>
<text transform="rotate(66.00,221.00,786.00) translate(190.76,800.00) scale(1.0878,1)" font-family='"Liberation Sans", sans-serif' font-size="40.00" fill="#4c4c4c" opacity="0.5">0.3</text>
<path d="M202.3 746.2L196.1 717.5L190.0 707.2L171.4 691.8L161.1 705.2L155.0 725.7L150.9 740.0L148.8 770.9L145.7 801.7L144.7 832.6L142.6 863.4" fill="none" stroke="#4c4c4c" stroke-opacity="0.5" stroke-width="6.0" stroke-linejoin="round" stroke-linecap="butt"/>
<path d="M185.8 889.2L196.1 908.7L202.3 927.2L201.3 946.7" fill="none" stroke="#333333" stroke-opacity="0.5" stroke-width="6.0" stroke-linejoin="round" stroke-linecap="butt"/>
<text transform="rotate(-58.00,151.00,893.00) translate(120.75,907.00) scale(1.0962,1)" font-family='"Liberation Sans", sans-serif' font-size="40.00" fill="#333333" opacity="0.5">0.2</text>
<path d="M148.0 950.0L148.5 938.0L154.0 930.0L162.0 927.5L170.0 930.0L175.0 938.0L175.5 950.0" fill="none" stroke="#1a1a1a" stroke-opacity="0.5" stroke-width="6.5" stroke-linejoin="round" stroke-linecap="butt"/>
<path d="M290.8 946.8L325.7 935.5L348.4 927.2" fill="none" stroke="#808080" stroke-opacity="0.5" stroke-width="6.0" stroke-linejoin="round" stroke-linecap="butt"/>
<text transform="rotate(-54.00,380.00,900.00) translate(349.76,914.00) scale(1.0878,1)" font-family='"Liberation Sans", sans-serif' font-size="40.00" fill="#808080" opacity="0.5">0.5</text>
<path d="M420.0 871.6L439.0 860.8" fill="none" stroke="#808080" stroke-opacity="0.5" stroke-width="6.0" stroke-linejoin="round" stroke-linecap="butt"/>
<path d="M402.7 934.0L420.0 929.5L439.0 925.0" fill="none" stroke="#999999" stroke-opacity="0.5" stroke-width="6.0" stroke-linejoin="round" stroke-linecap="butt"/>
<text transform="rotate(-25.00,378.00,941.00) translate(347.76,955.00) scale(1.0878,1)" font-family='"Liberation Sans", sans-serif' font-size="40.00" fill="#999999" opacity="0.5">0.6</text>
<path d="M155.9 944.9L166.3 955.3M155.9 955.3L166.3 944.9" stroke="#ee1020" stroke-width="4.2" fill="none"/>
<rect x="172.2" y="542.7" width="224.8" height="86.4" rx="9.5" ry="9.5" fill="#fff" fill-opacity="0.75" stroke="#000" stroke-opacity="0.75" stroke-width="3.6"/>
<text transform="translate(184.29,576.40) scale(0.9766,1)" font-family='"Liberation Sans", sans-serif' font-size="34.78" fill="#000">min NRMSE:</text>
<text transform="translate(179.86,615.70) scale(1.0167,1)" font-family='"Liberation Serif", serif' font-size="35.49" fill="#000">0.064</text>
<text transform="translate(269.97,615.70) scale(1.4301,1)" font-family='"Liberation Serif", serif' font-size="35.49" fill="#000">±</text>
<text transform="translate(304.73,615.70) scale(1.0356,1)" font-family='"Liberation Serif", serif' font-size="35.49" fill="#000">0.002</text>
<g><text transform="translate(378.79,929.12) scale(0.8315,1)" font-family='"Liberation Sans", sans-serif' font-size="50.37" fill="#000">(</text><text transform="translate(395.75,928.10) scale(0.7746,1)" font-family='"Liberation Sans", sans-serif' font-size="40.38" fill="#000">e</text><text transform="translate(417.38,929.12) scale(0.8615,1)" font-family='"Liberation Sans", sans-serif' font-size="50.37" fill="#000">)</text></g>
</g>
<rect x="130.2" y="532.5" width="309.3" height="417.6" fill="none" stroke="#000" stroke-width="3.1"/>
<path d="M130.2 873.4h-13.3M130.2 788.2h-13.3M130.2 702.9h-13.3M130.2 617.7h-13.3M130.2 532.5h-13.3M130.2 950.1v13.3M336.4 950.1v13.3" stroke="#000" stroke-width="3.1" fill="none"/>
<g clip-path="url(#cpf)" shape-rendering="crispEdges">
<g filter="url(#bl)">
<path fill="#097882" d="M465.5 624.1H506.1V633.0H465.5zM465.5 632.4H506.1V641.4H465.5zM465.5 640.8H506.1V649.7H465.5zM465.5 649.1H516.0V658.1H465.5zM465.5 657.5H516.0V666.4H465.5zM465.5 665.8H516.0V674.8H465.5zM465.5 674.2H526.0V683.1H465.5zM465.5 682.5H526.0V691.5H465.5zM465.5 690.9H526.0V699.8H465.5zM465.5 699.2H526.0V708.2H465.5zM465.5 707.6H536.0V716.5H465.5zM465.5 715.9H536.0V724.9H465.5zM465.5 724.3H536.0V733.2H465.5zM465.5 732.6H536.0V741.6H465.5zM465.5 741.0H536.0V750.0H465.5zM465.5 749.4H546.0V758.3H465.5zM465.5 757.7H546.0V766.7H465.5zM465.5 766.1H546.0V775.0H465.5zM465.5 774.4H546.0V783.4H465.5zM465.5 782.8H546.0V791.7H465.5zM465.5 791.1H546.0V800.1H465.5zM465.5 799.5H546.0V808.4H465.5zM465.5 807.8H546.0V816.8H465.5zM465.5 816.2H546.0V825.1H465.5zM465.5 824.5H546.0V833.5H465.5zM465.5 832.9H546.0V841.8H465.5zM465.5 841.2H555.9V850.2H465.5zM465.5 849.6H546.0V858.5H465.5zM465.5 857.9H546.0V866.9H465.5zM465.5 866.3H546.0V875.2H465.5zM465.5 874.6H546.0V883.6H465.5zM465.5 883.0H536.0V891.9H465.5zM465.5 891.3H536.0V900.3H465.5zM465.5 899.7H536.0V908.6H465.5zM465.5 908.0H546.0V917.0H465.5zM465.5 916.4H546.0V925.3H465.5zM465.5 924.7H546.0V933.7H465.5zM465.5 933.1H536.0V942.0H465.5zM465.5 941.4H526.0V950.4H465.5zM465.5 949.8H526.0V958.8H465.5zM465.5 958.2H526.0V967.1H465.5z"/>
<path fill="#0e7b85" d="M465.5 540.6H506.1V549.5H465.5zM465.5 548.9H506.1V557.9H465.5zM465.5 557.3H516.0V566.2H465.5zM465.5 565.6H516.0V574.6H465.5zM465.5 574.0H526.0V582.9H465.5zM465.5 582.3H526.0V591.3H465.5zM465.5 590.7H526.0V599.6H465.5zM465.5 599.0H536.0V608.0H465.5zM465.5 607.4H536.0V616.3H465.5zM465.5 615.7H536.0V624.7H465.5zM505.5 624.1H546.0V633.0H505.5zM505.5 632.4H546.0V641.4H505.5zM505.5 640.8H546.0V649.7H505.5zM515.4 649.1H555.9V658.1H515.4zM515.4 657.5H555.9V666.4H515.4zM515.4 665.8H555.9V674.8H515.4zM525.4 674.2H555.9V683.1H525.4zM525.4 682.5H555.9V691.5H525.4zM525.4 690.9H555.9V699.8H525.4zM525.4 699.2H555.9V708.2H525.4zM535.4 707.6H555.9V716.5H535.4zM535.4 715.9H555.9V724.9H535.4zM535.4 724.3H555.9V733.2H535.4zM535.4 732.6H555.9V741.6H535.4zM535.4 741.0H555.9V750.0H535.4zM545.4 749.4H565.9V758.3H545.4zM545.4 757.7H565.9V766.7H545.4zM545.4 766.1H565.9V775.0H545.4zM545.4 774.4H565.9V783.4H545.4zM545.4 782.8H565.9V791.7H545.4zM545.4 791.1H565.9V800.1H545.4zM545.4 799.5H565.9V808.4H545.4zM545.4 807.8H565.9V816.8H545.4zM545.4 816.2H565.9V825.1H545.4zM545.4 824.5H565.9V833.5H545.4zM545.4 832.9H565.9V841.8H545.4zM555.3 841.2H565.9V850.2H555.3zM545.4 849.6H565.9V858.5H545.4zM545.4 857.9H565.9V866.9H545.4zM545.4 866.3H565.9V875.2H545.4zM545.4 874.6H555.9V883.6H545.4zM535.4 883.0H555.9V891.9H535.4zM535.4 891.3H555.9V900.3H535.4zM535.4 899.7H555.9V908.6H535.4zM545.4 908.0H555.9V917.0H545.4zM545.4 916.4H555.9V925.3H545.4zM545.4 924.7H555.9V933.7H545.4zM535.4 933.1H546.0V942.0H535.4zM525.4 941.4H546.0V950.4H525.4zM525.4 949.8H546.0V958.8H525.4zM525.4 958.2H546.0V967.1H525.4z"/>
<path fill="#157e88" d="M465.5 515.5H536.0V524.4H465.5zM465.5 523.8H536.0V532.8H465.5zM465.5 532.2H536.0V541.2H465.5zM505.5 540.6H536.0V549.5H505.5zM505.5 548.9H546.0V557.9H505.5zM515.4 557.3H546.0V566.2H515.4zM515.4 565.6H546.0V574.6H515.4zM525.4 574.0H555.9V582.9H525.4zM525.4 582.3H555.9V591.3H525.4zM525.4 590.7H555.9V599.6H525.4zM535.4 599.0H555.9V608.0H535.4zM535.4 607.4H565.9V616.3H535.4zM535.4 615.7H565.9V624.7H535.4zM545.4 624.1H565.9V633.0H545.4zM545.4 632.4H575.9V641.4H545.4zM545.4 640.8H575.9V649.7H545.4zM555.3 649.1H575.9V658.1H555.3zM555.3 657.5H575.9V666.4H555.3zM555.3 665.8H575.9V674.8H555.3zM555.3 674.2H575.9V683.1H555.3zM555.3 682.5H575.9V691.5H555.3zM555.3 690.9H575.9V699.8H555.3zM555.3 699.2H575.9V708.2H555.3zM555.3 707.6H575.9V716.5H555.3zM555.3 715.9H575.9V724.9H555.3zM555.3 724.3H575.9V733.2H555.3zM555.3 732.6H575.9V741.6H555.3zM555.3 741.0H575.9V750.0H555.3zM565.3 749.4H575.9V758.3H565.3zM565.3 757.7H575.9V766.7H565.3zM565.3 766.1H575.9V775.0H565.3zM565.3 774.4H575.9V783.4H565.3zM565.3 782.8H575.9V791.7H565.3zM565.3 791.1H575.9V800.1H565.3zM565.3 799.5H575.9V808.4H565.3zM565.3 807.8H575.9V816.8H565.3zM565.3 816.2H575.9V825.1H565.3zM565.3 824.5H585.9V833.5H565.3zM565.3 832.9H575.9V841.8H565.3zM565.3 841.2H575.9V850.2H565.3zM565.3 849.6H575.9V858.5H565.3zM565.3 857.9H575.9V866.9H565.3zM565.3 866.3H575.9V875.2H565.3zM555.3 874.6H575.9V883.6H555.3zM555.3 883.0H575.9V891.9H555.3zM555.3 891.3H565.9V900.3H555.3zM555.3 899.7H565.9V908.6H555.3zM555.3 908.0H565.9V917.0H555.3zM555.3 916.4H565.9V925.3H555.3zM545.4 933.1H555.9V942.0H545.4zM545.4 941.4H555.9V950.4H545.4zM545.4 949.8H555.9V958.8H545.4zM545.4 958.2H555.9V967.1H545.4z"/>
<path fill="#1b828b" d="M535.4 515.5H565.9V524.4H535.4zM535.4 523.8H565.9V532.8H535.4zM535.4 532.2H565.9V541.2H535.4zM535.4 540.6H565.9V549.5H535.4zM545.4 548.9H565.9V557.9H545.4zM545.4 557.3H575.9V566.2H545.4zM545.4 565.6H575.9V574.6H545.4zM555.3 574.0H575.9V582.9H555.3zM555.3 582.3H575.9V591.3H555.3zM555.3 590.7H575.9V599.6H555.3zM555.3 599.0H585.9V608.0H555.3zM565.3 607.4H585.9V616.3H565.3zM565.3 615.7H585.9V624.7H565.3zM565.3 624.1H585.9V633.0H565.3zM575.3 632.4H585.9V641.4H575.3zM575.3 640.8H585.9V649.7H575.3zM575.3 649.1H595.9V658.1H575.3zM575.3 657.5H595.9V666.4H575.3zM575.3 665.8H595.9V674.8H575.3zM575.3 674.2H595.9V683.1H575.3zM575.3 682.5H595.9V691.5H575.3zM575.3 690.9H595.9V699.8H575.3zM575.3 699.2H595.9V708.2H575.3zM575.3 707.6H595.9V716.5H575.3zM575.3 715.9H595.9V724.9H575.3zM575.3 724.3H595.9V733.2H575.3zM575.3 732.6H595.9V741.6H575.3zM575.3 741.0H595.9V750.0H575.3zM575.3 749.4H595.9V758.3H575.3zM575.3 757.7H595.9V766.7H575.3zM575.3 766.1H595.9V775.0H575.3zM575.3 774.4H595.9V783.4H575.3zM575.3 782.8H595.9V791.7H575.3zM575.3 791.1H595.9V800.1H575.3zM575.3 799.5H595.9V808.4H575.3zM575.3 807.8H595.9V816.8H575.3zM575.3 816.2H595.9V825.1H575.3zM585.3 824.5H595.9V833.5H585.3zM575.3 832.9H595.9V841.8H575.3zM575.3 841.2H595.9V850.2H575.3zM575.3 849.6H595.9V858.5H575.3zM575.3 857.9H585.9V866.9H575.3zM575.3 866.3H585.9V875.2H575.3zM575.3 874.6H585.9V883.6H575.3zM575.3 883.0H585.9V891.9H575.3zM565.3 891.3H585.9V900.3H565.3zM565.3 899.7H575.9V908.6H565.3zM565.3 908.0H575.9V917.0H565.3zM565.3 916.4H575.9V925.3H565.3zM555.3 924.7H575.9V933.7H555.3zM555.3 933.1H565.9V942.0H555.3zM555.3 941.4H565.9V950.4H555.3zM555.3 949.8H565.9V958.8H555.3zM555.3 958.2H565.9V967.1H555.3z"/>
<path fill="#22868f" d="M565.3 515.5H585.9V524.4H565.3zM565.3 523.8H585.9V532.8H565.3zM565.3 532.2H585.9V541.2H565.3zM565.3 540.6H585.9V549.5H565.3zM565.3 548.9H595.9V557.9H565.3zM575.3 557.3H595.9V566.2H575.3zM575.3 565.6H595.9V574.6H575.3zM575.3 574.0H595.9V582.9H575.3zM575.3 582.3H595.9V591.3H575.3zM575.3 590.7H595.9V599.6H575.3zM585.3 599.0H595.9V608.0H585.3zM585.3 607.4H605.8V616.3H585.3zM585.3 615.7H605.8V624.7H585.3zM585.3 624.1H605.8V633.0H585.3zM585.3 632.4H605.8V641.4H585.3zM585.3 640.8H605.8V649.7H585.3zM595.3 649.1H605.8V658.1H595.3zM595.3 657.5H605.8V666.4H595.3zM595.3 665.8H605.8V674.8H595.3zM595.3 674.2H605.8V683.1H595.3zM595.3 682.5H605.8V691.5H595.3zM595.3 690.9H605.8V699.8H595.3zM595.3 699.2H615.8V708.2H595.3zM595.3 707.6H615.8V716.5H595.3zM595.3 715.9H615.8V724.9H595.3zM595.3 724.3H615.8V733.2H595.3zM595.3 732.6H615.8V741.6H595.3zM595.3 741.0H615.8V750.0H595.3zM595.3 749.4H615.8V758.3H595.3zM595.3 757.7H615.8V766.7H595.3zM595.3 766.1H615.8V775.0H595.3zM595.3 774.4H605.8V783.4H595.3zM595.3 782.8H605.8V791.7H595.3zM595.3 791.1H605.8V800.1H595.3zM595.3 799.5H605.8V808.4H595.3zM595.3 807.8H605.8V816.8H595.3zM595.3 816.2H605.8V825.1H595.3zM595.3 824.5H605.8V833.5H595.3zM595.3 832.9H605.8V841.8H595.3zM595.3 841.2H605.8V850.2H595.3zM595.3 849.6H605.8V858.5H595.3zM585.3 857.9H605.8V866.9H585.3zM585.3 866.3H605.8V875.2H585.3zM585.3 874.6H595.9V883.6H585.3zM585.3 883.0H595.9V891.9H585.3zM585.3 891.3H595.9V900.3H585.3zM575.3 899.7H595.9V908.6H575.3zM575.3 908.0H585.9V917.0H575.3zM575.3 916.4H585.9V925.3H575.3zM575.3 924.7H585.9V933.7H575.3zM565.3 933.1H585.9V942.0H565.3zM565.3 941.4H585.9V950.4H565.3zM565.3 949.8H585.9V958.8H565.3zM565.3 958.2H585.9V967.1H565.3z"/>
<path fill="#298a92" d="M585.3 515.5H615.8V524.4H585.3zM585.3 523.8H615.8V532.8H585.3zM585.3 532.2H615.8V541.2H585.3zM585.3 540.6H615.8V549.5H585.3zM595.3 548.9H615.8V557.9H595.3zM595.3 557.3H615.8V566.2H595.3zM595.3 565.6H615.8V574.6H595.3zM595.3 574.0H615.8V582.9H595.3zM595.3 582.3H615.8V591.3H595.3zM595.3 590.7H615.8V599.6H595.3zM595.3 599.0H615.8V608.0H595.3zM605.2 607.4H615.8V616.3H605.2zM605.2 615.7H625.8V624.7H605.2zM605.2 624.1H625.8V633.0H605.2zM605.2 632.4H625.8V641.4H605.2zM605.2 640.8H625.8V649.7H605.2zM605.2 649.1H625.8V658.1H605.2zM605.2 657.5H625.8V666.4H605.2zM605.2 665.8H625.8V674.8H605.2zM605.2 674.2H625.8V683.1H605.2zM605.2 682.5H625.8V691.5H605.2zM605.2 690.9H625.8V699.8H605.2zM615.2 699.2H635.8V708.2H615.2zM615.2 707.6H635.8V716.5H615.2zM615.2 715.9H635.8V724.9H615.2zM615.2 724.3H635.8V733.2H615.2zM615.2 732.6H635.8V741.6H615.2zM615.2 741.0H635.8V750.0H615.2zM615.2 749.4H635.8V758.3H615.2zM615.2 757.7H635.8V766.7H615.2zM615.2 766.1H625.8V775.0H615.2zM605.2 774.4H625.8V783.4H605.2zM605.2 782.8H625.8V791.7H605.2zM605.2 791.1H625.8V800.1H605.2zM605.2 799.5H625.8V808.4H605.2zM605.2 807.8H625.8V816.8H605.2zM605.2 816.2H625.8V825.1H605.2zM605.2 824.5H625.8V833.5H605.2zM605.2 832.9H625.8V841.8H605.2zM605.2 841.2H625.8V850.2H605.2zM605.2 849.6H615.8V858.5H605.2zM605.2 857.9H615.8V866.9H605.2zM605.2 866.3H615.8V875.2H605.2zM595.3 874.6H615.8V883.6H595.3zM595.3 883.0H615.8V891.9H595.3zM595.3 891.3H605.8V900.3H595.3zM595.3 899.7H605.8V908.6H595.3zM585.3 908.0H605.8V917.0H585.3zM585.3 916.4H595.9V925.3H585.3zM585.3 924.7H595.9V933.7H585.3zM585.3 933.1H595.9V942.0H585.3zM585.3 941.4H605.8V950.4H585.3zM585.3 949.8H605.8V958.8H585.3zM585.3 958.2H605.8V967.1H585.3z"/>
<path fill="#308d96" d="M615.2 515.5H685.6V524.4H615.2zM615.2 523.8H685.6V532.8H615.2zM615.2 532.2H685.6V541.2H615.2zM615.2 540.6H675.7V549.5H615.2zM615.2 548.9H675.7V557.9H615.2zM615.2 557.3H675.7V566.2H615.2zM615.2 565.6H665.7V574.6H615.2zM615.2 574.0H665.7V582.9H615.2zM615.2 582.3H665.7V591.3H615.2zM615.2 590.7H665.7V599.6H615.2zM615.2 599.0H665.7V608.0H615.2zM615.2 607.4H665.7V616.3H615.2zM625.2 615.7H665.7V624.7H625.2zM625.2 624.1H665.7V633.0H625.2zM625.2 632.4H665.7V641.4H625.2zM625.2 640.8H665.7V649.7H625.2zM625.2 649.1H665.7V658.1H625.2zM625.2 657.5H665.7V666.4H625.2zM625.2 665.8H665.7V674.8H625.2zM625.2 674.2H675.7V683.1H625.2zM625.2 682.5H675.7V691.5H625.2zM625.2 690.9H675.7V699.8H625.2zM635.2 699.2H675.7V708.2H635.2zM635.2 707.6H675.7V716.5H635.2zM635.2 715.9H685.6V724.9H635.2zM635.2 724.3H685.6V733.2H635.2zM635.2 732.6H685.6V741.6H635.2zM635.2 741.0H685.6V750.0H635.2zM635.2 749.4H685.6V758.3H635.2zM635.2 757.7H675.7V766.7H635.2zM625.2 766.1H675.7V775.0H625.2zM625.2 774.4H675.7V783.4H625.2zM625.2 782.8H665.7V791.7H625.2zM625.2 791.1H665.7V800.1H625.2zM625.2 799.5H665.7V808.4H625.2zM625.2 807.8H655.7V816.8H625.2zM625.2 816.2H655.7V825.1H625.2zM625.2 824.5H655.7V833.5H625.2zM625.2 832.9H655.7V841.8H625.2zM625.2 841.2H655.7V850.2H625.2zM615.2 849.6H645.7V858.5H615.2zM615.2 857.9H645.7V866.9H615.2zM615.2 866.3H645.7V875.2H615.2zM615.2 874.6H645.7V883.6H615.2zM615.2 883.0H645.7V891.9H615.2zM605.2 891.3H645.7V900.3H605.2zM605.2 899.7H645.7V908.6H605.2zM605.2 908.0H635.8V917.0H605.2zM595.3 916.4H635.8V925.3H595.3zM595.3 924.7H635.8V933.7H595.3zM595.3 933.1H645.7V942.0H595.3zM605.2 941.4H645.7V950.4H605.2zM605.2 949.8H645.7V958.8H605.2zM605.2 958.2H645.7V967.1H605.2z"/>
<path fill="#379199" d="M685.0 515.5H815.4V524.4H685.0zM685.0 523.8H815.4V532.8H685.0zM685.0 532.2H815.4V541.2H685.0zM675.1 540.6H815.4V549.5H675.1zM675.1 548.9H815.4V557.9H675.1zM675.1 557.3H815.4V566.2H675.1zM665.1 565.6H815.4V574.6H665.1zM665.1 574.0H815.4V582.9H665.1zM665.1 582.3H815.4V591.3H665.1zM665.1 590.7H815.4V599.6H665.1zM665.1 599.0H815.4V608.0H665.1zM665.1 607.4H815.4V616.3H665.1zM665.1 615.7H815.4V624.7H665.1zM665.1 624.1H815.4V633.0H665.1zM665.1 632.4H815.4V641.4H665.1zM665.1 640.8H815.4V649.7H665.1zM665.1 649.1H815.4V658.1H665.1zM665.1 657.5H815.4V666.4H665.1zM665.1 665.8H815.4V674.8H665.1zM675.1 674.2H815.4V683.1H675.1zM675.1 682.5H815.4V691.5H675.1zM675.1 690.9H785.4V699.8H675.1zM675.1 699.2H785.4V708.2H675.1zM675.1 707.6H785.4V716.5H675.1zM685.0 715.9H785.4V724.9H685.0zM685.0 724.3H775.4V733.2H685.0zM685.0 732.6H775.4V741.6H685.0zM685.0 741.0H775.4V750.0H685.0zM685.0 749.4H775.4V758.3H685.0zM675.1 757.7H765.5V766.7H675.1zM675.1 766.1H765.5V775.0H675.1zM675.1 774.4H765.5V783.4H675.1zM665.1 782.8H765.5V791.7H665.1zM665.1 791.1H755.5V800.1H665.1zM665.1 799.5H755.5V808.4H665.1zM655.1 807.8H755.5V816.8H655.1zM655.1 816.2H745.5V825.1H655.1zM655.1 824.5H745.5V833.5H655.1zM655.1 832.9H735.5V841.8H655.1zM655.1 841.2H735.5V850.2H655.1zM645.1 849.6H735.5V858.5H645.1zM645.1 857.9H735.5V866.9H645.1zM645.1 866.3H725.6V875.2H645.1zM645.1 874.6H725.6V883.6H645.1zM645.1 883.0H725.6V891.9H645.1zM645.1 891.3H725.6V900.3H645.1zM645.1 899.7H725.6V908.6H645.1zM635.2 908.0H725.6V917.0H635.2zM635.2 916.4H725.6V925.3H635.2zM635.2 924.7H725.6V933.7H635.2zM645.1 933.1H725.6V942.0H645.1zM645.1 941.4H735.5V950.4H645.1zM645.1 949.8H735.5V958.8H645.1zM645.1 958.2H735.5V967.1H645.1z"/>
<path fill="#3f959d" d="M784.8 690.9H815.4V699.8H784.8zM784.8 699.2H815.4V708.2H784.8zM784.8 707.6H815.4V716.5H784.8zM784.8 715.9H815.4V724.9H784.8zM774.8 724.3H815.4V733.2H774.8zM774.8 732.6H815.4V741.6H774.8zM774.8 741.0H815.4V750.0H774.8zM774.8 749.4H815.4V758.3H774.8zM764.9 757.7H815.4V766.7H764.9zM764.9 766.1H815.4V775.0H764.9zM764.9 774.4H815.4V783.4H764.9zM764.9 782.8H815.4V791.7H764.9zM754.9 791.1H815.4V800.1H754.9zM754.9 799.5H815.4V808.4H754.9zM754.9 807.8H815.4V816.8H754.9zM744.9 816.2H815.4V825.1H744.9zM744.9 824.5H815.4V833.5H744.9zM734.9 832.9H815.4V841.8H734.9zM734.9 841.2H815.4V850.2H734.9zM734.9 849.6H815.4V858.5H734.9zM734.9 857.9H815.4V866.9H734.9zM725.0 866.3H815.4V875.2H725.0zM725.0 874.6H815.4V883.6H725.0zM725.0 883.0H815.4V891.9H725.0zM725.0 891.3H815.4V900.3H725.0zM725.0 899.7H815.4V908.6H725.0zM725.0 908.0H815.4V917.0H725.0zM725.0 916.4H815.4V925.3H725.0zM725.0 924.7H815.4V933.7H725.0zM725.0 933.1H815.4V942.0H725.0zM734.9 941.4H815.4V950.4H734.9zM734.9 949.8H815.4V958.8H734.9zM734.9 958.2H815.4V967.1H734.9z"/>
</g>
<path fill="#4d9ea5" d="M485.5 532.2H496.1V541.2H485.5zM485.5 540.6H496.1V549.5H485.5zM485.5 548.9H496.1V557.9H485.5zM485.5 557.3H496.1V566.2H485.5zM485.5 565.6H496.1V574.6H485.5zM485.5 574.0H496.1V582.9H485.5zM485.5 582.3H496.1V591.3H485.5zM485.5 590.7H496.1V599.6H485.5zM485.5 599.0H496.1V608.0H485.5zM485.5 607.4H496.1V616.3H485.5zM485.5 615.7H496.1V624.7H485.5zM485.5 624.1H496.1V633.0H485.5zM485.5 632.4H496.1V641.4H485.5zM485.5 640.8H496.1V649.7H485.5zM485.5 649.1H496.1V658.1H485.5zM485.5 657.5H496.1V666.4H485.5zM485.5 665.8H496.1V674.8H485.5zM485.5 674.2H496.1V683.1H485.5zM485.5 682.5H496.1V691.5H485.5zM485.5 690.9H496.1V699.8H485.5zM485.5 699.2H496.1V708.2H485.5zM485.5 707.6H496.1V716.5H485.5zM485.5 715.9H496.1V724.9H485.5zM485.5 724.3H496.1V733.2H485.5zM485.5 732.6H496.1V741.6H485.5zM485.5 741.0H496.1V750.0H485.5zM485.5 749.4H496.1V758.3H485.5zM485.5 757.7H496.1V766.7H485.5zM485.5 766.1H496.1V775.0H485.5zM485.5 774.4H496.1V783.4H485.5zM485.5 782.8H496.1V791.7H485.5zM485.5 791.1H496.1V800.1H485.5zM485.5 799.5H496.1V808.4H485.5zM485.5 807.8H496.1V816.8H485.5zM485.5 908.0H496.1V917.0H485.5zM485.5 916.4H496.1V925.3H485.5zM485.5 924.7H496.1V933.7H485.5zM485.5 933.1H496.1V942.0H485.5zM485.5 941.4H496.1V950.4H485.5z"/>
<path fill="#6caeb4" d="M485.5 816.2H496.1V825.1H485.5z"/>
<path fill="#7cb7bc" d="M485.5 824.5H496.1V833.5H485.5zM485.5 832.9H496.1V841.8H485.5zM485.5 841.2H496.1V850.2H485.5zM485.5 849.6H496.1V858.5H485.5zM485.5 857.9H496.1V866.9H485.5zM485.5 866.3H496.1V875.2H485.5zM485.5 874.6H496.1V883.6H485.5zM485.5 883.0H496.1V891.9H485.5zM485.5 891.3H496.1V900.3H485.5zM485.5 899.7H496.1V908.6H485.5z"/>
</g>
<g clip-path="url(#cpf)">
<path d="M493.6 534.4L493.6 700.0L493.6 820.0" fill="none" stroke="#1a1a1a" stroke-opacity="0.5" stroke-width="4.6" stroke-linejoin="round" stroke-linecap="butt"/>
<text transform="rotate(-90.00,490.50,867.00) translate(460.25,881.00) scale(1.0920,1)" font-family='"Liberation Sans", sans-serif' font-size="40.00" fill="#1a1a1a" opacity="0.5">0.1</text>
<path d="M493.6 910.0L493.6 950.0" fill="none" stroke="#1a1a1a" stroke-opacity="0.5" stroke-width="4.6" stroke-linejoin="round" stroke-linecap="butt"/>
<path d="M615.9 534.4L622.1 581.7L624.1 631.1L626.2 664.0L629.3 692.8" fill="none" stroke="#1a1a1a" stroke-opacity="0.5" stroke-width="6.0" stroke-linejoin="round" stroke-linecap="butt"/>
<text transform="rotate(90.00,636.00,733.00) translate(605.75,747.00) scale(1.0920,1)" font-family='"Liberation Sans", sans-serif' font-size="40.00" fill="#1a1a1a" opacity="0.5">0.1</text>
<path d="M630.3 781.1L628.2 812.0L624.1 842.9L618.0 879.9L609.7 904.6L599.4 925.2L589.2 946.7" fill="none" stroke="#1a1a1a" stroke-opacity="0.5" stroke-width="6.0" stroke-linejoin="round" stroke-linecap="butt"/>
<path d="M501.2 936.4L511.6 946.8M501.2 946.8L511.6 936.4" stroke="#ee1020" stroke-width="4.2" fill="none"/>
<rect x="509.7" y="542.7" width="260.8" height="86.4" rx="9.5" ry="9.5" fill="#fff" fill-opacity="0.75" stroke="#000" stroke-opacity="0.75" stroke-width="3.6"/>
<text transform="translate(539.89,576.40) scale(0.9766,1)" font-family='"Liberation Sans", sans-serif' font-size="34.78" fill="#000">min NRMSE:</text>
<text transform="translate(517.96,615.70) scale(1.0167,1)" font-family='"Liberation Serif", serif' font-size="35.49" fill="#000">0.0177</text>
<text transform="translate(625.57,615.70) scale(1.4301,1)" font-family='"Liberation Serif", serif' font-size="35.49" fill="#000">±</text>
<text transform="translate(660.36,615.70) scale(1.0167,1)" font-family='"Liberation Serif", serif' font-size="35.49" fill="#000">0.0007</text>
<g><text transform="translate(736.45,929.12) scale(0.7791,1)" font-family='"Liberation Sans", sans-serif' font-size="50.37" fill="#000">(</text><text transform="translate(752.68,928.10) scale(1.2311,1)" font-family='"Liberation Sans", sans-serif' font-size="44.14" fill="#000">f</text><text transform="translate(771.60,929.12) scale(0.7866,1)" font-family='"Liberation Sans", sans-serif' font-size="50.37" fill="#000">)</text></g>
</g>
<rect x="485.8" y="532.5" width="309.3" height="417.6" fill="none" stroke="#000" stroke-width="3.1"/>
<path d="M485.8 873.4h-13.3M485.8 788.2h-13.3M485.8 702.9h-13.3M485.8 617.7h-13.3M485.8 532.5h-13.3M485.8 950.1v13.3M692.0 950.1v13.3" stroke="#000" stroke-width="3.1" fill="none"/>
<g clip-path="url(#cpg)" shape-rendering="crispEdges">
<g filter="url(#bl)">
<path fill="#097882" d="M821.1 515.5H921.5V524.4H821.1zM821.1 523.8H921.5V532.8H821.1zM821.1 532.2H921.5V541.2H821.1zM821.1 540.6H921.5V549.5H821.1zM821.1 548.9H921.5V557.9H821.1zM821.1 557.3H921.5V566.2H821.1zM821.1 565.6H921.5V574.6H821.1zM821.1 574.0H921.5V582.9H821.1zM821.1 582.3H921.5V591.3H821.1zM821.1 590.7H921.5V599.6H821.1zM821.1 599.0H921.5V608.0H821.1zM821.1 607.4H931.5V616.3H821.1zM821.1 615.7H931.5V624.7H821.1zM821.1 624.1H941.5V633.0H821.1zM821.1 632.4H941.5V641.4H821.1zM821.1 640.8H941.5V649.7H821.1zM821.1 649.1H941.5V658.1H821.1zM821.1 657.5H951.5V666.4H821.1zM821.1 665.8H951.5V674.8H821.1zM821.1 674.2H951.5V683.1H821.1zM821.1 682.5H951.5V691.5H821.1zM821.1 690.9H951.5V699.8H821.1zM821.1 699.2H951.5V708.2H821.1zM821.1 707.6H941.5V716.5H821.1zM821.1 715.9H941.5V724.9H821.1zM821.1 724.3H941.5V733.2H821.1zM821.1 732.6H941.5V741.6H821.1zM821.1 741.0H941.5V750.0H821.1zM821.1 749.4H931.5V758.3H821.1zM821.1 757.7H931.5V766.7H821.1zM821.1 766.1H931.5V775.0H821.1zM821.1 774.4H921.5V783.4H821.1zM821.1 782.8H911.5V791.7H821.1zM821.1 791.1H911.5V800.1H821.1zM821.1 799.5H901.6V808.4H821.1zM821.1 807.8H901.6V816.8H821.1zM821.1 816.2H891.6V825.1H821.1zM821.1 824.5H891.6V833.5H821.1zM821.1 832.9H881.6V841.8H821.1zM821.1 841.2H881.6V850.2H821.1zM821.1 849.6H881.6V858.5H821.1zM821.1 857.9H871.6V866.9H821.1zM821.1 866.3H871.6V875.2H821.1zM821.1 874.6H871.6V883.6H821.1zM821.1 883.0H871.6V891.9H821.1zM821.1 891.3H871.6V900.3H821.1z"/>
<path fill="#0e7b85" d="M920.9 515.5H1061.2V524.4H920.9zM920.9 523.8H1061.2V532.8H920.9zM920.9 532.2H1061.2V541.2H920.9zM920.9 540.6H1051.2V549.5H920.9zM920.9 548.9H1051.2V557.9H920.9zM920.9 557.3H1051.2V566.2H920.9zM920.9 565.6H1051.2V574.6H920.9zM920.9 574.0H1041.2V582.9H920.9zM920.9 582.3H1041.2V591.3H920.9zM920.9 590.7H1041.2V599.6H920.9zM920.9 599.0H1041.2V608.0H920.9zM930.9 607.4H1041.2V616.3H930.9zM930.9 615.7H1031.3V624.7H930.9zM940.9 624.1H1031.3V633.0H940.9zM940.9 632.4H1031.3V641.4H940.9zM940.9 640.8H1031.3V649.7H940.9zM940.9 649.1H1031.3V658.1H940.9zM950.9 657.5H1021.3V666.4H950.9zM950.9 665.8H1021.3V674.8H950.9zM950.9 674.2H1021.3V683.1H950.9zM950.9 682.5H1021.3V691.5H950.9zM950.9 690.9H1021.3V699.8H950.9zM950.9 699.2H1011.3V708.2H950.9zM940.9 707.6H1011.3V716.5H940.9zM940.9 715.9H1001.3V724.9H940.9zM940.9 724.3H1001.3V733.2H940.9zM940.9 732.6H991.4V741.6H940.9zM940.9 741.0H991.4V750.0H940.9zM930.9 749.4H981.4V758.3H930.9zM930.9 757.7H981.4V766.7H930.9zM930.9 766.1H971.4V775.0H930.9zM920.9 774.4H971.4V783.4H920.9zM910.9 782.8H971.4V791.7H910.9zM910.9 791.1H961.4V800.1H910.9zM901.0 799.5H961.4V808.4H901.0zM901.0 807.8H951.5V816.8H901.0zM891.0 816.2H941.5V825.1H891.0zM891.0 824.5H931.5V833.5H891.0zM881.0 832.9H921.5V841.8H881.0zM881.0 841.2H911.5V850.2H881.0zM881.0 849.6H911.5V858.5H881.0zM871.0 857.9H901.6V866.9H871.0zM871.0 866.3H901.6V875.2H871.0zM871.0 874.6H891.6V883.6H871.0zM871.0 883.0H891.6V891.9H871.0zM871.0 891.3H881.6V900.3H871.0zM821.1 899.7H881.6V908.6H821.1zM821.1 908.0H871.6V917.0H821.1zM821.1 916.4H861.7V925.3H821.1z"/>
<path fill="#157e88" d="M1060.6 515.5H1171.0V524.4H1060.6zM1060.6 523.8H1171.0V532.8H1060.6zM1060.6 532.2H1171.0V541.2H1060.6zM1050.6 540.6H1171.0V549.5H1050.6zM1050.6 548.9H1171.0V557.9H1050.6zM1050.6 557.3H1171.0V566.2H1050.6zM1050.6 565.6H1141.0V574.6H1050.6zM1040.6 574.0H1131.0V582.9H1040.6zM1040.6 582.3H1131.0V591.3H1040.6zM1040.6 590.7H1121.1V599.6H1040.6zM1040.6 599.0H1121.1V608.0H1040.6zM1040.6 607.4H1111.1V616.3H1040.6zM1030.7 615.7H1101.1V624.7H1030.7zM1030.7 624.1H1101.1V633.0H1030.7zM1030.7 632.4H1091.1V641.4H1030.7zM1030.7 640.8H1091.1V649.7H1030.7zM1030.7 649.1H1081.2V658.1H1030.7zM1020.7 657.5H1081.2V666.4H1020.7zM1020.7 665.8H1071.2V674.8H1020.7zM1020.7 674.2H1071.2V683.1H1020.7zM1020.7 682.5H1061.2V691.5H1020.7zM1020.7 690.9H1061.2V699.8H1020.7zM1010.7 699.2H1051.2V708.2H1010.7zM1010.7 707.6H1051.2V716.5H1010.7zM1000.7 715.9H1041.2V724.9H1000.7zM1000.7 724.3H1041.2V733.2H1000.7zM990.8 732.6H1031.3V741.6H990.8zM990.8 741.0H1031.3V750.0H990.8zM980.8 749.4H1021.3V758.3H980.8zM980.8 757.7H1011.3V766.7H980.8zM970.8 766.1H1011.3V775.0H970.8zM970.8 774.4H1001.3V783.4H970.8zM970.8 782.8H1001.3V791.7H970.8zM960.8 791.1H991.4V800.1H960.8zM960.8 799.5H981.4V808.4H960.8zM950.9 807.8H981.4V816.8H950.9zM940.9 816.2H971.4V825.1H940.9zM930.9 824.5H961.4V833.5H930.9zM920.9 832.9H951.5V841.8H920.9zM910.9 841.2H941.5V850.2H910.9zM910.9 849.6H931.5V858.5H910.9zM901.0 857.9H931.5V866.9H901.0zM901.0 866.3H921.5V875.2H901.0zM891.0 874.6H911.5V883.6H891.0zM891.0 883.0H911.5V891.9H891.0zM881.0 891.3H901.6V900.3H881.0zM881.0 899.7H891.6V908.6H881.0zM871.0 908.0H891.6V917.0H871.0zM861.1 916.4H881.6V925.3H861.1zM821.1 924.7H881.6V933.7H821.1zM821.1 933.1H871.6V942.0H821.1zM821.1 941.4H861.7V950.4H821.1zM821.1 949.8H861.7V958.8H821.1zM821.1 958.2H861.7V967.1H821.1z"/>
<path fill="#1b828b" d="M1140.4 565.6H1171.0V574.6H1140.4zM1130.4 574.0H1171.0V582.9H1130.4zM1130.4 582.3H1171.0V591.3H1130.4zM1120.5 590.7H1171.0V599.6H1120.5zM1120.5 599.0H1171.0V608.0H1120.5zM1110.5 607.4H1171.0V616.3H1110.5zM1100.5 615.7H1171.0V624.7H1100.5zM1100.5 624.1H1171.0V633.0H1100.5zM1090.5 632.4H1171.0V641.4H1090.5zM1090.5 640.8H1171.0V649.7H1090.5zM1080.6 649.1H1171.0V658.1H1080.6zM1080.6 657.5H1141.0V666.4H1080.6zM1070.6 665.8H1131.0V674.8H1070.6zM1070.6 674.2H1121.1V683.1H1070.6zM1060.6 682.5H1121.1V691.5H1060.6zM1060.6 690.9H1111.1V699.8H1060.6zM1050.6 699.2H1101.1V708.2H1050.6zM1050.6 707.6H1091.1V716.5H1050.6zM1040.6 715.9H1091.1V724.9H1040.6zM1040.6 724.3H1081.2V733.2H1040.6zM1030.7 732.6H1071.2V741.6H1030.7zM1030.7 741.0H1061.2V750.0H1030.7zM1020.7 749.4H1061.2V758.3H1020.7zM1010.7 757.7H1051.2V766.7H1010.7zM1010.7 766.1H1041.2V775.0H1010.7zM1000.7 774.4H1041.2V783.4H1000.7zM1000.7 782.8H1031.3V791.7H1000.7zM990.8 791.1H1021.3V800.1H990.8zM980.8 799.5H1021.3V808.4H980.8zM980.8 807.8H1011.3V816.8H980.8zM970.8 816.2H1001.3V825.1H970.8zM960.8 824.5H991.4V833.5H960.8zM950.9 832.9H991.4V841.8H950.9zM940.9 841.2H981.4V850.2H940.9zM930.9 849.6H971.4V858.5H930.9zM930.9 857.9H961.4V866.9H930.9zM920.9 866.3H951.5V875.2H920.9zM910.9 874.6H941.5V883.6H910.9zM910.9 883.0H931.5V891.9H910.9zM901.0 891.3H921.5V900.3H901.0zM891.0 899.7H911.5V908.6H891.0zM891.0 908.0H901.6V917.0H891.0zM881.0 916.4H901.6V925.3H881.0zM881.0 924.7H891.6V933.7H881.0zM871.0 933.1H881.6V942.0H871.0zM861.1 941.4H881.6V950.4H861.1zM861.1 949.8H881.6V958.8H861.1zM861.1 958.2H881.6V967.1H861.1z"/>
<path fill="#22868f" d="M1140.4 657.5H1171.0V666.4H1140.4zM1130.4 665.8H1171.0V674.8H1130.4zM1120.5 674.2H1171.0V683.1H1120.5zM1120.5 682.5H1171.0V691.5H1120.5zM1110.5 690.9H1171.0V699.8H1110.5zM1100.5 699.2H1171.0V708.2H1100.5zM1090.5 707.6H1171.0V716.5H1090.5zM1090.5 715.9H1141.0V724.9H1090.5zM1080.6 724.3H1131.0V733.2H1080.6zM1070.6 732.6H1121.1V741.6H1070.6zM1060.6 741.0H1111.1V750.0H1060.6zM1060.6 749.4H1101.1V758.3H1060.6zM1050.6 757.7H1091.1V766.7H1050.6zM1040.6 766.1H1091.1V775.0H1040.6zM1040.6 774.4H1081.2V783.4H1040.6zM1030.7 782.8H1071.2V791.7H1030.7zM1020.7 791.1H1061.2V800.1H1020.7zM1020.7 799.5H1051.2V808.4H1020.7zM1010.7 807.8H1041.2V816.8H1010.7zM1000.7 816.2H1041.2V825.1H1000.7zM990.8 824.5H1031.3V833.5H990.8zM990.8 832.9H1021.3V841.8H990.8zM980.8 841.2H1011.3V850.2H980.8zM970.8 849.6H1001.3V858.5H970.8zM960.8 857.9H991.4V866.9H960.8zM950.9 866.3H981.4V875.2H950.9zM940.9 874.6H971.4V883.6H940.9zM930.9 883.0H961.4V891.9H930.9zM920.9 891.3H951.5V900.3H920.9zM910.9 899.7H941.5V908.6H910.9zM901.0 908.0H921.5V917.0H901.0zM901.0 916.4H911.5V925.3H901.0zM891.0 924.7H901.6V933.7H891.0zM881.0 933.1H901.6V942.0H881.0zM881.0 941.4H891.6V950.4H881.0zM881.0 949.8H891.6V958.8H881.0zM881.0 958.2H891.6V967.1H881.0z"/>
<path fill="#298a92" d="M1140.4 715.9H1171.0V724.9H1140.4zM1130.4 724.3H1171.0V733.2H1130.4zM1120.5 732.6H1171.0V741.6H1120.5zM1110.5 741.0H1171.0V750.0H1110.5zM1100.5 749.4H1171.0V758.3H1100.5zM1090.5 757.7H1171.0V766.7H1090.5zM1090.5 766.1H1131.0V775.0H1090.5zM1080.6 774.4H1121.1V783.4H1080.6zM1070.6 782.8H1121.1V791.7H1070.6zM1060.6 791.1H1111.1V800.1H1060.6zM1050.6 799.5H1101.1V808.4H1050.6zM1040.6 807.8H1091.1V816.8H1040.6zM1040.6 816.2H1081.2V825.1H1040.6zM1030.7 824.5H1071.2V833.5H1030.7zM1020.7 832.9H1061.2V841.8H1020.7zM1010.7 841.2H1051.2V850.2H1010.7zM1000.7 849.6H1041.2V858.5H1000.7zM990.8 857.9H1031.3V866.9H990.8zM980.8 866.3H1021.3V875.2H980.8zM970.8 874.6H1011.3V883.6H970.8zM960.8 883.0H1001.3V891.9H960.8zM950.9 891.3H991.4V900.3H950.9zM940.9 899.7H981.4V908.6H940.9zM920.9 908.0H961.4V917.0H920.9zM910.9 916.4H951.5V925.3H910.9zM901.0 924.7H941.5V933.7H901.0zM901.0 933.1H921.5V942.0H901.0zM891.0 941.4H911.5V950.4H891.0zM891.0 949.8H911.5V958.8H891.0zM891.0 958.2H911.5V967.1H891.0z"/>
<path fill="#308d96" d="M1130.4 766.1H1171.0V775.0H1130.4zM1120.5 774.4H1171.0V783.4H1120.5zM1120.5 782.8H1171.0V791.7H1120.5zM1110.5 791.1H1171.0V800.1H1110.5zM1100.5 799.5H1171.0V808.4H1100.5zM1090.5 807.8H1171.0V816.8H1090.5zM1080.6 816.2H1171.0V825.1H1080.6zM1070.6 824.5H1141.0V833.5H1070.6zM1060.6 832.9H1121.1V841.8H1060.6zM1050.6 841.2H1111.1V850.2H1050.6zM1040.6 849.6H1101.1V858.5H1040.6zM1030.7 857.9H1081.2V866.9H1030.7zM1020.7 866.3H1071.2V875.2H1020.7zM1010.7 874.6H1061.2V883.6H1010.7zM1000.7 883.0H1051.2V891.9H1000.7zM990.8 891.3H1041.2V900.3H990.8zM980.8 899.7H1031.3V908.6H980.8zM960.8 908.0H1011.3V917.0H960.8zM950.9 916.4H1001.3V925.3H950.9zM940.9 924.7H991.4V933.7H940.9zM920.9 933.1H981.4V942.0H920.9zM910.9 941.4H971.4V950.4H910.9zM910.9 949.8H971.4V958.8H910.9zM910.9 958.2H971.4V967.1H910.9z"/>
<path fill="#379199" d="M1140.4 824.5H1171.0V833.5H1140.4zM1120.5 832.9H1171.0V841.8H1120.5zM1110.5 841.2H1171.0V850.2H1110.5zM1100.5 849.6H1171.0V858.5H1100.5zM1080.6 857.9H1171.0V866.9H1080.6zM1070.6 866.3H1171.0V875.2H1070.6zM1060.6 874.6H1171.0V883.6H1060.6zM1050.6 883.0H1171.0V891.9H1050.6zM1040.6 891.3H1121.1V900.3H1040.6zM1030.7 899.7H1091.1V908.6H1030.7zM1010.7 908.0H1081.2V917.0H1010.7zM1000.7 916.4H1061.2V925.3H1000.7zM990.8 924.7H1061.2V933.7H990.8zM980.8 933.1H1051.2V942.0H980.8zM970.8 941.4H1041.2V950.4H970.8zM970.8 949.8H1041.2V958.8H970.8zM970.8 958.2H1041.2V967.1H970.8z"/>
<path fill="#3f959d" d="M1120.5 891.3H1171.0V900.3H1120.5zM1090.5 899.7H1171.0V908.6H1090.5zM1080.6 908.0H1171.0V917.0H1080.6zM1060.6 916.4H1171.0V925.3H1060.6zM1060.6 924.7H1171.0V933.7H1060.6zM1050.6 933.1H1171.0V942.0H1050.6zM1040.6 941.4H1171.0V950.4H1040.6zM1040.6 949.8H1171.0V958.8H1040.6zM1040.6 958.2H1171.0V967.1H1040.6z"/>
</g>
<path fill="#308d96" d="M841.1 532.2H851.7V541.2H841.1zM841.1 540.6H851.7V549.5H841.1zM841.1 548.9H851.7V557.9H841.1zM841.1 557.3H851.7V566.2H841.1zM841.1 565.6H851.7V574.6H841.1zM841.1 574.0H851.7V582.9H841.1zM841.1 582.3H851.7V591.3H841.1zM841.1 590.7H851.7V599.6H841.1zM841.1 599.0H851.7V608.0H841.1zM841.1 607.4H851.7V616.3H841.1zM841.1 615.7H851.7V624.7H841.1zM841.1 624.1H851.7V633.0H841.1zM841.1 632.4H851.7V641.4H841.1zM841.1 640.8H851.7V649.7H841.1zM841.1 741.0H851.7V750.0H841.1zM841.1 749.4H851.7V758.3H841.1zM841.1 757.7H851.7V766.7H841.1zM841.1 766.1H851.7V775.0H841.1zM841.1 774.4H851.7V783.4H841.1zM841.1 782.8H851.7V791.7H841.1zM841.1 791.1H851.7V800.1H841.1zM841.1 799.5H851.7V808.4H841.1zM841.1 807.8H851.7V816.8H841.1zM841.1 816.2H851.7V825.1H841.1zM841.1 824.5H851.7V833.5H841.1zM841.1 832.9H851.7V841.8H841.1zM841.1 841.2H851.7V850.2H841.1zM841.1 849.6H851.7V858.5H841.1zM841.1 857.9H851.7V866.9H841.1zM841.1 866.3H851.7V875.2H841.1zM841.1 874.6H851.7V883.6H841.1zM841.1 883.0H851.7V891.9H841.1zM841.1 891.3H851.7V900.3H841.1zM841.1 899.7H851.7V908.6H841.1z"/>
<path fill="#5da6ac" d="M841.1 908.0H851.7V917.0H841.1zM841.1 916.4H851.7V925.3H841.1zM841.1 924.7H851.7V933.7H841.1zM841.1 933.1H851.7V942.0H841.1zM841.1 941.4H851.7V950.4H841.1z"/>
<path fill="#74b3b8" d="M841.1 649.1H851.7V658.1H841.1zM841.1 657.5H851.7V666.4H841.1zM841.1 665.8H851.7V674.8H841.1zM841.1 674.2H851.7V683.1H841.1zM841.1 682.5H851.7V691.5H841.1zM841.1 690.9H851.7V699.8H841.1zM841.1 699.2H851.7V708.2H841.1zM841.1 707.6H851.7V716.5H841.1zM841.1 715.9H851.7V724.9H841.1zM841.1 724.3H851.7V733.2H841.1zM841.1 732.6H851.7V741.6H841.1z"/>
</g>
<g clip-path="url(#cpg)">
<path d="M847.5 534.4L847.5 600.0L847.5 652.0" fill="none" stroke="#1a1a1a" stroke-opacity="0.5" stroke-width="6.0" stroke-linejoin="round" stroke-linecap="butt"/>
<text transform="rotate(-90.00,846.50,695.00) translate(816.25,709.00) scale(1.0920,1)" font-family='"Liberation Sans", sans-serif' font-size="40.00" fill="#1a1a1a" opacity="0.5">0.1</text>
<path d="M847.5 738.0L847.5 911.0" fill="none" stroke="#1a1a1a" stroke-opacity="0.5" stroke-width="6.0" stroke-linejoin="round" stroke-linecap="butt"/>
<text transform="rotate(90.00,846.50,952.00) translate(816.25,966.00) scale(1.0920,1)" font-family='"Liberation Sans", sans-serif' font-size="40.00" fill="#1a1a1a" opacity="0.5">0.1</text>
<path d="M908.1 946.8L934.9 933.4L965.7 914.9L996.6 894.3L1017.2 877.8L1037.7 861.4L1058.3 844.9L1070.7 834.6" fill="none" stroke="#1a1a1a" stroke-opacity="0.5" stroke-width="6.0" stroke-linejoin="round" stroke-linecap="butt"/>
<text transform="rotate(-43.00,1100.00,803.00) translate(1069.75,817.00) scale(1.0920,1)" font-family='"Liberation Sans", sans-serif' font-size="40.00" fill="#1a1a1a" opacity="0.5">0.1</text>
<path d="M1136.5 772.9L1149.9 762.6" fill="none" stroke="#1a1a1a" stroke-opacity="0.5" stroke-width="6.0" stroke-linejoin="round" stroke-linecap="butt"/>
<path d="M856.8 944.9L867.2 955.3M856.8 955.3L867.2 944.9" stroke="#ee1020" stroke-width="4.2" fill="none"/>
<rect x="865.3" y="542.7" width="260.8" height="86.4" rx="9.5" ry="9.5" fill="#fff" fill-opacity="0.75" stroke="#000" stroke-opacity="0.75" stroke-width="3.6"/>
<text transform="translate(895.49,576.40) scale(0.9766,1)" font-family='"Liberation Sans", sans-serif' font-size="34.78" fill="#000">min NRMSE:</text>
<text transform="translate(873.55,615.70) scale(1.0205,1)" font-family='"Liberation Serif", serif' font-size="35.49" fill="#000">0.0165</text>
<text transform="translate(981.17,615.70) scale(1.4301,1)" font-family='"Liberation Serif", serif' font-size="35.49" fill="#000">±</text>
<text transform="translate(1015.96,615.70) scale(1.0167,1)" font-family='"Liberation Serif", serif' font-size="35.49" fill="#000">0.0007</text>
<g><text transform="translate(1088.89,928.57) scale(0.8183,1)" font-family='"Liberation Serif", serif' font-size="51.76" fill="#000">(</text><text transform="translate(1104.36,928.10) scale(1.0626,1)" font-family='"Liberation Serif", serif' font-size="44.78" fill="#000">g</text><text transform="translate(1128.85,928.57) scale(0.8025,1)" font-family='"Liberation Serif", serif' font-size="51.76" fill="#000">)</text></g>
</g>
<rect x="841.4" y="532.5" width="309.3" height="417.6" fill="none" stroke="#000" stroke-width="3.1"/>
<path d="M841.4 873.4h-13.3M841.4 788.2h-13.3M841.4 702.9h-13.3M841.4 617.7h-13.3M841.4 532.5h-13.3M841.4 950.1v13.3M1047.6 950.1v13.3" stroke="#000" stroke-width="3.1" fill="none"/>
<g clip-path="url(#cph)" shape-rendering="crispEdges">
<g filter="url(#bl)">
<path fill="#097882" d="M1176.7 515.5H1257.2V524.4H1176.7zM1176.7 523.8H1257.2V532.8H1176.7zM1176.7 532.2H1257.2V541.2H1176.7zM1176.7 540.6H1257.2V549.5H1176.7zM1176.7 548.9H1257.2V557.9H1176.7zM1176.7 557.3H1257.2V566.2H1176.7zM1176.7 565.6H1257.2V574.6H1176.7zM1176.7 574.0H1267.1V582.9H1176.7zM1176.7 582.3H1267.1V591.3H1176.7zM1176.7 590.7H1267.1V599.6H1176.7zM1176.7 599.0H1267.1V608.0H1176.7zM1176.7 607.4H1267.1V616.3H1176.7zM1176.7 615.7H1267.1V624.7H1176.7zM1176.7 624.1H1267.1V633.0H1176.7zM1176.7 632.4H1267.1V641.4H1176.7zM1176.7 640.8H1267.1V649.7H1176.7zM1176.7 649.1H1267.1V658.1H1176.7zM1176.7 657.5H1267.1V666.4H1176.7zM1176.7 665.8H1267.1V674.8H1176.7zM1176.7 674.2H1257.2V683.1H1176.7zM1176.7 682.5H1257.2V691.5H1176.7zM1176.7 690.9H1257.2V699.8H1176.7zM1176.7 699.2H1257.2V708.2H1176.7zM1176.7 707.6H1257.2V716.5H1176.7zM1176.7 715.9H1267.1V724.9H1176.7zM1176.7 724.3H1267.1V733.2H1176.7zM1176.7 732.6H1267.1V741.6H1176.7zM1176.7 741.0H1267.1V750.0H1176.7zM1176.7 749.4H1267.1V758.3H1176.7zM1176.7 757.7H1267.1V766.7H1176.7zM1176.7 766.1H1267.1V775.0H1176.7zM1176.7 774.4H1267.1V783.4H1176.7zM1176.7 782.8H1267.1V791.7H1176.7zM1176.7 791.1H1267.1V800.1H1176.7zM1176.7 799.5H1267.1V808.4H1176.7zM1176.7 807.8H1267.1V816.8H1176.7zM1176.7 816.2H1267.1V825.1H1176.7zM1176.7 824.5H1257.2V833.5H1176.7zM1176.7 832.9H1257.2V841.8H1176.7zM1176.7 841.2H1257.2V850.2H1176.7zM1176.7 849.6H1257.2V858.5H1176.7zM1176.7 857.9H1247.2V866.9H1176.7zM1176.7 866.3H1247.2V875.2H1176.7zM1176.7 874.6H1247.2V883.6H1176.7zM1176.7 883.0H1237.2V891.9H1176.7zM1176.7 891.3H1237.2V900.3H1176.7z"/>
<path fill="#0e7b85" d="M1256.6 515.5H1307.1V524.4H1256.6zM1256.6 523.8H1307.1V532.8H1256.6zM1256.6 532.2H1307.1V541.2H1256.6zM1256.6 540.6H1317.0V549.5H1256.6zM1256.6 548.9H1317.0V557.9H1256.6zM1256.6 557.3H1317.0V566.2H1256.6zM1256.6 565.6H1317.0V574.6H1256.6zM1266.5 574.0H1317.0V582.9H1266.5zM1266.5 582.3H1317.0V591.3H1266.5zM1266.5 590.7H1317.0V599.6H1266.5zM1266.5 599.0H1317.0V608.0H1266.5zM1266.5 607.4H1317.0V616.3H1266.5zM1266.5 615.7H1317.0V624.7H1266.5zM1266.5 624.1H1317.0V633.0H1266.5zM1266.5 632.4H1317.0V641.4H1266.5zM1266.5 640.8H1317.0V649.7H1266.5zM1266.5 649.1H1317.0V658.1H1266.5zM1266.5 657.5H1317.0V666.4H1266.5zM1266.5 665.8H1317.0V674.8H1266.5zM1256.6 674.2H1317.0V683.1H1256.6zM1256.6 682.5H1307.1V691.5H1256.6zM1256.6 690.9H1307.1V699.8H1256.6zM1256.6 699.2H1307.1V708.2H1256.6zM1256.6 707.6H1307.1V716.5H1256.6zM1266.5 715.9H1307.1V724.9H1266.5zM1266.5 724.3H1307.1V733.2H1266.5zM1266.5 732.6H1307.1V741.6H1266.5zM1266.5 741.0H1307.1V750.0H1266.5zM1266.5 749.4H1307.1V758.3H1266.5zM1266.5 757.7H1307.1V766.7H1266.5zM1266.5 766.1H1307.1V775.0H1266.5zM1266.5 774.4H1307.1V783.4H1266.5zM1266.5 782.8H1307.1V791.7H1266.5zM1266.5 791.1H1307.1V800.1H1266.5zM1266.5 799.5H1297.1V808.4H1266.5zM1266.5 807.8H1297.1V816.8H1266.5zM1266.5 816.2H1297.1V825.1H1266.5zM1256.6 824.5H1297.1V833.5H1256.6zM1256.6 832.9H1287.1V841.8H1256.6zM1256.6 841.2H1287.1V850.2H1256.6zM1256.6 849.6H1287.1V858.5H1256.6zM1246.6 857.9H1277.1V866.9H1246.6zM1246.6 866.3H1277.1V875.2H1246.6zM1246.6 874.6H1267.1V883.6H1246.6zM1236.6 883.0H1257.2V891.9H1236.6zM1236.6 891.3H1257.2V900.3H1236.6zM1176.7 899.7H1247.2V908.6H1176.7zM1176.7 908.0H1237.2V917.0H1176.7zM1176.7 916.4H1227.2V925.3H1176.7z"/>
<path fill="#157e88" d="M1306.5 515.5H1356.9V524.4H1306.5zM1306.5 523.8H1356.9V532.8H1306.5zM1306.5 532.2H1356.9V541.2H1306.5zM1316.4 540.6H1356.9V549.5H1316.4zM1316.4 548.9H1356.9V557.9H1316.4zM1316.4 557.3H1356.9V566.2H1316.4zM1316.4 565.6H1356.9V574.6H1316.4zM1316.4 574.0H1356.9V582.9H1316.4zM1316.4 582.3H1356.9V591.3H1316.4zM1316.4 590.7H1347.0V599.6H1316.4zM1316.4 599.0H1347.0V608.0H1316.4zM1316.4 607.4H1347.0V616.3H1316.4zM1316.4 615.7H1347.0V624.7H1316.4zM1316.4 624.1H1347.0V633.0H1316.4zM1316.4 632.4H1347.0V641.4H1316.4zM1316.4 640.8H1347.0V649.7H1316.4zM1316.4 649.1H1347.0V658.1H1316.4zM1316.4 657.5H1347.0V666.4H1316.4zM1316.4 665.8H1347.0V674.8H1316.4zM1316.4 674.2H1347.0V683.1H1316.4zM1306.5 682.5H1347.0V691.5H1306.5zM1306.5 690.9H1347.0V699.8H1306.5zM1306.5 699.2H1337.0V708.2H1306.5zM1306.5 707.6H1337.0V716.5H1306.5zM1306.5 715.9H1337.0V724.9H1306.5zM1306.5 724.3H1337.0V733.2H1306.5zM1306.5 732.6H1337.0V741.6H1306.5zM1306.5 741.0H1337.0V750.0H1306.5zM1306.5 749.4H1337.0V758.3H1306.5zM1306.5 757.7H1327.0V766.7H1306.5zM1306.5 766.1H1327.0V775.0H1306.5zM1306.5 774.4H1327.0V783.4H1306.5zM1306.5 782.8H1327.0V791.7H1306.5zM1306.5 791.1H1327.0V800.1H1306.5zM1296.5 799.5H1327.0V808.4H1296.5zM1296.5 807.8H1327.0V816.8H1296.5zM1296.5 816.2H1317.0V825.1H1296.5zM1296.5 824.5H1317.0V833.5H1296.5zM1286.5 832.9H1317.0V841.8H1286.5zM1286.5 841.2H1307.1V850.2H1286.5zM1286.5 849.6H1307.1V858.5H1286.5zM1276.5 857.9H1307.1V866.9H1276.5zM1276.5 866.3H1297.1V875.2H1276.5zM1266.5 874.6H1297.1V883.6H1266.5zM1256.6 883.0H1287.1V891.9H1256.6zM1256.6 891.3H1277.1V900.3H1256.6zM1246.6 899.7H1267.1V908.6H1246.6zM1236.6 908.0H1257.2V917.0H1236.6zM1226.6 916.4H1257.2V925.3H1226.6zM1176.7 924.7H1247.2V933.7H1176.7zM1176.7 933.1H1227.2V942.0H1176.7z"/>
<path fill="#1b828b" d="M1356.3 515.5H1386.9V524.4H1356.3zM1356.3 523.8H1386.9V532.8H1356.3zM1356.3 532.2H1386.9V541.2H1356.3zM1356.3 540.6H1386.9V549.5H1356.3zM1356.3 548.9H1386.9V557.9H1356.3zM1356.3 557.3H1386.9V566.2H1356.3zM1356.3 565.6H1386.9V574.6H1356.3zM1356.3 574.0H1376.9V582.9H1356.3zM1356.3 582.3H1376.9V591.3H1356.3zM1346.4 590.7H1376.9V599.6H1346.4zM1346.4 599.0H1376.9V608.0H1346.4zM1346.4 607.4H1376.9V616.3H1346.4zM1346.4 615.7H1376.9V624.7H1346.4zM1346.4 624.1H1376.9V633.0H1346.4zM1346.4 632.4H1376.9V641.4H1346.4zM1346.4 640.8H1376.9V649.7H1346.4zM1346.4 649.1H1376.9V658.1H1346.4zM1346.4 657.5H1376.9V666.4H1346.4zM1346.4 665.8H1376.9V674.8H1346.4zM1346.4 674.2H1376.9V683.1H1346.4zM1346.4 682.5H1366.9V691.5H1346.4zM1346.4 690.9H1366.9V699.8H1346.4zM1336.4 699.2H1366.9V708.2H1336.4zM1336.4 707.6H1366.9V716.5H1336.4zM1336.4 715.9H1366.9V724.9H1336.4zM1336.4 724.3H1366.9V733.2H1336.4zM1336.4 732.6H1356.9V741.6H1336.4zM1336.4 741.0H1356.9V750.0H1336.4zM1336.4 749.4H1356.9V758.3H1336.4zM1326.4 757.7H1356.9V766.7H1326.4zM1326.4 766.1H1356.9V775.0H1326.4zM1326.4 774.4H1347.0V783.4H1326.4zM1326.4 782.8H1347.0V791.7H1326.4zM1326.4 791.1H1347.0V800.1H1326.4zM1326.4 799.5H1347.0V808.4H1326.4zM1326.4 807.8H1347.0V816.8H1326.4zM1316.4 816.2H1337.0V825.1H1316.4zM1316.4 824.5H1337.0V833.5H1316.4zM1316.4 832.9H1337.0V841.8H1316.4zM1306.5 841.2H1337.0V850.2H1306.5zM1306.5 849.6H1327.0V858.5H1306.5zM1306.5 857.9H1327.0V866.9H1306.5zM1296.5 866.3H1317.0V875.2H1296.5zM1296.5 874.6H1317.0V883.6H1296.5zM1286.5 883.0H1307.1V891.9H1286.5zM1276.5 891.3H1297.1V900.3H1276.5zM1266.5 899.7H1287.1V908.6H1266.5zM1256.6 908.0H1277.1V917.0H1256.6zM1256.6 916.4H1267.1V925.3H1256.6zM1246.6 924.7H1267.1V933.7H1246.6zM1226.6 933.1H1257.2V942.0H1226.6zM1176.7 941.4H1247.2V950.4H1176.7zM1176.7 949.8H1247.2V958.8H1176.7zM1176.7 958.2H1247.2V967.1H1176.7z"/>
<path fill="#22868f" d="M1386.3 515.5H1406.8V524.4H1386.3zM1386.3 523.8H1406.8V532.8H1386.3zM1386.3 532.2H1406.8V541.2H1386.3zM1386.3 540.6H1406.8V549.5H1386.3zM1386.3 548.9H1406.8V557.9H1386.3zM1386.3 557.3H1406.8V566.2H1386.3zM1386.3 565.6H1406.8V574.6H1386.3zM1376.3 574.0H1406.8V582.9H1376.3zM1376.3 582.3H1406.8V591.3H1376.3zM1376.3 590.7H1406.8V599.6H1376.3zM1376.3 599.0H1406.8V608.0H1376.3zM1376.3 607.4H1406.8V616.3H1376.3zM1376.3 615.7H1406.8V624.7H1376.3zM1376.3 624.1H1406.8V633.0H1376.3zM1376.3 632.4H1406.8V641.4H1376.3zM1376.3 640.8H1406.8V649.7H1376.3zM1376.3 649.1H1396.8V658.1H1376.3zM1376.3 657.5H1396.8V666.4H1376.3zM1376.3 665.8H1396.8V674.8H1376.3zM1376.3 674.2H1396.8V683.1H1376.3zM1366.3 682.5H1396.8V691.5H1366.3zM1366.3 690.9H1396.8V699.8H1366.3zM1366.3 699.2H1396.8V708.2H1366.3zM1366.3 707.6H1396.8V716.5H1366.3zM1366.3 715.9H1386.9V724.9H1366.3zM1366.3 724.3H1386.9V733.2H1366.3zM1356.3 732.6H1386.9V741.6H1356.3zM1356.3 741.0H1386.9V750.0H1356.3zM1356.3 749.4H1376.9V758.3H1356.3zM1356.3 757.7H1376.9V766.7H1356.3zM1356.3 766.1H1376.9V775.0H1356.3zM1346.4 774.4H1366.9V783.4H1346.4zM1346.4 782.8H1366.9V791.7H1346.4zM1346.4 791.1H1366.9V800.1H1346.4zM1346.4 799.5H1366.9V808.4H1346.4zM1346.4 807.8H1356.9V816.8H1346.4zM1336.4 816.2H1356.9V825.1H1336.4zM1336.4 824.5H1356.9V833.5H1336.4zM1336.4 832.9H1356.9V841.8H1336.4zM1336.4 841.2H1347.0V850.2H1336.4zM1326.4 849.6H1347.0V858.5H1326.4zM1326.4 857.9H1347.0V866.9H1326.4zM1316.4 866.3H1337.0V875.2H1316.4zM1316.4 874.6H1337.0V883.6H1316.4zM1306.5 883.0H1327.0V891.9H1306.5zM1296.5 891.3H1327.0V900.3H1296.5zM1286.5 899.7H1317.0V908.6H1286.5zM1276.5 908.0H1307.1V917.0H1276.5zM1266.5 916.4H1287.1V925.3H1266.5zM1266.5 924.7H1277.1V933.7H1266.5zM1256.6 933.1H1267.1V942.0H1256.6zM1246.6 941.4H1267.1V950.4H1246.6zM1246.6 949.8H1267.1V958.8H1246.6zM1246.6 958.2H1267.1V967.1H1246.6z"/>
<path fill="#298a92" d="M1406.2 515.5H1436.8V524.4H1406.2zM1406.2 523.8H1436.8V532.8H1406.2zM1406.2 532.2H1436.8V541.2H1406.2zM1406.2 540.6H1436.8V549.5H1406.2zM1406.2 548.9H1436.8V557.9H1406.2zM1406.2 557.3H1436.8V566.2H1406.2zM1406.2 565.6H1436.8V574.6H1406.2zM1406.2 574.0H1436.8V582.9H1406.2zM1406.2 582.3H1436.8V591.3H1406.2zM1406.2 590.7H1436.8V599.6H1406.2zM1406.2 599.0H1436.8V608.0H1406.2zM1406.2 607.4H1436.8V616.3H1406.2zM1406.2 615.7H1426.8V624.7H1406.2zM1406.2 624.1H1426.8V633.0H1406.2zM1406.2 632.4H1426.8V641.4H1406.2zM1406.2 640.8H1426.8V649.7H1406.2zM1396.2 649.1H1426.8V658.1H1396.2zM1396.2 657.5H1426.8V666.4H1396.2zM1396.2 665.8H1426.8V674.8H1396.2zM1396.2 674.2H1416.8V683.1H1396.2zM1396.2 682.5H1416.8V691.5H1396.2zM1396.2 690.9H1416.8V699.8H1396.2zM1396.2 699.2H1416.8V708.2H1396.2zM1396.2 707.6H1416.8V716.5H1396.2zM1386.3 715.9H1416.8V724.9H1386.3zM1386.3 724.3H1416.8V733.2H1386.3zM1386.3 732.6H1416.8V741.6H1386.3zM1386.3 741.0H1416.8V750.0H1386.3zM1376.3 749.4H1406.8V758.3H1376.3zM1376.3 757.7H1406.8V766.7H1376.3zM1376.3 766.1H1406.8V775.0H1376.3zM1366.3 774.4H1396.8V783.4H1366.3zM1366.3 782.8H1396.8V791.7H1366.3zM1366.3 791.1H1386.9V800.1H1366.3zM1366.3 799.5H1386.9V808.4H1366.3zM1356.3 807.8H1376.9V816.8H1356.3zM1356.3 816.2H1376.9V825.1H1356.3zM1356.3 824.5H1376.9V833.5H1356.3zM1356.3 832.9H1366.9V841.8H1356.3zM1346.4 841.2H1366.9V850.2H1346.4zM1346.4 849.6H1366.9V858.5H1346.4zM1346.4 857.9H1356.9V866.9H1346.4zM1336.4 866.3H1356.9V875.2H1336.4zM1336.4 874.6H1347.0V883.6H1336.4zM1326.4 883.0H1347.0V891.9H1326.4zM1326.4 891.3H1337.0V900.3H1326.4zM1316.4 899.7H1337.0V908.6H1316.4zM1306.5 908.0H1327.0V917.0H1306.5zM1286.5 916.4H1317.0V925.3H1286.5zM1276.5 924.7H1297.1V933.7H1276.5zM1266.5 933.1H1287.1V942.0H1266.5zM1266.5 941.4H1277.1V950.4H1266.5zM1266.5 949.8H1277.1V958.8H1266.5zM1266.5 958.2H1277.1V967.1H1266.5z"/>
<path fill="#308d96" d="M1436.2 515.5H1466.7V524.4H1436.2zM1436.2 523.8H1466.7V532.8H1436.2zM1436.2 532.2H1466.7V541.2H1436.2zM1436.2 540.6H1466.7V549.5H1436.2zM1436.2 548.9H1466.7V557.9H1436.2zM1436.2 557.3H1466.7V566.2H1436.2zM1436.2 565.6H1466.7V574.6H1436.2zM1436.2 574.0H1466.7V582.9H1436.2zM1436.2 582.3H1466.7V591.3H1436.2zM1436.2 590.7H1456.7V599.6H1436.2zM1436.2 599.0H1456.7V608.0H1436.2zM1436.2 607.4H1456.7V616.3H1436.2zM1426.2 615.7H1456.7V624.7H1426.2zM1426.2 624.1H1456.7V633.0H1426.2zM1426.2 632.4H1456.7V641.4H1426.2zM1426.2 640.8H1456.7V649.7H1426.2zM1426.2 649.1H1456.7V658.1H1426.2zM1426.2 657.5H1456.7V666.4H1426.2zM1426.2 665.8H1456.7V674.8H1426.2zM1416.2 674.2H1456.7V683.1H1416.2zM1416.2 682.5H1446.7V691.5H1416.2zM1416.2 690.9H1446.7V699.8H1416.2zM1416.2 699.2H1446.7V708.2H1416.2zM1416.2 707.6H1446.7V716.5H1416.2zM1416.2 715.9H1446.7V724.9H1416.2zM1416.2 724.3H1446.7V733.2H1416.2zM1416.2 732.6H1446.7V741.6H1416.2zM1416.2 741.0H1446.7V750.0H1416.2zM1406.2 749.4H1446.7V758.3H1406.2zM1406.2 757.7H1446.7V766.7H1406.2zM1406.2 766.1H1446.7V775.0H1406.2zM1396.2 774.4H1446.7V783.4H1396.2zM1396.2 782.8H1436.8V791.7H1396.2zM1386.3 791.1H1436.8V800.1H1386.3zM1386.3 799.5H1436.8V808.4H1386.3zM1376.3 807.8H1426.8V816.8H1376.3zM1376.3 816.2H1426.8V825.1H1376.3zM1376.3 824.5H1416.8V833.5H1376.3zM1366.3 832.9H1406.8V841.8H1366.3zM1366.3 841.2H1396.8V850.2H1366.3zM1366.3 849.6H1386.9V858.5H1366.3zM1356.3 857.9H1376.9V866.9H1356.3zM1356.3 866.3H1376.9V875.2H1356.3zM1346.4 874.6H1366.9V883.6H1346.4zM1346.4 883.0H1356.9V891.9H1346.4zM1336.4 891.3H1356.9V900.3H1336.4zM1336.4 899.7H1347.0V908.6H1336.4zM1326.4 908.0H1337.0V917.0H1326.4zM1316.4 916.4H1327.0V925.3H1316.4zM1296.5 924.7H1317.0V933.7H1296.5zM1286.5 933.1H1307.1V942.0H1286.5zM1276.5 941.4H1297.1V950.4H1276.5zM1276.5 949.8H1297.1V958.8H1276.5zM1276.5 958.2H1297.1V967.1H1276.5z"/>
<path fill="#379199" d="M1466.1 515.5H1496.6V524.4H1466.1zM1466.1 523.8H1496.6V532.8H1466.1zM1466.1 532.2H1496.6V541.2H1466.1zM1466.1 540.6H1496.6V549.5H1466.1zM1466.1 548.9H1496.6V557.9H1466.1zM1466.1 557.3H1496.6V566.2H1466.1zM1466.1 565.6H1496.6V574.6H1466.1zM1466.1 574.0H1496.6V582.9H1466.1zM1466.1 582.3H1486.6V591.3H1466.1zM1456.1 590.7H1486.6V599.6H1456.1zM1456.1 599.0H1486.6V608.0H1456.1zM1456.1 607.4H1486.6V616.3H1456.1zM1456.1 615.7H1486.6V624.7H1456.1zM1456.1 624.1H1486.6V633.0H1456.1zM1456.1 632.4H1486.6V641.4H1456.1zM1456.1 640.8H1486.6V649.7H1456.1zM1456.1 649.1H1486.6V658.1H1456.1zM1456.1 657.5H1486.6V666.4H1456.1zM1456.1 665.8H1476.7V674.8H1456.1zM1456.1 674.2H1476.7V683.1H1456.1zM1446.1 682.5H1476.7V691.5H1446.1zM1446.1 690.9H1476.7V699.8H1446.1zM1446.1 699.2H1476.7V708.2H1446.1zM1446.1 707.6H1476.7V716.5H1446.1zM1446.1 715.9H1476.7V724.9H1446.1zM1446.1 724.3H1476.7V733.2H1446.1zM1446.1 732.6H1476.7V741.6H1446.1zM1446.1 741.0H1476.7V750.0H1446.1zM1446.1 749.4H1476.7V758.3H1446.1zM1446.1 757.7H1476.7V766.7H1446.1zM1446.1 766.1H1476.7V775.0H1446.1zM1446.1 774.4H1476.7V783.4H1446.1zM1436.2 782.8H1466.7V791.7H1436.2zM1436.2 791.1H1466.7V800.1H1436.2zM1436.2 799.5H1466.7V808.4H1436.2zM1426.2 807.8H1466.7V816.8H1426.2zM1426.2 816.2H1466.7V825.1H1426.2zM1416.2 824.5H1456.7V833.5H1416.2zM1406.2 832.9H1456.7V841.8H1406.2zM1396.2 841.2H1446.7V850.2H1396.2zM1386.3 849.6H1436.8V858.5H1386.3zM1376.3 857.9H1416.8V866.9H1376.3zM1376.3 866.3H1396.8V875.2H1376.3zM1366.3 874.6H1386.9V883.6H1366.3zM1356.3 883.0H1376.9V891.9H1356.3zM1356.3 891.3H1366.9V900.3H1356.3zM1346.4 899.7H1356.9V908.6H1346.4zM1336.4 908.0H1347.0V917.0H1336.4zM1326.4 916.4H1337.0V925.3H1326.4zM1316.4 924.7H1327.0V933.7H1316.4zM1306.5 933.1H1317.0V942.0H1306.5zM1296.5 941.4H1307.1V950.4H1296.5zM1296.5 949.8H1307.1V958.8H1296.5zM1296.5 958.2H1307.1V967.1H1296.5z"/>
<path fill="#3f959d" d="M1496.0 515.5H1526.6V524.4H1496.0zM1496.0 523.8H1526.6V532.8H1496.0zM1496.0 532.2H1526.6V541.2H1496.0zM1496.0 540.6H1526.6V549.5H1496.0zM1496.0 548.9H1526.6V557.9H1496.0zM1496.0 557.3H1526.6V566.2H1496.0zM1496.0 565.6H1526.6V574.6H1496.0zM1496.0 574.0H1526.6V582.9H1496.0zM1486.0 582.3H1526.6V591.3H1486.0zM1486.0 590.7H1526.6V599.6H1486.0zM1486.0 599.0H1526.6V608.0H1486.0zM1486.0 607.4H1526.6V616.3H1486.0zM1486.0 615.7H1526.6V624.7H1486.0zM1486.0 624.1H1526.6V633.0H1486.0zM1486.0 632.4H1526.6V641.4H1486.0zM1486.0 640.8H1526.6V649.7H1486.0zM1486.0 649.1H1526.6V658.1H1486.0zM1486.0 657.5H1526.6V666.4H1486.0zM1476.1 665.8H1526.6V674.8H1476.1zM1476.1 674.2H1526.6V683.1H1476.1zM1476.1 682.5H1526.6V691.5H1476.1zM1476.1 690.9H1526.6V699.8H1476.1zM1476.1 699.2H1496.6V708.2H1476.1zM1476.1 707.6H1496.6V716.5H1476.1zM1476.1 715.9H1496.6V724.9H1476.1zM1476.1 724.3H1496.6V733.2H1476.1zM1476.1 732.6H1496.6V741.6H1476.1zM1476.1 741.0H1496.6V750.0H1476.1zM1476.1 749.4H1496.6V758.3H1476.1zM1476.1 757.7H1496.6V766.7H1476.1zM1476.1 766.1H1496.6V775.0H1476.1zM1476.1 774.4H1486.6V783.4H1476.1zM1466.1 782.8H1486.6V791.7H1466.1zM1466.1 791.1H1486.6V800.1H1466.1zM1466.1 799.5H1486.6V808.4H1466.1zM1466.1 807.8H1486.6V816.8H1466.1zM1466.1 816.2H1486.6V825.1H1466.1zM1456.1 824.5H1476.7V833.5H1456.1zM1456.1 832.9H1476.7V841.8H1456.1zM1446.1 841.2H1476.7V850.2H1446.1zM1436.2 849.6H1466.7V858.5H1436.2zM1416.2 857.9H1466.7V866.9H1416.2zM1396.2 866.3H1456.7V875.2H1396.2zM1386.3 874.6H1436.8V883.6H1386.3zM1376.3 883.0H1396.8V891.9H1376.3zM1366.3 891.3H1386.9V900.3H1366.3zM1356.3 899.7H1366.9V908.6H1356.3zM1346.4 908.0H1356.9V917.0H1346.4zM1336.4 916.4H1347.0V925.3H1336.4zM1326.4 924.7H1337.0V933.7H1326.4zM1316.4 933.1H1327.0V942.0H1316.4zM1306.5 941.4H1317.0V950.4H1306.5zM1306.5 949.8H1317.0V958.8H1306.5zM1306.5 958.2H1317.0V967.1H1306.5z"/>
<path fill="#4699a1" d="M1496.0 699.2H1526.6V708.2H1496.0zM1496.0 707.6H1526.6V716.5H1496.0zM1496.0 715.9H1526.6V724.9H1496.0zM1496.0 724.3H1526.6V733.2H1496.0zM1496.0 732.6H1526.6V741.6H1496.0zM1496.0 741.0H1526.6V750.0H1496.0zM1496.0 749.4H1526.6V758.3H1496.0zM1496.0 757.7H1526.6V766.7H1496.0zM1496.0 766.1H1526.6V775.0H1496.0zM1486.0 774.4H1526.6V783.4H1486.0zM1486.0 782.8H1526.6V791.7H1486.0zM1486.0 791.1H1496.6V800.1H1486.0zM1486.0 799.5H1496.6V808.4H1486.0zM1486.0 807.8H1496.6V816.8H1486.0zM1486.0 816.2H1496.6V825.1H1486.0zM1476.1 824.5H1496.6V833.5H1476.1zM1476.1 832.9H1486.6V841.8H1476.1zM1476.1 841.2H1486.6V850.2H1476.1zM1466.1 849.6H1486.6V858.5H1466.1zM1466.1 857.9H1486.6V866.9H1466.1zM1456.1 866.3H1476.7V875.2H1456.1zM1436.2 874.6H1466.7V883.6H1436.2zM1396.2 883.0H1456.7V891.9H1396.2zM1386.3 891.3H1436.8V900.3H1386.3zM1366.3 899.7H1396.8V908.6H1366.3zM1356.3 908.0H1376.9V917.0H1356.3zM1346.4 916.4H1366.9V925.3H1346.4zM1336.4 924.7H1356.9V933.7H1336.4zM1326.4 933.1H1337.0V942.0H1326.4zM1316.4 941.4H1327.0V950.4H1316.4zM1316.4 949.8H1327.0V958.8H1316.4zM1316.4 958.2H1327.0V967.1H1316.4z"/>
<path fill="#4d9ea5" d="M1496.0 791.1H1526.6V800.1H1496.0zM1496.0 799.5H1526.6V808.4H1496.0zM1496.0 807.8H1526.6V816.8H1496.0zM1496.0 816.2H1526.6V825.1H1496.0zM1496.0 824.5H1526.6V833.5H1496.0zM1486.0 832.9H1496.6V841.8H1486.0zM1486.0 841.2H1496.6V850.2H1486.0zM1486.0 849.6H1496.6V858.5H1486.0zM1486.0 857.9H1496.6V866.9H1486.0zM1476.1 866.3H1486.6V875.2H1476.1zM1466.1 874.6H1486.6V883.6H1466.1zM1456.1 883.0H1476.7V891.9H1456.1zM1436.2 891.3H1456.7V900.3H1436.2zM1396.2 899.7H1446.7V908.6H1396.2zM1376.3 908.0H1406.8V917.0H1376.3zM1366.3 916.4H1386.9V925.3H1366.3zM1356.3 924.7H1366.9V933.7H1356.3zM1336.4 933.1H1356.9V942.0H1336.4zM1326.4 941.4H1337.0V950.4H1326.4zM1326.4 949.8H1337.0V958.8H1326.4zM1326.4 958.2H1337.0V967.1H1326.4z"/>
<path fill="#55a2a9" d="M1496.0 832.9H1526.6V841.8H1496.0zM1496.0 841.2H1526.6V850.2H1496.0zM1496.0 849.6H1526.6V858.5H1496.0zM1486.0 866.3H1496.6V875.2H1486.0zM1486.0 874.6H1496.6V883.6H1486.0zM1476.1 883.0H1486.6V891.9H1476.1zM1456.1 891.3H1476.7V900.3H1456.1zM1446.1 899.7H1456.7V908.6H1446.1zM1406.2 908.0H1446.7V917.0H1406.2zM1386.3 916.4H1406.8V925.3H1386.3zM1366.3 924.7H1386.9V933.7H1366.3zM1356.3 933.1H1366.9V942.0H1356.3z"/>
<path fill="#5da6ac" d="M1496.0 857.9H1526.6V866.9H1496.0zM1496.0 866.3H1526.6V875.2H1496.0zM1486.0 883.0H1496.6V891.9H1486.0zM1476.1 891.3H1486.6V900.3H1476.1zM1456.1 899.7H1466.7V908.6H1456.1zM1446.1 908.0H1456.7V917.0H1446.1zM1406.2 916.4H1436.8V925.3H1406.2zM1386.3 924.7H1416.8V933.7H1386.3zM1366.3 933.1H1396.8V942.0H1366.3zM1336.4 941.4H1366.9V950.4H1336.4zM1336.4 949.8H1366.9V958.8H1336.4zM1336.4 958.2H1366.9V967.1H1336.4z"/>
<path fill="#64aab0" d="M1496.0 874.6H1526.6V883.6H1496.0zM1486.0 891.3H1496.6V900.3H1486.0zM1466.1 899.7H1486.6V908.6H1466.1zM1456.1 908.0H1466.7V917.0H1456.1zM1436.2 916.4H1446.7V925.3H1436.2zM1416.2 924.7H1426.8V933.7H1416.2zM1396.2 933.1H1416.8V942.0H1396.2zM1366.3 941.4H1396.8V950.4H1366.3zM1366.3 949.8H1396.8V958.8H1366.3zM1366.3 958.2H1396.8V967.1H1366.3z"/>
<path fill="#6caeb4" d="M1496.0 883.0H1526.6V891.9H1496.0zM1466.1 908.0H1476.7V917.0H1466.1zM1446.1 916.4H1456.7V925.3H1446.1zM1426.2 924.7H1446.7V933.7H1426.2zM1416.2 933.1H1426.8V942.0H1416.2zM1396.2 941.4H1416.8V950.4H1396.2zM1396.2 949.8H1416.8V958.8H1396.2zM1396.2 958.2H1416.8V967.1H1396.2z"/>
<path fill="#74b3b8" d="M1496.0 891.3H1526.6V900.3H1496.0zM1486.0 899.7H1496.6V908.6H1486.0zM1476.1 908.0H1486.6V917.0H1476.1zM1456.1 916.4H1466.7V925.3H1456.1zM1446.1 924.7H1456.7V933.7H1446.1zM1426.2 933.1H1436.8V942.0H1426.2zM1416.2 941.4H1426.8V950.4H1416.2zM1416.2 949.8H1426.8V958.8H1416.2zM1416.2 958.2H1426.8V967.1H1416.2z"/>
<path fill="#7cb7bc" d="M1466.1 916.4H1476.7V925.3H1466.1zM1436.2 933.1H1446.7V942.0H1436.2zM1426.2 941.4H1436.8V950.4H1426.2zM1426.2 949.8H1436.8V958.8H1426.2zM1426.2 958.2H1436.8V967.1H1426.2z"/>
<path fill="#84bbc0" d="M1496.0 899.7H1526.6V908.6H1496.0zM1486.0 908.0H1496.6V917.0H1486.0zM1476.1 916.4H1486.6V925.3H1476.1zM1456.1 924.7H1466.7V933.7H1456.1zM1446.1 933.1H1456.7V942.0H1446.1zM1436.2 941.4H1446.7V950.4H1436.2zM1436.2 949.8H1446.7V958.8H1436.2zM1436.2 958.2H1446.7V967.1H1436.2z"/>
<path fill="#8cc0c4" d="M1466.1 924.7H1476.7V933.7H1466.1zM1456.1 933.1H1466.7V942.0H1456.1zM1446.1 941.4H1456.7V950.4H1446.1zM1446.1 949.8H1456.7V958.8H1446.1zM1446.1 958.2H1456.7V967.1H1446.1z"/>
<path fill="#94c4c8" d="M1496.0 908.0H1526.6V917.0H1496.0zM1486.0 916.4H1496.6V925.3H1486.0z"/>
<path fill="#9cc9cd" d="M1476.1 924.7H1486.6V933.7H1476.1zM1466.1 933.1H1476.7V942.0H1466.1zM1456.1 941.4H1466.7V950.4H1456.1zM1456.1 949.8H1466.7V958.8H1456.1zM1456.1 958.2H1466.7V967.1H1456.1z"/>
<path fill="#a4cdd1" d="M1496.0 916.4H1526.6V925.3H1496.0z"/>
<path fill="#acd1d5" d="M1486.0 924.7H1496.6V933.7H1486.0zM1466.1 941.4H1476.7V950.4H1466.1zM1466.1 949.8H1476.7V958.8H1466.1zM1466.1 958.2H1476.7V967.1H1466.1z"/>
<path fill="#b4d6d9" d="M1476.1 933.1H1486.6V942.0H1476.1z"/>
<path fill="#bcdadd" d="M1496.0 924.7H1526.6V933.7H1496.0z"/>
<path fill="#c5dfe1" d="M1476.1 941.4H1486.6V950.4H1476.1zM1476.1 949.8H1486.6V958.8H1476.1zM1476.1 958.2H1486.6V967.1H1476.1z"/>
<path fill="#cde3e5" d="M1486.0 933.1H1496.6V942.0H1486.0z"/>
<path fill="#d5e8ea" d="M1496.0 933.1H1526.6V942.0H1496.0z"/>
<path fill="#e6f1f2" d="M1486.0 941.4H1496.6V950.4H1486.0zM1486.0 949.8H1496.6V958.8H1486.0zM1486.0 958.2H1496.6V967.1H1486.0z"/>
<path fill="#eef6f6" d="M1496.0 941.4H1526.6V950.4H1496.0zM1496.0 949.8H1526.6V958.8H1496.0zM1496.0 958.2H1526.6V967.1H1496.0z"/>
</g>
<path fill="#ff7f0e" d="M1196.7 532.2H1207.3V541.2H1196.7zM1196.7 540.6H1207.3V549.5H1196.7zM1196.7 548.9H1207.3V557.9H1196.7zM1196.7 557.3H1207.3V566.2H1196.7zM1196.7 565.6H1207.3V574.6H1196.7zM1196.7 574.0H1207.3V582.9H1196.7zM1196.7 582.3H1207.3V591.3H1196.7zM1196.7 590.7H1207.3V599.6H1196.7zM1196.7 599.0H1207.3V608.0H1196.7zM1196.7 607.4H1207.3V616.3H1196.7zM1196.7 615.7H1207.3V624.7H1196.7zM1196.7 624.1H1207.3V633.0H1196.7zM1196.7 632.4H1207.3V641.4H1196.7zM1196.7 640.8H1207.3V649.7H1196.7zM1196.7 649.1H1207.3V658.1H1196.7zM1196.7 657.5H1207.3V666.4H1196.7zM1196.7 665.8H1207.3V674.8H1196.7zM1196.7 674.2H1207.3V683.1H1196.7zM1196.7 682.5H1207.3V691.5H1196.7zM1196.7 690.9H1207.3V699.8H1196.7zM1196.7 699.2H1207.3V708.2H1196.7zM1196.7 707.6H1207.3V716.5H1196.7zM1196.7 715.9H1207.3V724.9H1196.7zM1196.7 724.3H1207.3V733.2H1196.7zM1196.7 732.6H1207.3V741.6H1196.7zM1196.7 741.0H1207.3V750.0H1196.7zM1196.7 749.4H1207.3V758.3H1196.7zM1196.7 757.7H1207.3V766.7H1196.7zM1196.7 766.1H1207.3V775.0H1196.7zM1196.7 774.4H1207.3V783.4H1196.7zM1196.7 782.8H1207.3V791.7H1196.7zM1196.7 791.1H1207.3V800.1H1196.7zM1196.7 799.5H1207.3V808.4H1196.7zM1196.7 807.8H1207.3V816.8H1196.7zM1196.7 816.2H1207.3V825.1H1196.7zM1196.7 824.5H1207.3V833.5H1196.7zM1196.7 832.9H1207.3V841.8H1196.7zM1196.7 841.2H1207.3V850.2H1196.7zM1196.7 849.6H1207.3V858.5H1196.7zM1196.7 857.9H1207.3V866.9H1196.7zM1196.7 866.3H1207.3V875.2H1196.7zM1196.7 874.6H1207.3V883.6H1196.7zM1196.7 883.0H1207.3V891.9H1196.7zM1196.7 891.3H1207.3V900.3H1196.7zM1196.7 899.7H1207.3V908.6H1196.7zM1196.7 908.0H1207.3V917.0H1196.7zM1196.7 916.4H1207.3V925.3H1196.7zM1196.7 924.7H1207.3V933.7H1196.7zM1196.7 933.1H1207.3V942.0H1196.7zM1196.7 941.4H1207.3V950.4H1196.7z"/>
<rect x="1385.0" y="942.0" width="40.0" height="9.0" fill="#ffffff" fill-opacity="0.2"/>
<rect x="1425.0" y="941.0" width="40.0" height="10.0" fill="#ffffff" fill-opacity="0.4"/>
<rect x="1465.0" y="940.0" width="41.0" height="11.0" fill="#ffffff" fill-opacity="0.6"/>
<rect x="1198.6" y="532.0" width="8.6" height="119.0" fill="#707474" fill-opacity="0.85"/>
<rect x="1198.6" y="741.0" width="8.6" height="210.0" fill="#a4a2a0" fill-opacity="0.8"/>
<rect x="1203.8" y="651.0" width="3.4" height="90.0" fill="#909090" fill-opacity="0.55"/>
</g>
<g clip-path="url(#cph)">
<path d="M1211.3 534.4L1211.3 651.0" fill="none" stroke="#1a1a1a" stroke-opacity="0.5" stroke-width="6.0" stroke-linejoin="round" stroke-linecap="butt"/>
<text transform="rotate(-90.00,1202.00,696.00) translate(1171.75,710.00) scale(1.0920,1)" font-family='"Liberation Sans", sans-serif' font-size="40.00" fill="#bfbfbf" opacity="0.7">0.1</text>
<path d="M1442.1 534.4L1441.0 541.0" fill="none" stroke="#1a1a1a" stroke-opacity="0.5" stroke-width="6.0" stroke-linejoin="round" stroke-linecap="butt"/>
<path d="M1441.0 541.0L1438.0 580.0L1432.9 631.1" fill="none" stroke="#1a1a1a" stroke-opacity="0.5" stroke-width="6.0" stroke-linejoin="round" stroke-linecap="butt"/>
<path d="M1432.9 631.1L1431.8 647.6L1425.7 668.1L1423.6 684.6L1417.4 701.0L1415.4 711.3" fill="none" stroke="#1a1a1a" stroke-opacity="0.5" stroke-width="6.0" stroke-linejoin="round" stroke-linecap="butt"/>
<text transform="rotate(-65.00,1400.00,754.00) translate(1369.75,768.00) scale(1.0920,1)" font-family='"Liberation Sans", sans-serif' font-size="40.00" fill="#1a1a1a" opacity="0.5">0.1</text>
<path d="M1388.6 795.5L1382.5 816.1L1372.2 838.8L1361.9 863.4L1347.5 888.1L1331.0 908.7L1310.4 925.2L1289.9 937.5L1273.4 946.8" fill="none" stroke="#1a1a1a" stroke-opacity="0.5" stroke-width="6.0" stroke-linejoin="round" stroke-linecap="butt"/>
<path d="M1343.4 946.2L1370.0 940.0L1403.0 933.4" fill="none" stroke="#333333" stroke-opacity="0.5" stroke-width="6.0" stroke-linejoin="round" stroke-linecap="butt"/>
<text transform="rotate(-24.00,1446.00,918.00) translate(1415.75,932.00) scale(1.0962,1)" font-family='"Liberation Sans", sans-serif' font-size="40.00" fill="#333333" opacity="0.5">0.2</text>
<path d="M1481.2 898.4L1504.9 884.0" fill="none" stroke="#333333" stroke-opacity="0.5" stroke-width="6.0" stroke-linejoin="round" stroke-linecap="butt"/>
<path d="M1378.3 947.0L1401.0 943.7" fill="none" stroke="#4c4c4c" stroke-opacity="0.5" stroke-width="6.0" stroke-linejoin="round" stroke-linecap="butt"/>
<text transform="rotate(-15.00,1449.00,926.00) translate(1418.76,940.00) scale(1.0878,1)" font-family='"Liberation Sans", sans-serif' font-size="40.00" fill="#4c4c4c" opacity="0.5">0.3</text>
<path d="M1485.3 925.2L1503.8 921.1" fill="none" stroke="#4c4c4c" stroke-opacity="0.5" stroke-width="6.0" stroke-linejoin="round" stroke-linecap="butt"/>
<path d="M1486.0 946.0L1504.0 943.0" fill="none" stroke="#666666" stroke-opacity="0.5" stroke-width="6.0" stroke-linejoin="round" stroke-linecap="butt"/>
<text transform="rotate(-8.00,1452.00,933.00) translate(1421.77,947.00) scale(1.0795,1)" font-family='"Liberation Sans", sans-serif' font-size="40.00" fill="#666666" opacity="0.5">0.4</text>
<path d="M1212.4 919.3L1222.8 929.7M1212.4 929.7L1222.8 919.3" stroke="#ee1020" stroke-width="4.2" fill="none"/>
<rect x="1220.9" y="542.7" width="260.8" height="86.4" rx="9.5" ry="9.5" fill="#fff" fill-opacity="0.75" stroke="#000" stroke-opacity="0.75" stroke-width="3.6"/>
<text transform="translate(1251.09,576.40) scale(0.9766,1)" font-family='"Liberation Sans", sans-serif' font-size="34.78" fill="#000">min NRMSE:</text>
<text transform="translate(1229.15,615.70) scale(1.0205,1)" font-family='"Liberation Serif", serif' font-size="35.49" fill="#000">0.0133</text>
<text transform="translate(1336.77,615.70) scale(1.4301,1)" font-family='"Liberation Serif", serif' font-size="35.49" fill="#000">±</text>
<text transform="translate(1371.55,615.70) scale(1.0205,1)" font-family='"Liberation Serif", serif' font-size="35.49" fill="#000">0.0008</text>
<g><text transform="translate(1443.56,929.12) scale(0.8390,1)" font-family='"Liberation Sans", sans-serif' font-size="50.37" fill="#000">(</text><text transform="translate(1460.47,928.10) scale(0.8847,1)" font-family='"Liberation Sans", sans-serif' font-size="44.14" fill="#000">h</text><text transform="translate(1485.59,929.12) scale(0.8465,1)" font-family='"Liberation Sans", sans-serif' font-size="50.37" fill="#000">)</text></g>
</g>
<rect x="1197.0" y="532.5" width="309.3" height="417.6" fill="none" stroke="#000" stroke-width="3.1"/>
<path d="M1197.0 873.4h-13.3M1197.0 788.2h-13.3M1197.0 702.9h-13.3M1197.0 617.7h-13.3M1197.0 532.5h-13.3M1197.0 950.1v13.3M1403.2 950.1v13.3" stroke="#000" stroke-width="3.1" fill="none"/>
<text transform="translate(78.50,408.50) scale(1.0511,1)" font-family='"Liberation Serif", serif' font-size="46.62" fill="#000">2</text>
<text transform="translate(79.86,323.27) scale(0.9042,1)" font-family='"Liberation Serif", serif' font-size="46.62" fill="#000">4</text>
<text transform="translate(78.88,238.05) scale(0.9778,1)" font-family='"Liberation Serif", serif' font-size="46.62" fill="#000">6</text>
<text transform="translate(78.83,152.82) scale(1.0011,1)" font-family='"Liberation Serif", serif' font-size="46.62" fill="#000">8</text>
<text transform="translate(53.99,67.60) scale(0.9610,1)" font-family='"Liberation Serif", serif' font-size="46.62" fill="#000">10</text>
<text transform="translate(78.50,888.80) scale(1.0511,1)" font-family='"Liberation Serif", serif' font-size="46.62" fill="#000">2</text>
<text transform="translate(79.86,803.57) scale(0.9042,1)" font-family='"Liberation Serif", serif' font-size="46.62" fill="#000">4</text>
<text transform="translate(78.88,718.35) scale(0.9778,1)" font-family='"Liberation Serif", serif' font-size="46.62" fill="#000">6</text>
<text transform="translate(78.83,633.12) scale(1.0011,1)" font-family='"Liberation Serif", serif' font-size="46.62" fill="#000">8</text>
<text transform="translate(53.99,547.90) scale(0.9610,1)" font-family='"Liberation Serif", serif' font-size="46.62" fill="#000">10</text>
<text transform="translate(99.03,1008.60) scale(1.0011,1)" font-family='"Liberation Serif", serif' font-size="46.62" fill="#000">0.0</text>
<text transform="translate(305.21,1008.60) scale(1.0141,1)" font-family='"Liberation Serif", serif' font-size="46.62" fill="#000">0.2</text>
<text transform="translate(454.63,1008.60) scale(1.0011,1)" font-family='"Liberation Serif", serif' font-size="46.62" fill="#000">0.0</text>
<text transform="translate(660.81,1008.60) scale(1.0141,1)" font-family='"Liberation Serif", serif' font-size="46.62" fill="#000">0.2</text>
<text transform="translate(810.23,1008.60) scale(1.0011,1)" font-family='"Liberation Serif", serif' font-size="46.62" fill="#000">0.0</text>
<text transform="translate(1016.41,1008.60) scale(1.0141,1)" font-family='"Liberation Serif", serif' font-size="46.62" fill="#000">0.2</text>
<text transform="translate(1165.83,1008.60) scale(1.0011,1)" font-family='"Liberation Serif", serif' font-size="46.62" fill="#000">0.0</text>
<text transform="translate(1372.01,1008.60) scale(1.0141,1)" font-family='"Liberation Serif", serif' font-size="46.62" fill="#000">0.2</text>
<text transform="translate(212.56,33.60) scale(0.9341,1)" font-family='"Liberation Sans", sans-serif' font-size="46.09" fill="#000">Default</text>
<text transform="translate(507.05,33.60) scale(0.8544,1)" font-family='"Liberation Sans", sans-serif' font-size="46.09" fill="#000">Delayed</text>
<text transform="translate(665.51,33.60) scale(0.9608,1)" font-family='"Liberation Sans", sans-serif' font-size="46.09" fill="#000">Input</text>
<text transform="translate(844.55,33.60) scale(0.8556,1)" font-family='"Liberation Sans", sans-serif' font-size="46.09" fill="#000">Delayed</text>
<text transform="translate(1004.40,33.60) scale(0.9643,1)" font-family='"Liberation Sans", sans-serif' font-size="46.09" fill="#000">Output</text>
<text transform="translate(1202.57,33.60) scale(0.9783,1)" font-family='"Liberation Sans", sans-serif' font-size="46.09" fill="#000">Opt.</text>
<text transform="translate(1305.84,33.60) scale(1.0282,1)" font-family='"Liberation Sans", sans-serif' font-size="46.09" fill="#000">Int.</text>
<text transform="translate(1391.61,33.60) scale(0.8644,1)" font-family='"Liberation Sans", sans-serif' font-size="46.09" fill="#000">Delay</text>
<text transform="translate(258.78,1058.70) scale(0.8463,1)" font-family='"Liberation Sans", sans-serif' font-size="46.09" fill="#000">Feedback</text>
<text transform="translate(447.58,1058.70) scale(0.9260,1)" font-family='"Liberation Sans", sans-serif' font-size="46.09" fill="#000">Strength,</text>
<text transform="translate(639.22,1058.70) scale(1.0841,1)" font-family='"Liberation Serif", serif' font-size="47.79" font-style="italic" fill="#000">K</text>
<text transform="translate(970.38,1058.70) scale(0.8463,1)" font-family='"Liberation Sans", sans-serif' font-size="46.09" fill="#000">Feedback</text>
<text transform="translate(1159.18,1058.70) scale(0.9260,1)" font-family='"Liberation Sans", sans-serif' font-size="46.09" fill="#000">Strength,</text>
<text transform="translate(1350.82,1058.70) scale(1.0841,1)" font-family='"Liberation Serif", serif' font-size="47.79" font-style="italic" fill="#000">K</text>
<g transform="translate(33.4,422.3) rotate(-90)"><text transform="translate(-3.98,0.00) scale(0.9598,1)" font-family='"Liberation Sans", sans-serif' font-size="46.09" fill="#000">Input</text></g>
<g transform="translate(33.4,422.3) rotate(-90)"><text transform="translate(111.70,0.00) scale(0.8679,1)" font-family='"Liberation Sans", sans-serif' font-size="46.09" fill="#000">Scaling,</text></g>
<g transform="translate(33.4,422.3) rotate(-90)"><text transform="translate(267.31,0.00) scale(1.0233,1)" font-family='"Liberation Serif", serif' font-size="47.73" font-style="italic" fill="#000">G</text><text transform="translate(301.63,6.60) scale(1.0883,1)" font-family='"Liberation Serif", serif' font-size="31.06" fill="#000">1</text></g>
<g transform="translate(33.4,902.6) rotate(-90)"><text transform="translate(-3.98,0.00) scale(0.9598,1)" font-family='"Liberation Sans", sans-serif' font-size="46.09" fill="#000">Input</text></g>
<g transform="translate(33.4,902.6) rotate(-90)"><text transform="translate(111.70,0.00) scale(0.8679,1)" font-family='"Liberation Sans", sans-serif' font-size="46.09" fill="#000">Scaling,</text></g>
<g transform="translate(33.4,902.6) rotate(-90)"><text transform="translate(267.31,0.00) scale(1.0233,1)" font-family='"Liberation Serif", serif' font-size="47.73" font-style="italic" fill="#000">G</text><text transform="translate(301.63,6.60) scale(1.0883,1)" font-family='"Liberation Serif", serif' font-size="31.06" fill="#000">1</text></g>
<rect x="1549.7" y="16.7" width="21.7" height="434.6" fill="url(#cb)" stroke="#000" stroke-width="3.1"/>
<text transform="translate(1593.17,32.10) scale(0.9927,1)" font-family='"Liberation Serif", serif' font-size="46.62" fill="#000">1.00</text>
<text transform="translate(1595.25,142.80) scale(0.9929,1)" font-family='"Liberation Serif", serif' font-size="46.62" fill="#000">0.75</text>
<text transform="translate(1595.25,253.50) scale(0.9929,1)" font-family='"Liberation Serif", serif' font-size="46.62" fill="#000">0.50</text>
<text transform="translate(1595.25,364.20) scale(0.9929,1)" font-family='"Liberation Serif", serif' font-size="46.62" fill="#000">0.25</text>
<path d="M1571.4 16.7h13.3M1571.4 127.4h13.3M1571.4 238.1h13.3M1571.4 348.8h13.3" stroke="#000" stroke-width="3.1" fill="none"/>
<g transform="translate(1724.4,309.0) rotate(-90)"><text transform="translate(-3.32,0.00) scale(0.8996,1)" font-family='"Liberation Sans", sans-serif' font-size="46.09" fill="#000">NRMSE</text></g>
<rect x="1549.7" y="516.5" width="21.7" height="434.9" fill="url(#cb)" stroke="#000" stroke-width="3.1"/>
<text transform="translate(1593.17,531.90) scale(0.9927,1)" font-family='"Liberation Serif", serif' font-size="46.62" fill="#000">1.00</text>
<text transform="translate(1595.25,642.60) scale(0.9929,1)" font-family='"Liberation Serif", serif' font-size="46.62" fill="#000">0.75</text>
<text transform="translate(1595.25,753.30) scale(0.9929,1)" font-family='"Liberation Serif", serif' font-size="46.62" fill="#000">0.50</text>
<text transform="translate(1595.25,864.00) scale(0.9929,1)" font-family='"Liberation Serif", serif' font-size="46.62" fill="#000">0.25</text>
<path d="M1571.4 516.5h13.3M1571.4 627.2h13.3M1571.4 737.9h13.3M1571.4 848.6h13.3" stroke="#000" stroke-width="3.1" fill="none"/>
<g transform="translate(1724.4,809.0) rotate(-90)"><text transform="translate(-3.32,0.00) scale(0.8996,1)" font-family='"Liberation Sans", sans-serif' font-size="46.09" fill="#000">NRMSE</text></g>
</svg>
</body></html>
